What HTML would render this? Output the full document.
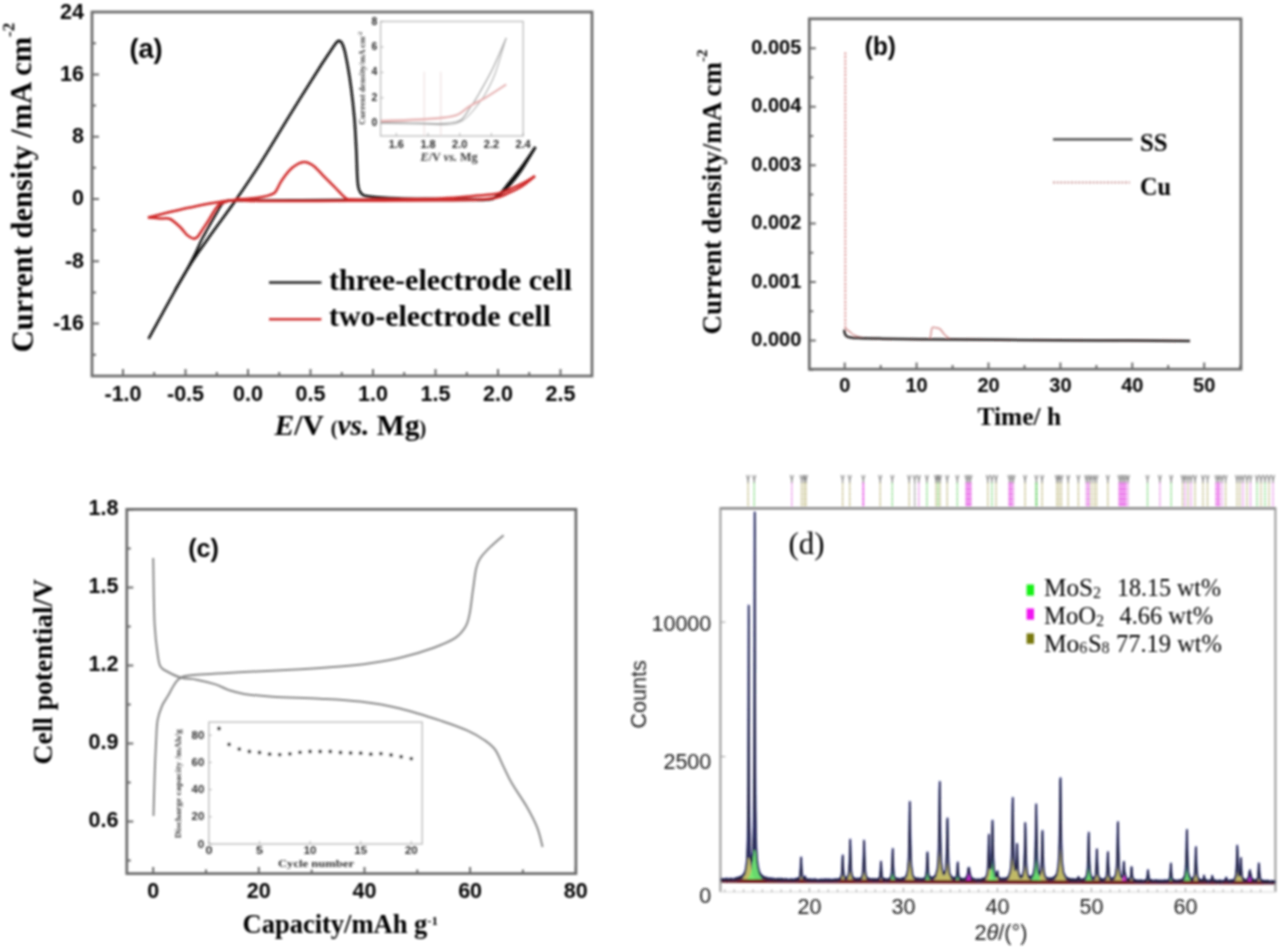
<!DOCTYPE html><html><head><meta charset="utf-8"><title>Figure</title><style>
html,body{margin:0;padding:0;background:#fff;width:1280px;height:947px;overflow:hidden}
svg{display:block}
</style></head><body>
<svg width="1280" height="947" viewBox="0 0 1280 947">
<defs><filter id="bl" x="-5%" y="-5%" width="110%" height="110%"><feGaussianBlur stdDeviation="0.85"/></filter></defs>
<rect width="1280" height="947" fill="#fff"/>
<g filter="url(#bl)">
<rect x="92" y="12" width="500" height="364" fill="none" stroke="#6a6a6a" stroke-width="2.7"/>
<path d="M92,12.1h7 M92,74.4h7 M92,136.7h7 M92,199.0h7 M92,261.3h7 M92,323.6h7 M92,43.2h4 M92,105.6h4 M92,167.8h4 M92,230.2h4 M92,292.4h4 M92,354.8h4 M123.0,376v-7 M185.5,376v-7 M248.0,376v-7 M310.5,376v-7 M373.0,376v-7 M435.5,376v-7 M498.0,376v-7 M560.5,376v-7 M154.2,376v-4 M216.8,376v-4 M279.2,376v-4 M341.8,376v-4 M404.2,376v-4 M466.8,376v-4 M529.2,376v-4" stroke="#6a6a6a" stroke-width="2" fill="none"/>
<g font-family='"Liberation Sans", sans-serif' font-weight="bold" font-size="21.5" fill="#050505">
<text x="84" y="18.5" text-anchor="end">24</text>
<text x="84" y="80.8" text-anchor="end">16</text>
<text x="84" y="143.1" text-anchor="end">8</text>
<text x="84" y="205.4" text-anchor="end">0</text>
<text x="84" y="267.7" text-anchor="end">-8</text>
<text x="84" y="330.0" text-anchor="end">-16</text>
<text x="123.0" y="400.6" text-anchor="middle">-1.0</text>
<text x="185.5" y="400.6" text-anchor="middle">-0.5</text>
<text x="248.0" y="400.6" text-anchor="middle">0.0</text>
<text x="310.5" y="400.6" text-anchor="middle">0.5</text>
<text x="373.0" y="400.6" text-anchor="middle">1.0</text>
<text x="435.5" y="400.6" text-anchor="middle">1.5</text>
<text x="498.0" y="400.6" text-anchor="middle">2.0</text>
<text x="560.5" y="400.6" text-anchor="middle">2.5</text>
</g>
<text x="129.4" y="57.6" font-family='"Liberation Sans", sans-serif' font-weight="bold" font-size="28" fill="#050505" textLength="33.3" lengthAdjust="spacingAndGlyphs">(a)</text>
<text transform="translate(31.7,187.5) rotate(-90.34)" text-anchor="middle" font-family='"Liberation Serif", serif' font-weight="bold" font-size="30.5" fill="#050505">Current density /mA cm<tspan font-size="17" dy="-16.5">-2</tspan></text>
<text x="274.5" y="434.5" font-family='"Liberation Serif", serif' font-weight="bold" font-size="29.6" fill="#050505"><tspan font-style="italic">E</tspan>/V <tspan font-size="20">(</tspan><tspan font-style="italic">vs.</tspan> Mg<tspan font-size="20">)</tspan></text>
<path d="M269,282.4H321.4" stroke="#222" stroke-width="2.5"/>
<path d="M269,319.3H321.4" stroke="#d03030" stroke-width="2.5"/>
<text x="329" y="289.6" font-family='"Liberation Serif", serif' font-weight="bold" font-size="29" fill="#050505" textLength="243" lengthAdjust="spacingAndGlyphs">three-electrode cell</text>
<text x="329" y="325.7" font-family='"Liberation Serif", serif' font-weight="bold" font-size="29" fill="#050505" textLength="222" lengthAdjust="spacingAndGlyphs">two-electrode cell</text>
<path d="M148.5,338.9 C154.7,327.8 175.6,288.9 185.6,272.1 C195.6,255.3 200.2,249.9 208.5,238.0 C216.8,226.1 227.1,212.8 235.5,200.6 C243.9,188.4 249.7,180.0 259.2,165.1 C268.7,150.2 281.9,127.9 292.3,111.1 C302.7,94.3 315.1,74.7 321.7,64.3 C328.3,53.9 329.8,52.1 332.2,48.5 C334.6,44.9 335.3,44.0 336.4,42.7 C337.4,41.4 337.6,40.9 338.5,40.9 C339.4,40.9 340.6,40.9 341.7,42.7 C342.8,44.5 343.8,47.6 344.9,51.7 C345.9,55.8 346.9,61.4 348.0,67.5 C349.1,73.7 350.1,80.1 351.2,88.6 C352.3,97.0 353.5,108.0 354.4,118.2 C355.2,128.4 355.8,140.0 356.3,150.0 C356.8,160.0 357.0,171.5 357.4,178.0 C357.8,184.5 358.0,186.3 358.8,189.0 C359.6,191.7 360.4,193.0 362.0,194.2 C363.6,195.4 362.3,195.6 368.3,196.3 C374.3,197.0 385.9,197.9 397.8,198.3 C409.8,198.8 426.6,198.8 440.0,199.0 C453.4,199.2 469.3,199.6 478.0,199.5 C486.7,199.4 488.5,199.5 492.3,198.4 C496.1,197.3 498.4,194.8 500.8,192.7 C503.2,190.6 503.2,190.1 506.5,186.0 C509.8,181.9 516.0,174.5 520.8,168.0 C525.6,161.5 533.0,150.6 535.5,147.1" fill="none" stroke="#111" stroke-width="2.6" stroke-linejoin="round"/>
<path d="M535.5,147.1 C533.0,151.1 525.6,164.0 520.8,171.0 C516.0,178.0 509.8,185.2 506.5,189.0 C503.2,192.8 503.2,192.3 500.8,194.0 C498.4,195.7 496.1,198.2 492.3,199.2 C488.5,200.2 486.7,199.9 478.0,200.0 C469.3,200.1 456.3,200.0 440.0,200.0 C423.7,200.0 403.3,199.8 380.0,199.8 C356.7,199.8 323.3,200.1 300.0,200.2 C276.7,200.3 252.0,200.4 240.0,200.5 C228.0,200.6 231.0,200.0 228.0,200.6 C225.0,201.2 223.8,202.0 222.0,204.0 C220.2,206.0 219.2,208.4 216.9,212.4 C214.6,216.4 210.5,223.5 208.0,228.0 C205.5,232.5 203.7,235.5 201.7,239.5 C199.7,243.5 198.7,246.6 196.0,252.0 C193.3,257.4 189.1,265.8 185.6,272.1 C182.1,278.4 176.8,287.0 175.0,290.0" fill="none" stroke="#111" stroke-width="2.4" stroke-linejoin="round"/>
<path d="M147.9,217.5 C149.9,217.7 156.3,218.2 160.0,218.5 C163.7,218.8 166.6,217.5 170.0,219.0 C173.4,220.5 177.8,224.8 180.6,227.5 C183.4,230.2 184.8,233.1 186.9,234.9 C189.0,236.8 191.4,238.2 193.2,238.6 C194.9,238.9 196.0,238.3 197.4,237.0 C198.8,235.7 199.9,233.3 201.7,230.7 C203.5,228.1 205.9,224.5 208.0,221.2 C210.1,217.8 212.6,213.3 214.3,210.6 C216.1,207.9 217.1,206.1 218.5,204.8 C219.9,203.5 220.1,203.5 222.8,202.7 C225.6,201.9 230.5,200.5 235.0,199.8 C239.5,199.1 245.5,199.1 250.0,198.6 C254.5,198.1 258.8,197.6 262.0,197.0 C265.2,196.4 266.8,196.1 269.0,195.3 C271.2,194.5 273.2,194.6 275.3,192.1 C277.4,189.6 278.9,184.6 281.7,180.5 C284.5,176.4 288.5,170.9 292.2,167.8 C295.9,164.7 300.4,162.2 303.9,161.9 C307.4,161.6 310.1,163.3 313.4,165.7 C316.7,168.1 320.4,172.8 323.9,176.3 C327.4,179.8 331.0,183.3 334.5,186.8 C338.0,190.3 342.1,195.3 345.0,197.4 C347.9,199.5 346.2,199.2 352.0,199.5 C357.8,199.8 365.3,199.7 380.0,199.5 C394.7,199.3 423.7,199.1 440.0,198.4 C456.3,197.8 468.5,196.4 478.0,195.6 C487.5,194.8 492.2,194.5 497.0,193.7 C501.8,192.9 502.5,192.4 506.5,190.8 C510.5,189.2 516.0,186.6 520.8,184.2 C525.5,181.8 532.6,177.4 535.0,176.1" fill="none" stroke="#d02a2a" stroke-width="2.5" stroke-linejoin="round"/>
<path d="M535.0,176.1 C532.6,177.9 525.5,184.0 520.8,187.0 C516.0,190.0 510.5,192.2 506.5,194.0 C502.5,195.8 501.8,196.6 497.0,197.5 C492.2,198.4 487.5,199.0 478.0,199.5 C468.5,200.0 461.3,200.1 440.0,200.3 C418.7,200.5 380.0,200.7 350.0,200.8 C320.0,200.9 280.0,201.0 260.0,201.0 C240.0,201.0 241.5,199.5 229.8,200.6 C218.1,201.7 203.7,204.7 190.0,207.5 C176.3,210.3 154.9,215.8 147.9,217.5" fill="none" stroke="#d02a2a" stroke-width="2.5" stroke-linejoin="round"/>
<rect x="380.6" y="21.5" width="142.5" height="114.4" fill="#fff" stroke="#b8b8b8" stroke-width="1.3"/>
<path d="M380.6,123.2h3 M380.6,97.8h3 M380.6,72.4h3 M380.6,47.0h3 M380.6,21.6h3 M396.3,135.9v-3 M428.0,135.9v-3 M459.7,135.9v-3 M491.4,135.9v-3 M523.1,135.9v-3" stroke="#aaa" stroke-width="1"/>
<g font-family='"Liberation Sans", sans-serif' font-weight="bold" font-size="10.5" fill="#2a2a2a">
<text x="374.4" y="126.1" text-anchor="middle" textLength="5.8" lengthAdjust="spacingAndGlyphs">0</text>
<text x="374.4" y="100.7" text-anchor="middle" textLength="5.8" lengthAdjust="spacingAndGlyphs">2</text>
<text x="374.4" y="75.3" text-anchor="middle" textLength="5.8" lengthAdjust="spacingAndGlyphs">4</text>
<text x="374.4" y="49.9" text-anchor="middle" textLength="5.8" lengthAdjust="spacingAndGlyphs">6</text>
<text x="374.4" y="24.5" text-anchor="middle" textLength="5.8" lengthAdjust="spacingAndGlyphs">8</text>
<text x="396.3" y="148.1" text-anchor="middle" font-size="11" textLength="15.2" lengthAdjust="spacingAndGlyphs">1.6</text>
<text x="428.0" y="148.1" text-anchor="middle" font-size="11" textLength="15.2" lengthAdjust="spacingAndGlyphs">1.8</text>
<text x="459.7" y="148.1" text-anchor="middle" font-size="11" textLength="15.2" lengthAdjust="spacingAndGlyphs">2.0</text>
<text x="491.4" y="148.1" text-anchor="middle" font-size="11" textLength="15.2" lengthAdjust="spacingAndGlyphs">2.2</text>
<text x="523.1" y="148.1" text-anchor="middle" font-size="11" textLength="15.2" lengthAdjust="spacingAndGlyphs">2.4</text>
</g>
<text x="420.6" y="161.3" font-family='"Liberation Serif", serif' font-weight="bold" font-size="11.5" fill="#3a3a3a" textLength="57" lengthAdjust="spacingAndGlyphs"><tspan font-style="italic">E</tspan>/V <tspan font-style="italic">vs.</tspan> Mg</text>
<text transform="translate(365,78.3) rotate(-90)" text-anchor="middle" font-family='"Liberation Serif", serif' font-weight="bold" font-size="8.2" fill="#3a3a3a" textLength="93" lengthAdjust="spacingAndGlyphs">Current density/mA cm<tspan font-size="5.5" dy="-3.5">-2</tspan></text>
<path d="M424.2,71.7V135.9 M440.8,71.7V135.9" stroke="#ecdada" stroke-width="1"/>
<path d="M381.0,122.5 C385.8,122.6 400.2,122.8 410.0,123.0 C419.8,123.2 432.5,123.7 440.0,123.5 C447.5,123.3 451.3,122.8 455.0,122.0 C458.7,121.2 459.5,121.3 462.0,119.0 C464.5,116.7 467.0,112.5 470.0,108.0 C473.0,103.5 476.2,98.7 480.0,92.0 C483.8,85.3 488.6,77.0 493.0,68.0 C497.4,59.0 504.0,42.9 506.2,37.9" fill="none" stroke="#999" stroke-width="1.2"/>
<path d="M381.0,123.5 C387.5,123.6 408.5,123.8 420.0,124.0 C431.5,124.2 443.0,125.0 450.0,124.5 C457.0,124.0 458.3,123.1 462.0,121.0 C465.7,118.9 468.3,116.2 472.0,112.0 C475.7,107.8 480.2,102.3 484.0,96.0 C487.8,89.7 491.3,83.7 495.0,74.0 C498.7,64.3 504.3,43.9 506.2,37.9" fill="none" stroke="#aaa" stroke-width="1.1"/>
<path d="M381.0,121.0 C387.5,120.8 409.3,120.1 420.0,119.5 C430.7,118.9 438.7,118.3 445.0,117.5 C451.3,116.7 453.8,116.4 458.0,114.5 C462.2,112.6 465.5,108.8 470.0,106.0 C474.5,103.2 479.0,101.6 485.0,98.0 C491.0,94.4 502.7,86.7 506.2,84.4" fill="none" stroke="#e8b4b4" stroke-width="2.3"/>
<rect x="809.3" y="18.8" width="431.7" height="350.4" fill="none" stroke="#6a6a6a" stroke-width="2.7"/>
<path d="M809.3,340.5h6.5 M809.3,282.1h6.5 M809.3,223.6h6.5 M809.3,165.2h6.5 M809.3,106.7h6.5 M809.3,48.3h6.5 M809.3,311.3h4 M809.3,252.8h4 M809.3,194.4h4 M809.3,136.0h4 M809.3,77.5h4 M809.3,369.7h4 M844.7,369v-6.5 M916.6,369v-6.5 M988.5,369v-6.5 M1060.4,369v-6.5 M1132.3,369v-6.5 M1204.2,369v-6.5 M880.7,369v-4 M952.6,369v-4 M1024.5,369v-4 M1096.4,369v-4 M1168.2,369v-4 M1240.2,369v-4" stroke="#6a6a6a" stroke-width="2" fill="none"/>
<g font-family='"Liberation Sans", sans-serif' font-weight="bold" font-size="20" fill="#050505">
<text x="801.3" y="345.9" text-anchor="end">0.000</text>
<text x="801.3" y="287.5" text-anchor="end">0.001</text>
<text x="801.3" y="229.0" text-anchor="end">0.002</text>
<text x="801.3" y="170.6" text-anchor="end">0.003</text>
<text x="801.3" y="112.1" text-anchor="end">0.004</text>
<text x="801.3" y="53.7" text-anchor="end">0.005</text>
<text x="844.7" y="392.3" text-anchor="middle">0</text>
<text x="916.6" y="392.3" text-anchor="middle">10</text>
<text x="988.5" y="392.3" text-anchor="middle">20</text>
<text x="1060.4" y="392.3" text-anchor="middle">30</text>
<text x="1132.3" y="392.3" text-anchor="middle">40</text>
<text x="1204.2" y="392.3" text-anchor="middle">50</text>
</g>
<text x="864.8" y="55.3" font-family='"Liberation Sans", sans-serif' font-weight="bold" font-size="25" fill="#050505" textLength="31" lengthAdjust="spacingAndGlyphs">(b)</text>
<text transform="translate(721.3,192) rotate(-90)" text-anchor="middle" font-family='"Liberation Serif", serif' font-weight="bold" font-size="27" fill="#050505">Current density/mA cm<tspan font-size="15" dy="-14.5">-2</tspan></text>
<text x="977.6" y="425" font-family='"Liberation Serif", serif' font-weight="bold" font-size="26" fill="#050505" textLength="83.4" lengthAdjust="spacingAndGlyphs">Time/ h</text>
<path d="M1053,139.4H1132.5" stroke="#444" stroke-width="2.3"/>
<path d="M1053,182.5H1130" stroke="#cc9a9a" stroke-width="1.8" stroke-dasharray="2,1.6"/>
<text x="1140" y="151.3" font-family='"Liberation Serif", serif' font-weight="bold" font-size="26" fill="#050505" textLength="27.5" lengthAdjust="spacingAndGlyphs">SS</text>
<text x="1140" y="195" font-family='"Liberation Serif", serif' font-weight="bold" font-size="26" fill="#050505" textLength="31" lengthAdjust="spacingAndGlyphs">Cu</text>
<path d="M845.3,52.5V328" stroke="#d88888" stroke-width="1.8" stroke-dasharray="2,1.6" fill="none"/>
<path d="M845.3,328.0 C845.6,328.2 846.2,328.8 847.0,329.5 C847.8,330.2 848.7,331.0 850.0,332.0 C851.3,333.0 853.0,334.6 855.0,335.5 C857.0,336.4 858.7,337.0 862.0,337.5 C865.3,338.0 868.7,338.2 875.0,338.5 C881.3,338.8 891.7,338.9 900.0,339.0 C908.3,339.1 920.0,339.5 925.0,339.3 C930.0,339.1 928.8,339.9 930.0,338.0 C931.2,336.1 931.0,329.7 932.0,328.0 C933.0,326.3 934.7,327.6 936.0,327.8 C937.3,328.0 938.7,328.0 940.0,329.0 C941.3,330.0 942.7,332.6 944.0,334.0 C945.3,335.4 946.2,336.7 948.0,337.5 C949.8,338.3 946.3,338.6 955.0,339.0 C963.7,339.4 975.8,339.6 1000.0,339.8 C1024.2,340.0 1068.3,340.2 1100.0,340.3 C1131.7,340.4 1175.0,340.6 1190.0,340.7" fill="none" stroke="#d89a9a" stroke-width="1.6"/>
<path d="M844.3,329.5 C844.4,330.2 844.5,332.8 845.0,334.0 C845.5,335.2 846.0,335.9 847.0,336.5 C848.0,337.1 849.2,337.4 851.0,337.6 C852.8,337.9 853.2,337.8 858.0,338.0 C862.8,338.2 869.7,338.4 880.0,338.6 C890.3,338.8 900.0,339.0 920.0,339.2 C940.0,339.4 970.0,339.6 1000.0,339.8 C1030.0,340.0 1068.3,340.2 1100.0,340.4 C1131.7,340.6 1175.0,340.9 1190.0,341.0" fill="none" stroke="#2a2424" stroke-width="2.5"/>
<rect x="126.8" y="509.3" width="449.1" height="364.3" fill="none" stroke="#6a6a6a" stroke-width="2.7"/>
<path d="M126.8,821.6h6.5 M126.8,743.6h6.5 M126.8,665.6h6.5 M126.8,587.6h6.5 M126.8,509.6h6.5 M126.8,860.6h4 M126.8,782.6h4 M126.8,704.6h4 M126.8,626.6h4 M126.8,548.6h4 M153.2,873.6v-6.5 M258.8,873.6v-6.5 M364.5,873.6v-6.5 M470.1,873.6v-6.5 M575.8,873.6v-6.5 M206.0,873.6v-4 M311.7,873.6v-4 M417.3,873.6v-4 M522.9,873.6v-4" stroke="#6a6a6a" stroke-width="2" fill="none"/>
<g font-family='"Liberation Sans", sans-serif' font-weight="bold" font-size="21.5" fill="#050505">
<text x="118.5" y="826.9" text-anchor="end">0.6</text>
<text x="118.5" y="748.9" text-anchor="end">0.9</text>
<text x="118.5" y="670.9" text-anchor="end">1.2</text>
<text x="118.5" y="592.9" text-anchor="end">1.5</text>
<text x="118.5" y="514.9" text-anchor="end">1.8</text>
<text x="153.2" y="897.7" text-anchor="middle">0</text>
<text x="258.8" y="897.7" text-anchor="middle">20</text>
<text x="364.5" y="897.7" text-anchor="middle">40</text>
<text x="470.1" y="897.7" text-anchor="middle">60</text>
<text x="575.8" y="897.7" text-anchor="middle">80</text>
</g>
<text x="188.2" y="557" font-family='"Liberation Sans", sans-serif' font-weight="bold" font-size="26" fill="#050505" textLength="30.8" lengthAdjust="spacingAndGlyphs">(c)</text>
<text transform="translate(51.6,671.6) rotate(-90)" text-anchor="middle" font-family='"Liberation Serif", serif' font-weight="bold" font-size="27.5" fill="#050505">Cell potential/V</text>
<text x="242.5" y="933.2" font-family='"Liberation Serif", serif' font-weight="bold" font-size="26.5" fill="#050505">Capacity/mAh g<tspan font-size="13" dy="-8">-1</tspan></text>
<path d="M153.5,816.0 C153.6,811.7 153.9,799.3 154.2,790.0 C154.5,780.7 154.8,769.2 155.2,760.0 C155.6,750.8 156.0,741.7 156.4,735.0 C156.8,728.3 156.7,724.8 157.6,720.0 C158.5,715.2 160.3,710.0 162.0,706.0 C163.7,702.0 166.0,699.3 168.0,695.8 C170.0,692.3 172.1,687.9 174.0,685.0 C175.9,682.1 176.6,680.3 179.4,678.7 C182.2,677.1 180.0,676.4 190.8,675.3 C201.6,674.2 225.6,673.1 244.0,672.1 C262.4,671.1 285.0,670.1 301.0,669.2 C317.0,668.3 328.5,667.6 340.0,666.6 C351.5,665.6 359.6,664.8 370.0,663.2 C380.4,661.6 391.6,659.8 402.2,657.2 C412.8,654.6 425.1,650.9 433.9,647.7 C442.7,644.5 449.7,641.7 455.0,638.2 C460.3,634.7 463.1,630.8 465.6,626.6 C468.1,622.4 468.6,619.0 469.8,612.9 C471.0,606.8 471.9,597.1 473.0,589.7 C474.1,582.3 474.9,573.9 476.1,568.6 C477.3,563.3 477.9,561.7 480.4,558.0 C482.9,554.3 487.0,550.2 490.9,546.4 C494.8,542.6 501.5,537.1 503.6,535.2" fill="none" stroke="#8a8a8a" stroke-width="2"/>
<path d="M153.2,558.1 C153.3,564.6 153.6,585.8 153.8,597.0 C154.1,608.2 154.1,616.0 154.7,625.5 C155.3,635.0 156.6,647.2 157.6,654.0 C158.6,660.8 158.7,663.4 160.4,666.4 C162.1,669.4 164.5,670.1 168.0,672.0 C171.5,673.9 176.6,676.5 181.3,677.8 C186.1,679.1 190.8,678.6 196.5,679.7 C202.2,680.8 210.1,682.7 215.5,684.4 C220.9,686.1 224.1,688.5 228.8,690.1 C233.6,691.7 236.7,692.8 244.0,693.9 C251.3,695.0 259.8,696.0 272.5,696.8 C285.2,697.6 305.4,697.9 320.0,698.7 C334.6,699.5 346.7,700.0 360.0,701.6 C373.3,703.2 386.3,705.2 400.0,708.5 C413.7,711.8 431.0,717.5 442.3,721.2 C453.6,724.9 460.6,727.5 467.6,730.7 C474.6,733.9 479.9,737.0 484.5,740.2 C489.1,743.4 491.9,745.3 495.1,749.7 C498.3,754.1 500.7,761.0 503.5,766.6 C506.3,772.2 508.1,776.8 512.0,783.5 C515.9,790.2 522.6,799.4 526.8,806.8 C531.0,814.2 534.7,821.2 537.3,827.9 C539.9,834.6 541.7,843.7 542.6,846.9" fill="none" stroke="#8a8a8a" stroke-width="2"/>
<rect x="208.9" y="722.2" width="213.3" height="121.7" fill="#fff" stroke="#c0c0c0" stroke-width="1.5"/>
<path d="M208.9,844.0h3 M208.9,816.8h3 M208.9,789.6h3 M208.9,762.4h3 M208.9,735.2h3 M208.9,843.9v-3 M259.5,843.9v-3 M310.1,843.9v-3 M360.7,843.9v-3 M411.3,843.9v-3" stroke="#aaa" stroke-width="1"/>
<g font-family='"Liberation Sans", sans-serif' font-weight="bold" font-size="10.5" fill="#333">
<text x="204.3" y="847.6" text-anchor="end" textLength="6.5" lengthAdjust="spacingAndGlyphs">0</text>
<text x="204.3" y="820.4" text-anchor="end" textLength="12.7" lengthAdjust="spacingAndGlyphs">20</text>
<text x="204.3" y="793.2" text-anchor="end" textLength="12.7" lengthAdjust="spacingAndGlyphs">40</text>
<text x="204.3" y="766.0" text-anchor="end" textLength="12.7" lengthAdjust="spacingAndGlyphs">60</text>
<text x="204.3" y="738.8" text-anchor="end" textLength="12.7" lengthAdjust="spacingAndGlyphs">80</text>
<text x="208.9" y="854.3" text-anchor="middle" textLength="7" lengthAdjust="spacingAndGlyphs">0</text>
<text x="259.5" y="854.3" text-anchor="middle" textLength="7" lengthAdjust="spacingAndGlyphs">5</text>
<text x="310.1" y="854.3" text-anchor="middle" textLength="12.7" lengthAdjust="spacingAndGlyphs">10</text>
<text x="360.7" y="854.3" text-anchor="middle" textLength="12.7" lengthAdjust="spacingAndGlyphs">15</text>
<text x="411.3" y="854.3" text-anchor="middle" textLength="12.7" lengthAdjust="spacingAndGlyphs">20</text>
</g>
<text x="278" y="867.3" font-family='"Liberation Serif", serif' font-weight="bold" font-size="11" fill="#333" textLength="76" lengthAdjust="spacingAndGlyphs">Cycle number</text>
<text transform="translate(181,783.8) rotate(-90)" text-anchor="middle" font-family='"Liberation Serif", serif' font-weight="bold" font-size="9" fill="#444" textLength="109" lengthAdjust="spacingAndGlyphs">Discharge capacity /mAh/g</text>
<circle cx="219.0" cy="728.5" r="1.9" fill="#222"/>
<circle cx="229.1" cy="744.4" r="1.9" fill="#222"/>
<circle cx="239.3" cy="749.1" r="1.9" fill="#222"/>
<circle cx="249.4" cy="751.5" r="1.9" fill="#222"/>
<circle cx="259.5" cy="752.5" r="1.9" fill="#222"/>
<circle cx="269.6" cy="754.2" r="1.9" fill="#222"/>
<circle cx="279.7" cy="754.6" r="1.9" fill="#222"/>
<circle cx="289.9" cy="753.8" r="1.9" fill="#222"/>
<circle cx="300.0" cy="752.3" r="1.9" fill="#222"/>
<circle cx="310.1" cy="751.5" r="1.9" fill="#222"/>
<circle cx="320.2" cy="751.5" r="1.9" fill="#222"/>
<circle cx="330.3" cy="751.5" r="1.9" fill="#222"/>
<circle cx="340.5" cy="752.5" r="1.9" fill="#222"/>
<circle cx="350.6" cy="752.9" r="1.9" fill="#222"/>
<circle cx="360.7" cy="753.2" r="1.9" fill="#222"/>
<circle cx="370.8" cy="754.2" r="1.9" fill="#222"/>
<circle cx="380.9" cy="753.6" r="1.9" fill="#222"/>
<circle cx="391.1" cy="754.9" r="1.9" fill="#222"/>
<circle cx="401.2" cy="756.7" r="1.9" fill="#222"/>
<circle cx="411.3" cy="758.6" r="1.9" fill="#222"/>
</g>
<g filter="url(#bl)">
<path d="M748.1,482V507.5" stroke="#b0a860" stroke-width="1.3" stroke-dasharray="1.5,1"/>
<path d="M746.6,475L748.1,480.5L749.6,475M748.1,480.5V483" stroke="#7a7a7a" stroke-width="1.0" fill="none"/>
<path d="M754.2,482V507.5" stroke="#60d060" stroke-width="1.3" stroke-dasharray="1.5,1"/>
<path d="M752.7,475L754.2,480.5L755.7,475M754.2,480.5V483" stroke="#7a7a7a" stroke-width="1.0" fill="none"/>
<path d="M791.8,482V507.5" stroke="#e070e0" stroke-width="1.3" stroke-dasharray="1.5,1"/>
<path d="M790.3,475L791.8,480.5L793.3,475M791.8,480.5V483" stroke="#7a7a7a" stroke-width="1.0" fill="none"/>
<path d="M801.5,482V507.5" stroke="#b0a860" stroke-width="1.3" stroke-dasharray="1.5,1"/>
<path d="M800.0,475L801.5,480.5L803.0,475M801.5,480.5V483" stroke="#7a7a7a" stroke-width="1.0" fill="none"/>
<path d="M804.0,482V507.5" stroke="#b0a860" stroke-width="1.3" stroke-dasharray="1.5,1"/>
<path d="M802.5,475L804.0,480.5L805.5,475M804.0,480.5V483" stroke="#7a7a7a" stroke-width="1.0" fill="none"/>
<path d="M806.0,482V507.5" stroke="#b0a860" stroke-width="1.3" stroke-dasharray="1.5,1"/>
<path d="M804.5,475L806.0,480.5L807.5,475M806.0,480.5V483" stroke="#7a7a7a" stroke-width="1.0" fill="none"/>
<path d="M842.6,482V507.5" stroke="#b0a860" stroke-width="1.3" stroke-dasharray="1.5,1"/>
<path d="M841.1,475L842.6,480.5L844.1,475M842.6,480.5V483" stroke="#7a7a7a" stroke-width="1.0" fill="none"/>
<path d="M849.7,482V507.5" stroke="#b0a860" stroke-width="1.3" stroke-dasharray="1.5,1"/>
<path d="M848.2,475L849.7,480.5L851.2,475M849.7,480.5V483" stroke="#7a7a7a" stroke-width="1.0" fill="none"/>
<path d="M863.3,482V507.5" stroke="#e030e0" stroke-width="2" stroke-dasharray="1.5,1"/>
<path d="M861.8,475L863.3,480.5L864.8,475M863.3,480.5V483" stroke="#7a7a7a" stroke-width="1.0" fill="none"/>
<path d="M880.2,482V507.5" stroke="#b0a860" stroke-width="1.3" stroke-dasharray="1.5,1"/>
<path d="M878.7,475L880.2,480.5L881.7,475M880.2,480.5V483" stroke="#7a7a7a" stroke-width="1.0" fill="none"/>
<path d="M892.3,482V507.5" stroke="#60d060" stroke-width="1.3" stroke-dasharray="1.5,1"/>
<path d="M890.8,475L892.3,480.5L893.8,475M892.3,480.5V483" stroke="#7a7a7a" stroke-width="1.0" fill="none"/>
<path d="M909.2,482V507.5" stroke="#b0a860" stroke-width="1.3" stroke-dasharray="1.5,1"/>
<path d="M907.7,475L909.2,480.5L910.7,475M909.2,480.5V483" stroke="#7a7a7a" stroke-width="1.0" fill="none"/>
<path d="M914.7,482V507.5" stroke="#808080" stroke-width="1.3" stroke-dasharray="1.5,1"/>
<path d="M913.2,475L914.7,480.5L916.2,475M914.7,480.5V483" stroke="#7a7a7a" stroke-width="1.0" fill="none"/>
<path d="M918.8,482V507.5" stroke="#e070e0" stroke-width="1.3" stroke-dasharray="1.5,1"/>
<path d="M917.3,475L918.8,480.5L920.3,475M918.8,480.5V483" stroke="#7a7a7a" stroke-width="1.0" fill="none"/>
<path d="M926.9,482V507.5" stroke="#60d060" stroke-width="1.3" stroke-dasharray="1.5,1"/>
<path d="M925.4,475L926.9,480.5L928.4,475M926.9,480.5V483" stroke="#7a7a7a" stroke-width="1.0" fill="none"/>
<path d="M936.0,482V507.5" stroke="#b0a860" stroke-width="1.3" stroke-dasharray="1.5,1"/>
<path d="M934.5,475L936.0,480.5L937.5,475M936.0,480.5V483" stroke="#7a7a7a" stroke-width="1.0" fill="none"/>
<path d="M938.0,482V507.5" stroke="#60d060" stroke-width="1.3" stroke-dasharray="1.5,1"/>
<path d="M936.5,475L938.0,480.5L939.5,475M938.0,480.5V483" stroke="#7a7a7a" stroke-width="1.0" fill="none"/>
<path d="M940.0,482V507.5" stroke="#b0a860" stroke-width="1.3" stroke-dasharray="1.5,1"/>
<path d="M938.5,475L940.0,480.5L941.5,475M940.0,480.5V483" stroke="#7a7a7a" stroke-width="1.0" fill="none"/>
<path d="M947.2,482V507.5" stroke="#b0a860" stroke-width="1.3" stroke-dasharray="1.5,1"/>
<path d="M945.7,475L947.2,480.5L948.7,475M947.2,480.5V483" stroke="#7a7a7a" stroke-width="1.0" fill="none"/>
<path d="M957.3,482V507.5" stroke="#60d060" stroke-width="1.3" stroke-dasharray="1.5,1"/>
<path d="M955.8,475L957.3,480.5L958.8,475M957.3,480.5V483" stroke="#7a7a7a" stroke-width="1.0" fill="none"/>
<path d="M966.5,482V507.5" stroke="#e030e0" stroke-width="2" stroke-dasharray="1.5,1"/>
<path d="M965.0,475L966.5,480.5L968.0,475M966.5,480.5V483" stroke="#7a7a7a" stroke-width="1.0" fill="none"/>
<path d="M968.5,482V507.5" stroke="#e030e0" stroke-width="2" stroke-dasharray="1.5,1"/>
<path d="M967.0,475L968.5,480.5L970.0,475M968.5,480.5V483" stroke="#7a7a7a" stroke-width="1.0" fill="none"/>
<path d="M970.5,482V507.5" stroke="#e030e0" stroke-width="2" stroke-dasharray="1.5,1"/>
<path d="M969.0,475L970.5,480.5L972.0,475M970.5,480.5V483" stroke="#7a7a7a" stroke-width="1.0" fill="none"/>
<path d="M987.8,482V507.5" stroke="#b0a860" stroke-width="1.3" stroke-dasharray="1.5,1"/>
<path d="M986.3,475L987.8,480.5L989.3,475M987.8,480.5V483" stroke="#7a7a7a" stroke-width="1.0" fill="none"/>
<path d="M991.9,482V507.5" stroke="#60d060" stroke-width="1.3" stroke-dasharray="1.5,1"/>
<path d="M990.4,475L991.9,480.5L993.4,475M991.9,480.5V483" stroke="#7a7a7a" stroke-width="1.0" fill="none"/>
<path d="M996.0,482V507.5" stroke="#b0a860" stroke-width="1.3" stroke-dasharray="1.5,1"/>
<path d="M994.5,475L996.0,480.5L997.5,475M996.0,480.5V483" stroke="#7a7a7a" stroke-width="1.0" fill="none"/>
<path d="M1009.5,482V507.5" stroke="#e030e0" stroke-width="2" stroke-dasharray="1.5,1"/>
<path d="M1008.0,475L1009.5,480.5L1011.0,475M1009.5,480.5V483" stroke="#7a7a7a" stroke-width="1.0" fill="none"/>
<path d="M1011.5,482V507.5" stroke="#e030e0" stroke-width="2" stroke-dasharray="1.5,1"/>
<path d="M1010.0,475L1011.5,480.5L1013.0,475M1011.5,480.5V483" stroke="#7a7a7a" stroke-width="1.0" fill="none"/>
<path d="M1013.5,482V507.5" stroke="#e070e0" stroke-width="1.3" stroke-dasharray="1.5,1"/>
<path d="M1012.0,475L1013.5,480.5L1015.0,475M1013.5,480.5V483" stroke="#7a7a7a" stroke-width="1.0" fill="none"/>
<path d="M1025.1,482V507.5" stroke="#b0a860" stroke-width="1.3" stroke-dasharray="1.5,1"/>
<path d="M1023.6,475L1025.1,480.5L1026.6,475M1025.1,480.5V483" stroke="#7a7a7a" stroke-width="1.0" fill="none"/>
<path d="M1036.4,482V507.5" stroke="#30c030" stroke-width="2" stroke-dasharray="1.5,1"/>
<path d="M1034.9,475L1036.4,480.5L1037.9,475M1036.4,480.5V483" stroke="#7a7a7a" stroke-width="1.0" fill="none"/>
<path d="M1042.1,482V507.5" stroke="#b0a860" stroke-width="1.3" stroke-dasharray="1.5,1"/>
<path d="M1040.6,475L1042.1,480.5L1043.6,475M1042.1,480.5V483" stroke="#7a7a7a" stroke-width="1.0" fill="none"/>
<path d="M1056.8,482V507.5" stroke="#b0a860" stroke-width="1.3" stroke-dasharray="1.5,1"/>
<path d="M1055.3,475L1056.8,480.5L1058.3,475M1056.8,480.5V483" stroke="#7a7a7a" stroke-width="1.0" fill="none"/>
<path d="M1059.0,482V507.5" stroke="#b0a860" stroke-width="1.3" stroke-dasharray="1.5,1"/>
<path d="M1057.5,475L1059.0,480.5L1060.5,475M1059.0,480.5V483" stroke="#7a7a7a" stroke-width="1.0" fill="none"/>
<path d="M1061.4,482V507.5" stroke="#b0a860" stroke-width="1.3" stroke-dasharray="1.5,1"/>
<path d="M1059.9,475L1061.4,480.5L1062.9,475M1061.4,480.5V483" stroke="#7a7a7a" stroke-width="1.0" fill="none"/>
<path d="M1068.2,482V507.5" stroke="#b0a860" stroke-width="1.3" stroke-dasharray="1.5,1"/>
<path d="M1066.7,475L1068.2,480.5L1069.7,475M1068.2,480.5V483" stroke="#7a7a7a" stroke-width="1.0" fill="none"/>
<path d="M1078.4,482V507.5" stroke="#b0a860" stroke-width="1.3" stroke-dasharray="1.5,1"/>
<path d="M1076.9,475L1078.4,480.5L1079.9,475M1078.4,480.5V483" stroke="#7a7a7a" stroke-width="1.0" fill="none"/>
<path d="M1086.3,482V507.5" stroke="#e070e0" stroke-width="1.3" stroke-dasharray="1.5,1"/>
<path d="M1084.8,475L1086.3,480.5L1087.8,475M1086.3,480.5V483" stroke="#7a7a7a" stroke-width="1.0" fill="none"/>
<path d="M1088.5,482V507.5" stroke="#e030e0" stroke-width="2" stroke-dasharray="1.5,1"/>
<path d="M1087.0,475L1088.5,480.5L1090.0,475M1088.5,480.5V483" stroke="#7a7a7a" stroke-width="1.0" fill="none"/>
<path d="M1091.0,482V507.5" stroke="#b0a860" stroke-width="1.3" stroke-dasharray="1.5,1"/>
<path d="M1089.5,475L1091.0,480.5L1092.5,475M1091.0,480.5V483" stroke="#7a7a7a" stroke-width="1.0" fill="none"/>
<path d="M1094.0,482V507.5" stroke="#b0a860" stroke-width="1.3" stroke-dasharray="1.5,1"/>
<path d="M1092.5,475L1094.0,480.5L1095.5,475M1094.0,480.5V483" stroke="#7a7a7a" stroke-width="1.0" fill="none"/>
<path d="M1096.5,482V507.5" stroke="#b0a860" stroke-width="1.3" stroke-dasharray="1.5,1"/>
<path d="M1095.0,475L1096.5,480.5L1098.0,475M1096.5,480.5V483" stroke="#7a7a7a" stroke-width="1.0" fill="none"/>
<path d="M1107.8,482V507.5" stroke="#b0a860" stroke-width="1.3" stroke-dasharray="1.5,1"/>
<path d="M1106.3,475L1107.8,480.5L1109.3,475M1107.8,480.5V483" stroke="#7a7a7a" stroke-width="1.0" fill="none"/>
<path d="M1119.5,482V507.5" stroke="#e030e0" stroke-width="2" stroke-dasharray="1.5,1"/>
<path d="M1118.0,475L1119.5,480.5L1121.0,475M1119.5,480.5V483" stroke="#7a7a7a" stroke-width="1.0" fill="none"/>
<path d="M1121.5,482V507.5" stroke="#e030e0" stroke-width="2" stroke-dasharray="1.5,1"/>
<path d="M1120.0,475L1121.5,480.5L1123.0,475M1121.5,480.5V483" stroke="#7a7a7a" stroke-width="1.0" fill="none"/>
<path d="M1123.5,482V507.5" stroke="#e030e0" stroke-width="2" stroke-dasharray="1.5,1"/>
<path d="M1122.0,475L1123.5,480.5L1125.0,475M1123.5,480.5V483" stroke="#7a7a7a" stroke-width="1.0" fill="none"/>
<path d="M1125.5,482V507.5" stroke="#e030e0" stroke-width="2" stroke-dasharray="1.5,1"/>
<path d="M1124.0,475L1125.5,480.5L1127.0,475M1125.5,480.5V483" stroke="#7a7a7a" stroke-width="1.0" fill="none"/>
<path d="M1128.0,482V507.5" stroke="#e070e0" stroke-width="1.3" stroke-dasharray="1.5,1"/>
<path d="M1126.5,475L1128.0,480.5L1129.5,475M1128.0,480.5V483" stroke="#7a7a7a" stroke-width="1.0" fill="none"/>
<path d="M1147.5,482V507.5" stroke="#60d060" stroke-width="1.3" stroke-dasharray="1.5,1"/>
<path d="M1146.0,475L1147.5,480.5L1149.0,475M1147.5,480.5V483" stroke="#7a7a7a" stroke-width="1.0" fill="none"/>
<path d="M1159.9,482V507.5" stroke="#e070e0" stroke-width="1.3" stroke-dasharray="1.5,1"/>
<path d="M1158.4,475L1159.9,480.5L1161.4,475M1159.9,480.5V483" stroke="#7a7a7a" stroke-width="1.0" fill="none"/>
<path d="M1171.2,482V507.5" stroke="#60d060" stroke-width="1.3" stroke-dasharray="1.5,1"/>
<path d="M1169.7,475L1171.2,480.5L1172.7,475M1171.2,480.5V483" stroke="#7a7a7a" stroke-width="1.0" fill="none"/>
<path d="M1182.6,482V507.5" stroke="#b0a860" stroke-width="1.3" stroke-dasharray="1.5,1"/>
<path d="M1181.1,475L1182.6,480.5L1184.1,475M1182.6,480.5V483" stroke="#7a7a7a" stroke-width="1.0" fill="none"/>
<path d="M1185.0,482V507.5" stroke="#e070e0" stroke-width="1.3" stroke-dasharray="1.5,1"/>
<path d="M1183.5,475L1185.0,480.5L1186.5,475M1185.0,480.5V483" stroke="#7a7a7a" stroke-width="1.0" fill="none"/>
<path d="M1188.0,482V507.5" stroke="#b0a860" stroke-width="1.3" stroke-dasharray="1.5,1"/>
<path d="M1186.5,475L1188.0,480.5L1189.5,475M1188.0,480.5V483" stroke="#7a7a7a" stroke-width="1.0" fill="none"/>
<path d="M1191.0,482V507.5" stroke="#e070e0" stroke-width="1.3" stroke-dasharray="1.5,1"/>
<path d="M1189.5,475L1191.0,480.5L1192.5,475M1191.0,480.5V483" stroke="#7a7a7a" stroke-width="1.0" fill="none"/>
<path d="M1195.0,482V507.5" stroke="#b0a860" stroke-width="1.3" stroke-dasharray="1.5,1"/>
<path d="M1193.5,475L1195.0,480.5L1196.5,475M1195.0,480.5V483" stroke="#7a7a7a" stroke-width="1.0" fill="none"/>
<path d="M1203.0,482V507.5" stroke="#b0a860" stroke-width="1.3" stroke-dasharray="1.5,1"/>
<path d="M1201.5,475L1203.0,480.5L1204.5,475M1203.0,480.5V483" stroke="#7a7a7a" stroke-width="1.0" fill="none"/>
<path d="M1207.5,482V507.5" stroke="#b0a860" stroke-width="1.3" stroke-dasharray="1.5,1"/>
<path d="M1206.0,475L1207.5,480.5L1209.0,475M1207.5,480.5V483" stroke="#7a7a7a" stroke-width="1.0" fill="none"/>
<path d="M1216.5,482V507.5" stroke="#e030e0" stroke-width="2" stroke-dasharray="1.5,1"/>
<path d="M1215.0,475L1216.5,480.5L1218.0,475M1216.5,480.5V483" stroke="#7a7a7a" stroke-width="1.0" fill="none"/>
<path d="M1219.0,482V507.5" stroke="#e030e0" stroke-width="2" stroke-dasharray="1.5,1"/>
<path d="M1217.5,475L1219.0,480.5L1220.5,475M1219.0,480.5V483" stroke="#7a7a7a" stroke-width="1.0" fill="none"/>
<path d="M1222.0,482V507.5" stroke="#e070e0" stroke-width="1.3" stroke-dasharray="1.5,1"/>
<path d="M1220.5,475L1222.0,480.5L1223.5,475M1222.0,480.5V483" stroke="#7a7a7a" stroke-width="1.0" fill="none"/>
<path d="M1225.6,482V507.5" stroke="#b0a860" stroke-width="1.3" stroke-dasharray="1.5,1"/>
<path d="M1224.1,475L1225.6,480.5L1227.1,475M1225.6,480.5V483" stroke="#7a7a7a" stroke-width="1.0" fill="none"/>
<path d="M1237.0,482V507.5" stroke="#b0a860" stroke-width="1.3" stroke-dasharray="1.5,1"/>
<path d="M1235.5,475L1237.0,480.5L1238.5,475M1237.0,480.5V483" stroke="#7a7a7a" stroke-width="1.0" fill="none"/>
<path d="M1240.0,482V507.5" stroke="#b0a860" stroke-width="1.3" stroke-dasharray="1.5,1"/>
<path d="M1238.5,475L1240.0,480.5L1241.5,475M1240.0,480.5V483" stroke="#7a7a7a" stroke-width="1.0" fill="none"/>
<path d="M1243.0,482V507.5" stroke="#e070e0" stroke-width="1.3" stroke-dasharray="1.5,1"/>
<path d="M1241.5,475L1243.0,480.5L1244.5,475M1243.0,480.5V483" stroke="#7a7a7a" stroke-width="1.0" fill="none"/>
<path d="M1247.0,482V507.5" stroke="#b0a860" stroke-width="1.3" stroke-dasharray="1.5,1"/>
<path d="M1245.5,475L1247.0,480.5L1248.5,475M1247.0,480.5V483" stroke="#7a7a7a" stroke-width="1.0" fill="none"/>
<path d="M1250.5,482V507.5" stroke="#e070e0" stroke-width="1.3" stroke-dasharray="1.5,1"/>
<path d="M1249.0,475L1250.5,480.5L1252.0,475M1250.5,480.5V483" stroke="#7a7a7a" stroke-width="1.0" fill="none"/>
<path d="M1257.0,482V507.5" stroke="#60d060" stroke-width="1.3" stroke-dasharray="1.5,1"/>
<path d="M1255.5,475L1257.0,480.5L1258.5,475M1257.0,480.5V483" stroke="#7a7a7a" stroke-width="1.0" fill="none"/>
<path d="M1261.0,482V507.5" stroke="#b0a860" stroke-width="1.3" stroke-dasharray="1.5,1"/>
<path d="M1259.5,475L1261.0,480.5L1262.5,475M1261.0,480.5V483" stroke="#7a7a7a" stroke-width="1.0" fill="none"/>
<path d="M1265.0,482V507.5" stroke="#60d060" stroke-width="1.3" stroke-dasharray="1.5,1"/>
<path d="M1263.5,475L1265.0,480.5L1266.5,475M1265.0,480.5V483" stroke="#7a7a7a" stroke-width="1.0" fill="none"/>
<path d="M1269.0,482V507.5" stroke="#b0a860" stroke-width="1.3" stroke-dasharray="1.5,1"/>
<path d="M1267.5,475L1269.0,480.5L1270.5,475M1269.0,480.5V483" stroke="#7a7a7a" stroke-width="1.0" fill="none"/>
<path d="M1273.0,482V507.5" stroke="#e070e0" stroke-width="1.3" stroke-dasharray="1.5,1"/>
<path d="M1271.5,475L1273.0,480.5L1274.5,475M1273.0,480.5V483" stroke="#7a7a7a" stroke-width="1.0" fill="none"/>
<path d="M720.4,892V508.3H1275.4V892" fill="none" stroke="#9a9a9a" stroke-width="2"/>
<path d="M720.4,508.3H1275.4" fill="none" stroke="#8a8a8a" stroke-width="2.2"/>
<path d="M720.4,892H1275.4" fill="none" stroke="#d8d8d8" stroke-width="1.2"/>
<path d="M724.8,892v-2.5 M734.2,892v-2.5 M743.6,892v-2.5 M753.0,892v-2.5 M762.4,892v-2.5 M771.8,892v-2.5 M781.2,892v-2.5 M790.6,892v-2.5 M800.0,892v-2.5 M809.4,892v-4 M818.8,892v-2.5 M828.2,892v-2.5 M837.6,892v-2.5 M847.0,892v-2.5 M856.4,892v-2.5 M865.8,892v-2.5 M875.2,892v-2.5 M884.6,892v-2.5 M894.0,892v-2.5 M903.4,892v-4 M912.8,892v-2.5 M922.2,892v-2.5 M931.6,892v-2.5 M941.0,892v-2.5 M950.4,892v-2.5 M959.8,892v-2.5 M969.2,892v-2.5 M978.6,892v-2.5 M988.0,892v-2.5 M997.4,892v-4 M1006.8,892v-2.5 M1016.2,892v-2.5 M1025.6,892v-2.5 M1035.0,892v-2.5 M1044.4,892v-2.5 M1053.8,892v-2.5 M1063.2,892v-2.5 M1072.6,892v-2.5 M1082.0,892v-2.5 M1091.4,892v-4 M1100.8,892v-2.5 M1110.2,892v-2.5 M1119.6,892v-2.5 M1129.0,892v-2.5 M1138.4,892v-2.5 M1147.8,892v-2.5 M1157.2,892v-2.5 M1166.6,892v-2.5 M1176.0,892v-2.5 M1185.4,892v-4 M1194.8,892v-2.5 M1204.2,892v-2.5 M1213.6,892v-2.5 M1223.0,892v-2.5 M1232.4,892v-2.5 M1241.8,892v-2.5 M1251.2,892v-2.5 M1260.6,892v-2.5" stroke="#999" stroke-width="1"/>
<path d="M720.4,622.1h5M720.4,756.6h5" stroke="#999" stroke-width="1"/>
<path d="M721.0,881.0 L721.0,879.1 L721.5,879.4 L722.0,879.9 L722.5,878.7 L723.0,879.1 L723.5,880.6 L724.0,880.3 L724.5,879.9 L725.0,879.8 L725.5,879.6 L726.0,879.9 L726.5,880.0 L727.0,879.1 L727.5,880.2 L728.0,879.9 L728.5,879.9 L729.0,879.2 L729.5,879.3 L730.0,880.1 L730.5,878.6 L731.0,880.2 L731.5,879.5 L732.0,879.2 L732.5,878.9 L733.0,879.3 L733.5,879.5 L734.0,879.8 L734.5,879.3 L735.0,879.6 L735.5,879.7 L736.0,879.2 L736.5,879.4 L737.0,878.2 L737.5,879.2 L738.0,877.6 L738.5,878.1 L739.0,877.7 L739.5,878.7 L740.0,878.0 L740.5,878.0 L741.0,878.1 L741.5,877.0 L742.0,876.3 L742.5,876.4 L743.0,875.1 L743.5,875.3 L744.0,873.4 L744.5,873.0 L745.0,872.9 L745.5,870.3 L746.0,868.1 L746.5,864.2 L747.0,858.9 L747.5,846.3 L748.0,818.1 L748.5,700.8 L748.8,616.1 L749.2,800.8 L749.8,838.9 L750.2,853.5 L750.8,859.2 L751.2,861.3 L751.8,861.0 L752.2,857.1 L752.8,852.9 L753.2,841.5 L753.8,819.4 L754.2,749.7 L754.7,512.4 L755.0,695.7 L755.5,807.6 L756.0,837.8 L756.5,851.0 L757.0,859.7 L757.5,863.3 L758.0,867.6 L758.5,869.1 L759.0,871.9 L759.5,873.3 L760.0,873.3 L760.5,875.2 L761.0,874.6 L761.5,875.8 L762.0,876.8 L762.5,876.0 L763.0,877.6 L763.5,877.9 L764.0,876.8 L764.5,878.3 L765.0,877.6 L765.5,877.9 L766.0,879.1 L766.5,877.4 L767.0,879.3 L767.5,878.5 L768.0,879.6 L768.5,879.3 L769.0,879.2 L769.5,878.5 L770.0,878.5 L770.5,879.3 L771.0,879.8 L771.5,880.0 L772.0,880.1 L772.5,880.1 L773.0,878.4 L773.5,878.7 L774.0,879.7 L774.5,879.3 L775.0,879.7 L775.5,879.0 L776.0,879.5 L776.5,879.3 L777.0,879.7 L777.5,878.9 L778.0,880.5 L778.5,880.3 L779.0,879.9 L779.5,878.8 L780.0,879.2 L780.5,879.6 L781.0,880.3 L781.5,878.9 L782.0,879.0 L782.5,880.7 L783.0,879.0 L783.5,879.4 L784.0,879.5 L784.5,880.0 L785.0,879.2 L785.5,879.1 L786.0,880.3 L786.5,879.0 L787.0,879.6 L787.5,880.4 L788.0,880.5 L788.5,879.7 L789.0,879.9 L789.5,879.7 L790.0,879.8 L790.5,880.0 L791.0,879.0 L791.5,879.7 L792.0,880.7 L792.5,880.7 L793.0,879.4 L793.5,879.1 L794.0,880.2 L794.5,880.4 L795.0,880.3 L795.5,879.0 L796.0,878.7 L796.5,880.2 L797.0,878.7 L797.5,880.2 L798.0,878.2 L798.5,878.1 L799.0,878.7 L799.5,878.2 L800.0,875.6 L800.5,869.8 L801.0,857.8 L801.5,865.4 L802.0,872.5 L802.5,876.7 L803.0,877.4 L803.5,878.0 L804.0,879.2 L804.5,877.8 L805.0,876.3 L805.5,877.5 L806.0,880.2 L806.5,880.1 L807.0,880.1 L807.5,880.2 L808.0,879.8 L808.5,880.7 L809.0,879.1 L809.5,880.8 L810.0,879.9 L810.5,879.4 L811.0,879.4 L811.5,879.7 L812.0,880.4 L812.5,879.7 L813.0,879.9 L813.5,880.3 L814.0,879.5 L814.5,880.1 L815.0,879.4 L815.5,879.7 L816.0,879.4 L816.5,880.1 L817.0,880.1 L817.5,880.8 L818.0,880.1 L818.5,880.8 L819.0,880.6 L819.5,880.1 L820.0,879.6 L820.5,880.5 L821.0,880.8 L821.5,879.5 L822.0,879.5 L822.5,880.9 L823.0,879.7 L823.5,879.8 L824.0,880.6 L824.5,879.3 L825.0,879.7 L825.5,880.3 L826.0,879.2 L826.5,880.0 L827.0,879.6 L827.5,881.0 L828.0,880.2 L828.5,879.7 L829.0,879.4 L829.5,880.9 L830.0,881.0 L830.5,880.7 L831.0,879.7 L831.5,880.4 L832.0,879.6 L832.5,881.0 L833.0,880.1 L833.5,880.0 L834.0,880.5 L834.5,880.2 L835.0,880.3 L835.5,879.3 L836.0,880.3 L836.5,880.8 L837.0,879.5 L837.5,880.0 L838.0,880.0 L838.5,879.2 L839.0,878.6 L839.5,879.7 L840.0,879.4 L840.5,877.9 L841.0,878.1 L841.5,875.3 L842.0,870.9 L842.5,858.1 L843.0,861.3 L843.5,871.4 L844.0,874.9 L844.5,876.5 L845.0,878.6 L845.5,877.7 L846.0,878.2 L846.5,878.9 L847.0,878.2 L847.5,877.2 L848.0,876.5 L848.5,874.1 L849.0,871.7 L849.5,863.5 L850.0,845.2 L850.5,848.7 L851.0,865.5 L851.5,872.5 L852.0,875.9 L852.5,877.0 L853.0,876.8 L853.5,878.7 L854.0,878.8 L854.5,878.4 L855.0,878.3 L855.5,879.6 L856.0,879.5 L856.5,880.2 L857.0,880.1 L857.5,878.6 L858.0,878.9 L858.5,879.5 L859.0,878.9 L859.5,879.6 L860.0,879.7 L860.5,879.5 L861.0,878.7 L861.5,878.2 L862.0,877.2 L862.5,874.9 L863.0,869.5 L863.5,859.7 L864.0,840.7 L864.5,853.8 L865.0,867.2 L865.5,872.7 L866.0,876.3 L866.5,876.6 L867.0,878.5 L867.5,878.4 L868.0,879.2 L868.5,878.3 L869.0,880.0 L869.5,879.5 L870.0,879.1 L870.5,879.6 L871.0,878.9 L871.5,879.2 L872.0,879.0 L872.5,879.8 L873.0,880.3 L873.5,879.8 L874.0,879.0 L874.5,879.4 L875.0,879.9 L875.5,880.2 L876.0,879.2 L876.5,880.3 L877.0,880.4 L877.5,880.6 L878.0,879.1 L878.5,879.9 L879.0,878.6 L879.5,878.4 L880.0,876.3 L880.5,869.9 L881.0,861.7 L881.5,869.9 L882.0,876.9 L882.5,879.0 L883.0,879.5 L883.5,880.1 L884.0,879.1 L884.5,880.5 L885.0,879.3 L885.5,879.0 L886.0,879.4 L886.5,880.6 L887.0,880.2 L887.5,880.3 L888.0,880.4 L888.5,879.3 L889.0,879.8 L889.5,878.5 L890.0,879.0 L890.5,878.2 L891.0,876.5 L891.5,874.3 L892.0,867.6 L892.5,853.4 L893.0,856.0 L893.5,869.7 L894.0,875.3 L894.5,877.6 L895.0,877.6 L895.5,877.7 L896.0,879.8 L896.5,879.3 L897.0,878.5 L897.5,878.9 L898.0,878.8 L898.5,879.7 L899.0,879.0 L899.5,879.0 L900.0,879.3 L900.5,879.7 L901.0,879.5 L901.5,878.7 L902.0,879.9 L902.5,878.2 L903.0,878.4 L903.5,877.9 L904.0,878.0 L904.5,878.4 L905.0,878.3 L905.5,877.0 L906.0,876.4 L906.5,876.2 L907.0,874.7 L907.5,871.9 L908.0,868.7 L908.5,861.4 L909.0,847.5 L909.5,818.3 L910.0,810.3 L910.5,843.5 L911.0,860.8 L911.5,867.1 L912.0,870.7 L912.5,874.5 L913.0,876.0 L913.5,876.6 L914.0,877.2 L914.5,878.6 L915.0,879.0 L915.5,879.0 L916.0,879.7 L916.5,878.5 L917.0,878.4 L917.5,879.6 L918.0,879.3 L918.5,878.4 L919.0,878.9 L919.5,879.1 L920.0,879.9 L920.5,878.7 L921.0,879.3 L921.5,878.7 L922.0,879.8 L922.5,880.3 L923.0,879.0 L923.5,878.7 L924.0,878.9 L924.5,878.2 L925.0,877.6 L925.5,877.9 L926.0,874.9 L926.5,872.0 L927.0,860.5 L927.5,852.4 L928.0,865.5 L928.5,873.8 L929.0,876.9 L929.5,878.2 L930.0,877.2 L930.5,878.0 L931.0,877.4 L931.5,877.5 L932.0,877.8 L932.5,878.0 L933.0,877.1 L933.5,878.0 L934.0,878.2 L934.5,876.5 L935.0,876.9 L935.5,875.6 L936.0,874.7 L936.5,872.5 L937.0,871.3 L937.5,868.7 L938.0,863.1 L938.5,854.1 L939.0,833.9 L939.5,791.6 L940.0,802.2 L940.5,839.3 L941.0,855.4 L941.5,864.3 L942.0,869.1 L942.5,870.4 L943.0,872.2 L943.5,873.9 L944.0,873.8 L944.5,873.5 L945.0,872.4 L945.5,870.8 L946.0,865.5 L946.5,857.1 L947.0,836.9 L947.5,818.4 L948.0,847.9 L948.5,862.0 L949.0,868.6 L949.5,873.4 L950.0,874.2 L950.5,875.5 L951.0,876.3 L951.5,876.6 L952.0,877.3 L952.5,878.3 L953.0,879.1 L953.5,879.2 L954.0,878.3 L954.5,877.9 L955.0,878.6 L955.5,878.5 L956.0,877.3 L956.5,875.9 L957.0,872.5 L957.5,864.6 L958.0,865.7 L958.5,874.8 L959.0,876.5 L959.5,879.0 L960.0,879.8 L960.5,878.9 L961.0,879.1 L961.5,879.0 L962.0,878.8 L962.5,879.2 L963.0,878.7 L963.5,880.3 L964.0,880.3 L964.5,879.0 L965.0,879.0 L965.5,878.4 L966.0,878.0 L966.5,878.2 L967.0,876.4 L967.5,874.5 L968.0,872.2 L968.5,868.0 L969.0,868.0 L969.5,871.7 L970.0,873.5 L970.5,875.7 L971.0,878.5 L971.5,879.0 L972.0,877.8 L972.5,879.7 L973.0,879.7 L973.5,880.1 L974.0,879.7 L974.5,879.0 L975.0,879.4 L975.5,879.6 L976.0,879.6 L976.5,880.9 L977.0,880.6 L977.5,879.5 L978.0,879.5 L978.5,879.9 L979.0,879.6 L979.5,879.4 L980.0,879.7 L980.5,879.8 L981.0,880.7 L981.5,879.5 L982.0,878.7 L982.5,880.2 L983.0,878.5 L983.5,878.9 L984.0,878.7 L984.5,878.8 L985.0,878.2 L985.5,878.2 L986.0,876.7 L986.5,875.8 L987.0,874.6 L987.5,871.3 L988.0,864.0 L988.5,849.2 L989.0,834.7 L989.5,855.8 L990.0,865.9 L990.5,868.4 L991.0,867.5 L991.5,861.4 L992.0,844.5 L992.5,820.6 L993.0,844.3 L993.5,861.0 L994.0,869.5 L994.5,871.7 L995.0,874.3 L995.5,876.5 L996.0,875.9 L996.5,876.2 L997.0,874.1 L997.5,871.1 L998.0,876.8 L998.5,876.9 L999.0,879.0 L999.5,877.9 L1000.0,879.0 L1000.5,879.9 L1001.0,878.9 L1001.5,879.5 L1002.0,878.7 L1002.5,878.5 L1003.0,878.3 L1003.5,879.3 L1004.0,878.4 L1004.5,879.0 L1005.0,879.1 L1005.5,879.8 L1006.0,878.7 L1006.5,878.1 L1007.0,877.5 L1007.5,878.1 L1008.0,877.9 L1008.5,877.4 L1009.0,875.3 L1009.5,874.6 L1010.0,872.4 L1010.5,869.8 L1011.0,867.0 L1011.5,859.2 L1012.0,841.3 L1012.5,805.4 L1013.0,814.2 L1013.5,846.9 L1014.0,859.7 L1014.5,865.6 L1015.0,868.7 L1015.5,869.6 L1016.0,867.4 L1016.5,860.5 L1017.0,843.9 L1017.5,854.9 L1018.0,866.6 L1018.5,872.1 L1019.0,874.8 L1019.5,875.7 L1020.0,877.0 L1020.5,876.7 L1021.0,876.4 L1021.5,877.0 L1022.0,876.9 L1022.5,875.2 L1023.0,874.1 L1023.5,872.2 L1024.0,867.8 L1024.5,856.9 L1025.0,835.7 L1025.5,829.1 L1026.0,854.4 L1026.5,866.1 L1027.0,870.6 L1027.5,874.4 L1028.0,875.0 L1028.5,877.1 L1029.0,877.9 L1029.5,877.7 L1030.0,876.4 L1030.5,877.9 L1031.0,877.3 L1031.5,876.6 L1032.0,876.8 L1032.5,875.2 L1033.0,874.7 L1033.5,873.0 L1034.0,870.8 L1034.5,867.8 L1035.0,859.7 L1035.5,845.0 L1036.0,812.2 L1036.5,820.5 L1037.0,850.3 L1037.5,862.0 L1038.0,867.7 L1038.5,872.2 L1039.0,873.8 L1039.5,873.5 L1040.0,874.4 L1040.5,872.5 L1041.0,868.9 L1041.5,863.8 L1042.0,846.5 L1042.5,830.8 L1043.0,855.3 L1043.5,866.6 L1044.0,871.6 L1044.5,873.9 L1045.0,875.7 L1045.5,876.8 L1046.0,878.2 L1046.5,878.5 L1047.0,879.1 L1047.5,878.8 L1048.0,878.6 L1048.5,878.3 L1049.0,878.4 L1049.5,879.1 L1050.0,879.8 L1050.5,878.8 L1051.0,879.1 L1051.5,879.8 L1052.0,878.2 L1052.5,879.2 L1053.0,879.0 L1053.5,878.4 L1054.0,878.2 L1054.5,876.9 L1055.0,878.0 L1055.5,875.6 L1056.0,876.4 L1056.5,874.8 L1057.0,873.7 L1057.5,871.9 L1058.0,868.1 L1058.5,863.3 L1059.0,856.2 L1059.5,841.8 L1060.0,806.9 L1060.5,778.2 L1061.0,824.0 L1061.5,847.9 L1062.0,860.5 L1062.5,865.6 L1063.0,869.1 L1063.5,872.6 L1064.0,874.4 L1064.5,874.5 L1065.0,876.0 L1065.5,877.2 L1066.0,878.2 L1066.5,878.4 L1067.0,878.5 L1067.5,878.4 L1068.0,879.6 L1068.5,878.4 L1069.0,879.5 L1069.5,879.4 L1070.0,880.6 L1070.5,879.5 L1071.0,879.1 L1071.5,879.9 L1072.0,880.8 L1072.5,879.1 L1073.0,879.1 L1073.5,880.9 L1074.0,879.2 L1074.5,879.8 L1075.0,879.8 L1075.5,879.5 L1076.0,879.3 L1076.5,879.2 L1077.0,879.4 L1077.5,880.1 L1078.0,878.8 L1078.5,877.0 L1079.0,879.3 L1079.5,880.7 L1080.0,879.1 L1080.5,880.9 L1081.0,880.5 L1081.5,879.9 L1082.0,880.2 L1082.5,879.6 L1083.0,879.3 L1083.5,879.2 L1084.0,879.8 L1084.5,880.1 L1085.0,878.2 L1085.5,877.4 L1086.0,877.6 L1086.5,875.6 L1087.0,873.0 L1087.5,869.4 L1088.0,860.4 L1088.5,837.6 L1089.0,842.0 L1089.5,862.8 L1090.0,870.9 L1090.5,873.7 L1091.0,875.6 L1091.5,877.7 L1092.0,877.3 L1092.5,878.4 L1093.0,878.6 L1093.5,878.0 L1094.0,878.7 L1094.5,878.7 L1095.0,877.7 L1095.5,875.4 L1096.0,869.7 L1096.5,859.8 L1097.0,849.3 L1097.5,864.5 L1098.0,873.6 L1098.5,875.4 L1099.0,878.4 L1099.5,878.2 L1100.0,880.0 L1100.5,878.5 L1101.0,879.3 L1101.5,880.7 L1102.0,879.0 L1102.5,879.4 L1103.0,880.7 L1103.5,880.6 L1104.0,879.3 L1104.5,879.5 L1105.0,878.9 L1105.5,878.1 L1106.0,878.4 L1106.5,876.3 L1107.0,870.9 L1107.5,860.1 L1108.0,852.2 L1108.5,866.3 L1109.0,873.3 L1109.5,877.3 L1110.0,877.4 L1110.5,877.9 L1111.0,878.5 L1111.5,878.3 L1112.0,878.9 L1112.5,879.4 L1113.0,878.4 L1113.5,878.8 L1114.0,879.0 L1114.5,877.0 L1115.0,876.0 L1115.5,875.4 L1116.0,872.6 L1116.5,868.6 L1117.0,859.9 L1117.5,839.8 L1118.0,822.2 L1118.5,850.0 L1119.0,864.3 L1119.5,870.4 L1120.0,873.6 L1120.5,875.8 L1121.0,876.7 L1121.5,877.1 L1122.0,876.6 L1122.5,875.8 L1123.0,873.7 L1123.5,867.4 L1124.0,861.8 L1124.5,870.9 L1125.0,874.5 L1125.5,875.4 L1126.0,877.9 L1126.5,879.0 L1127.0,880.1 L1127.5,880.3 L1128.0,878.9 L1128.5,879.0 L1129.0,880.4 L1129.5,879.9 L1130.0,878.5 L1130.5,876.9 L1131.0,875.2 L1131.5,867.0 L1132.0,871.8 L1132.5,877.4 L1133.0,878.3 L1133.5,880.7 L1134.0,880.4 L1134.5,881.1 L1135.0,880.6 L1135.5,880.0 L1136.0,881.4 L1136.5,880.4 L1137.0,880.2 L1137.5,880.8 L1138.0,881.0 L1138.5,880.6 L1139.0,881.5 L1139.5,880.6 L1140.0,881.9 L1140.5,881.2 L1141.0,881.9 L1141.5,880.5 L1142.0,880.7 L1142.5,880.7 L1143.0,881.3 L1143.5,881.3 L1144.0,881.2 L1144.5,881.0 L1145.0,881.5 L1145.5,881.3 L1146.0,881.2 L1146.5,879.9 L1147.0,879.3 L1147.5,875.1 L1148.0,870.1 L1148.5,874.6 L1149.0,878.3 L1149.5,879.9 L1150.0,880.1 L1150.5,881.4 L1151.0,879.9 L1151.5,880.9 L1152.0,881.6 L1152.5,880.7 L1153.0,881.3 L1153.5,881.8 L1154.0,880.8 L1154.5,881.3 L1155.0,881.2 L1155.5,880.2 L1156.0,880.5 L1156.5,881.9 L1157.0,880.7 L1157.5,881.5 L1158.0,881.7 L1158.5,882.2 L1159.0,880.8 L1159.5,881.9 L1160.0,881.4 L1160.5,881.1 L1161.0,880.3 L1161.5,881.9 L1162.0,881.6 L1162.5,882.1 L1163.0,880.8 L1163.5,880.5 L1164.0,880.3 L1164.5,880.9 L1165.0,881.6 L1165.5,881.7 L1166.0,880.5 L1166.5,880.8 L1167.0,881.6 L1167.5,881.6 L1168.0,880.3 L1168.5,880.8 L1169.0,879.5 L1169.5,879.0 L1170.0,877.2 L1170.5,870.3 L1171.0,863.5 L1171.5,873.3 L1172.0,878.4 L1172.5,880.0 L1173.0,879.3 L1173.5,881.0 L1174.0,881.1 L1174.5,880.1 L1175.0,880.2 L1175.5,881.0 L1176.0,880.6 L1176.5,881.7 L1177.0,880.6 L1177.5,880.7 L1178.0,880.9 L1178.5,881.7 L1179.0,881.2 L1179.5,880.1 L1180.0,881.2 L1180.5,879.9 L1181.0,880.4 L1181.5,880.4 L1182.0,880.3 L1182.5,880.6 L1183.0,879.4 L1183.5,879.0 L1184.0,878.6 L1184.5,877.2 L1185.0,874.7 L1185.5,871.0 L1186.0,863.2 L1186.5,846.0 L1187.0,829.9 L1187.5,854.0 L1188.0,866.2 L1188.5,873.0 L1189.0,874.5 L1189.5,876.0 L1190.0,878.0 L1190.5,878.4 L1191.0,879.2 L1191.5,879.8 L1192.0,880.0 L1192.5,878.3 L1193.0,878.0 L1193.5,878.8 L1194.0,877.2 L1194.5,875.1 L1195.0,870.6 L1195.5,858.1 L1196.0,847.1 L1196.5,865.1 L1197.0,871.6 L1197.5,875.7 L1198.0,877.4 L1198.5,879.5 L1199.0,880.5 L1199.5,880.8 L1200.0,879.7 L1200.5,880.3 L1201.0,879.6 L1201.5,880.7 L1202.0,881.3 L1202.5,880.4 L1203.0,879.9 L1203.5,879.1 L1204.0,875.5 L1204.5,877.6 L1205.0,879.1 L1205.5,880.9 L1206.0,880.6 L1206.5,880.4 L1207.0,880.1 L1207.5,881.7 L1208.0,881.9 L1208.5,881.3 L1209.0,881.5 L1209.5,881.0 L1210.0,880.2 L1210.5,880.8 L1211.0,881.5 L1211.5,880.2 L1212.0,876.3 L1212.5,876.9 L1213.0,878.6 L1213.5,881.3 L1214.0,880.7 L1214.5,880.3 L1215.0,881.0 L1215.5,880.4 L1216.0,880.4 L1216.5,880.8 L1217.0,882.0 L1217.5,881.3 L1218.0,880.9 L1218.5,880.6 L1219.0,881.6 L1219.5,882.3 L1220.0,880.5 L1220.5,880.4 L1221.0,881.8 L1221.5,881.6 L1222.0,882.0 L1222.5,881.1 L1223.0,880.6 L1223.5,880.7 L1224.0,880.8 L1224.5,881.1 L1225.0,880.1 L1225.5,880.3 L1226.0,877.7 L1226.5,877.8 L1227.0,880.3 L1227.5,880.8 L1228.0,881.3 L1228.5,881.1 L1229.0,881.0 L1229.5,881.9 L1230.0,881.7 L1230.5,881.4 L1231.0,881.8 L1231.5,880.2 L1232.0,880.5 L1232.5,880.8 L1233.0,880.3 L1233.5,881.1 L1234.0,880.4 L1234.5,879.7 L1235.0,878.8 L1235.5,876.0 L1236.0,874.2 L1236.5,867.7 L1237.0,852.4 L1237.5,849.4 L1238.0,864.9 L1238.5,872.3 L1239.0,875.5 L1239.5,875.9 L1240.0,872.9 L1240.5,864.8 L1241.0,858.0 L1241.5,870.1 L1242.0,876.0 L1242.5,878.9 L1243.0,878.4 L1243.5,880.6 L1244.0,879.2 L1244.5,880.6 L1245.0,880.1 L1245.5,880.0 L1246.0,881.2 L1246.5,880.4 L1247.0,879.5 L1247.5,879.7 L1248.0,878.7 L1248.5,876.8 L1249.0,876.2 L1249.5,871.7 L1250.0,870.2 L1250.5,873.6 L1251.0,876.5 L1251.5,878.8 L1252.0,880.0 L1252.5,879.1 L1253.0,879.5 L1253.5,879.6 L1254.0,879.8 L1254.5,880.2 L1255.0,880.6 L1255.5,880.5 L1256.0,880.2 L1256.5,881.0 L1257.0,879.1 L1257.5,878.4 L1258.0,876.9 L1258.5,869.2 L1259.0,864.1 L1259.5,872.7 L1260.0,877.1 L1260.5,878.6 L1261.0,880.5 L1261.5,880.7 L1262.0,880.3 L1262.5,881.9 L1263.0,880.7 L1263.5,880.7 L1264.0,881.6 L1264.5,881.6 L1265.0,882.4 L1265.5,881.2 L1266.0,882.1 L1266.5,880.7 L1267.0,881.4 L1267.5,882.2 L1268.0,880.7 L1268.5,882.4 L1269.0,881.2 L1269.5,881.5 L1270.0,882.4 L1270.5,882.1 L1271.0,882.0 L1271.5,881.6 L1272.0,881.3 L1272.5,882.5 L1273.0,880.9 L1273.5,881.7 L1274.0,881.4 L1274.5,881.4 L1275.0,881.3 L1275.0,882.8Z" fill="#23234a" fill-opacity="0.9"/>
<path d="M721.0,881.5 L721.0,881.3 L721.5,881.3 L722.0,881.3 L722.5,881.3 L723.0,881.3 L723.5,881.3 L724.0,881.3 L724.5,881.3 L725.0,881.3 L725.5,881.3 L726.0,881.3 L726.5,881.3 L727.0,881.3 L727.5,881.3 L728.0,881.2 L728.5,881.2 L729.0,881.2 L729.5,881.2 L730.0,881.2 L730.5,881.2 L731.0,881.2 L731.5,881.1 L732.0,881.1 L732.5,881.1 L733.0,881.1 L733.5,881.0 L734.0,881.0 L734.5,881.0 L735.0,880.9 L735.5,880.9 L736.0,880.9 L736.5,880.8 L737.0,880.7 L737.5,880.7 L738.0,880.6 L738.5,880.5 L739.0,880.4 L739.5,880.3 L740.0,880.1 L740.5,880.0 L741.0,879.8 L741.5,879.6 L742.0,879.3 L742.5,878.9 L743.0,878.5 L743.5,878.0 L744.0,877.4 L744.5,876.5 L745.0,875.5 L745.5,874.1 L746.0,872.2 L746.5,869.9 L747.0,867.0 L747.5,863.6 L748.0,860.4 L748.5,858.4 L748.8,858.2 L749.2,859.6 L749.8,862.6 L750.2,866.0 L750.8,869.1 L751.2,871.6 L751.8,873.6 L752.2,875.1 L752.8,876.3 L753.2,877.2 L753.8,877.9 L754.2,878.4 L754.7,878.8 L755.0,879.0 L755.5,879.4 L756.0,879.6 L756.5,879.9 L757.0,880.1 L757.5,880.2 L758.0,880.4 L758.5,880.5 L759.0,880.6 L759.5,880.7 L760.0,880.7 L760.5,880.8 L761.0,880.9 L761.5,880.9 L762.0,881.0 L762.5,881.0 L763.0,881.1 L763.5,881.1 L764.0,881.1 L764.5,881.2 L765.0,881.2 L765.5,881.2 L766.0,881.2 L766.5,881.3 L767.0,881.3 L767.5,881.3 L768.0,881.3 L768.5,881.3 L769.0,881.3 L769.5,881.4 L770.0,881.4 L770.5,881.4 L771.0,881.4 L771.5,881.4 L772.0,881.4 L772.5,881.4 L773.0,881.4 L773.5,881.4 L774.0,881.4 L774.5,881.5 L775.0,881.5 L775.5,881.5 L776.0,881.5 L776.5,881.5 L777.0,881.5 L777.5,881.5 L778.0,881.5 L778.5,881.5 L779.0,881.5 L779.5,881.5 L780.0,881.5 L780.5,881.5 L781.0,881.5 L781.5,881.5 L782.0,881.5 L782.5,881.5 L783.0,881.5 L783.5,881.5 L784.0,881.5 L784.5,881.5 L785.0,881.5 L785.5,881.5 L786.0,881.5 L786.5,881.5 L787.0,881.5 L787.5,881.5 L788.0,881.5 L788.5,881.5 L789.0,881.5 L789.5,881.5 L790.0,881.5 L790.5,881.5 L791.0,881.5 L791.5,881.5 L792.0,881.4 L792.5,881.4 L793.0,881.4 L793.5,881.4 L794.0,881.3 L794.5,881.3 L795.0,881.2 L795.5,881.1 L796.0,881.0 L796.5,880.9 L797.0,880.8 L797.5,880.5 L798.0,880.2 L798.5,879.7 L799.0,878.9 L799.5,877.5 L800.0,875.4 L800.5,872.2 L801.0,869.7 L801.5,870.9 L802.0,874.1 L802.5,876.6 L803.0,878.0 L803.5,878.8 L804.0,879.0 L804.5,878.9 L805.0,878.9 L805.5,879.4 L806.0,880.0 L806.5,880.5 L807.0,880.8 L807.5,881.0 L808.0,881.1 L808.5,881.2 L809.0,881.3 L809.5,881.4 L810.0,881.4 L810.5,881.4 L811.0,881.5 L811.5,881.5 L812.0,881.5 L812.5,881.5 L813.0,881.6 L813.5,881.6 L814.0,881.6 L814.5,881.6 L815.0,881.6 L815.5,881.6 L816.0,881.6 L816.5,881.6 L817.0,881.6 L817.5,881.6 L818.0,881.6 L818.5,881.6 L819.0,881.6 L819.5,881.6 L820.0,881.6 L820.5,881.6 L821.0,881.6 L821.5,881.6 L822.0,881.6 L822.5,881.6 L823.0,881.6 L823.5,881.6 L824.0,881.6 L824.5,881.6 L825.0,881.6 L825.5,881.6 L826.0,881.6 L826.5,881.6 L827.0,881.6 L827.5,881.6 L828.0,881.6 L828.5,881.6 L829.0,881.6 L829.5,881.6 L830.0,881.6 L830.5,881.6 L831.0,881.6 L831.5,881.6 L832.0,881.5 L832.5,881.5 L833.0,881.5 L833.5,881.5 L834.0,881.5 L834.5,881.4 L835.0,881.4 L835.5,881.3 L836.0,881.3 L836.5,881.2 L837.0,881.1 L837.5,881.0 L838.0,880.9 L838.5,880.7 L839.0,880.5 L839.5,880.1 L840.0,879.6 L840.5,878.8 L841.0,877.5 L841.5,875.4 L842.0,872.2 L842.5,869.1 L843.0,869.5 L843.5,872.7 L844.0,875.6 L844.5,877.3 L845.0,878.3 L845.5,878.8 L846.0,879.0 L846.5,878.9 L847.0,878.6 L847.5,877.9 L848.0,876.8 L848.5,874.8 L849.0,871.5 L849.5,866.4 L850.0,861.6 L850.5,862.3 L851.0,867.7 L851.5,872.5 L852.0,875.6 L852.5,877.4 L853.0,878.5 L853.5,879.3 L854.0,879.8 L854.5,880.1 L855.0,880.3 L855.5,880.5 L856.0,880.6 L856.5,880.7 L857.0,880.7 L857.5,880.7 L858.0,880.7 L858.5,880.6 L859.0,880.5 L859.5,880.3 L860.0,880.1 L860.5,879.7 L861.0,879.1 L861.5,878.3 L862.0,877.0 L862.5,874.8 L863.0,871.1 L863.5,865.8 L864.0,861.6 L864.5,863.7 L865.0,869.2 L865.5,873.6 L866.0,876.3 L866.5,877.9 L867.0,879.0 L867.5,879.6 L868.0,880.1 L868.5,880.4 L869.0,880.7 L869.5,880.8 L870.0,881.0 L870.5,881.1 L871.0,881.2 L871.5,881.2 L872.0,881.3 L872.5,881.3 L873.0,881.3 L873.5,881.3 L874.0,881.3 L874.5,881.3 L875.0,881.3 L875.5,881.3 L876.0,881.2 L876.5,881.1 L877.0,881.0 L877.5,880.8 L878.0,880.6 L878.5,880.1 L879.0,879.5 L879.5,878.4 L880.0,876.6 L880.5,874.1 L881.0,872.7 L881.5,874.2 L882.0,876.6 L882.5,878.4 L883.0,879.5 L883.5,880.2 L884.0,880.6 L884.5,880.9 L885.0,881.1 L885.5,881.2 L886.0,881.3 L886.5,881.4 L887.0,881.5 L887.5,881.5 L888.0,881.6 L888.5,881.6 L889.0,881.6 L889.5,881.6 L890.0,881.6 L890.5,881.7 L891.0,881.7 L891.5,881.7 L892.0,881.7 L892.5,881.7 L893.0,881.7 L893.5,881.7 L894.0,881.7 L894.5,881.7 L895.0,881.6 L895.5,881.6 L896.0,881.6 L896.5,881.6 L897.0,881.6 L897.5,881.6 L898.0,881.5 L898.5,881.5 L899.0,881.5 L899.5,881.4 L900.0,881.4 L900.5,881.3 L901.0,881.3 L901.5,881.2 L902.0,881.1 L902.5,881.0 L903.0,880.8 L903.5,880.7 L904.0,880.4 L904.5,880.2 L905.0,879.8 L905.5,879.3 L906.0,878.6 L906.5,877.7 L907.0,876.2 L907.5,874.0 L908.0,870.5 L908.5,864.6 L909.0,855.3 L909.5,844.9 L910.0,843.5 L910.5,853.0 L911.0,863.0 L911.5,869.5 L912.0,873.4 L912.5,875.9 L913.0,877.4 L913.5,878.4 L914.0,879.2 L914.5,879.7 L915.0,880.1 L915.5,880.4 L916.0,880.6 L916.5,880.8 L917.0,880.9 L917.5,881.0 L918.0,881.1 L918.5,881.2 L919.0,881.3 L919.5,881.3 L920.0,881.4 L920.5,881.4 L921.0,881.4 L921.5,881.5 L922.0,881.5 L922.5,881.5 L923.0,881.5 L923.5,881.5 L924.0,881.5 L924.5,881.5 L925.0,881.5 L925.5,881.5 L926.0,881.5 L926.5,881.5 L927.0,881.4 L927.5,881.4 L928.0,881.4 L928.5,881.3 L929.0,881.3 L929.5,881.2 L930.0,881.2 L930.5,881.1 L931.0,881.0 L931.5,880.9 L932.0,880.8 L932.5,880.6 L933.0,880.4 L933.5,880.2 L934.0,879.9 L934.5,879.5 L935.0,879.0 L935.5,878.3 L936.0,877.4 L936.5,876.0 L937.0,874.1 L937.5,871.0 L938.0,866.1 L938.5,857.8 L939.0,845.4 L939.5,833.4 L940.0,835.0 L940.5,847.9 L941.0,859.4 L941.5,866.6 L942.0,870.8 L942.5,873.3 L943.0,874.7 L943.5,875.4 L944.0,875.5 L944.5,875.0 L945.0,873.9 L945.5,871.6 L946.0,867.5 L946.5,860.7 L947.0,852.1 L947.5,849.0 L948.0,855.8 L948.5,864.4 L949.0,870.4 L949.5,874.0 L950.0,876.2 L950.5,877.7 L951.0,878.6 L951.5,879.3 L952.0,879.8 L952.5,880.2 L953.0,880.5 L953.5,880.7 L954.0,880.9 L954.5,881.0 L955.0,881.1 L955.5,881.2 L956.0,881.3 L956.5,881.4 L957.0,881.5 L957.5,881.5 L958.0,881.6 L958.5,881.6 L959.0,881.7 L959.5,881.7 L960.0,881.7 L960.5,881.7 L961.0,881.8 L961.5,881.8 L962.0,881.8 L962.5,881.8 L963.0,881.9 L963.5,881.9 L964.0,881.9 L964.5,881.9 L965.0,881.9 L965.5,881.9 L966.0,881.9 L966.5,881.9 L967.0,881.9 L967.5,881.9 L968.0,881.9 L968.5,882.0 L969.0,882.0 L969.5,882.0 L970.0,882.0 L970.5,882.0 L971.0,882.0 L971.5,882.0 L972.0,882.0 L972.5,882.0 L973.0,882.0 L973.5,881.9 L974.0,881.9 L974.5,881.9 L975.0,881.9 L975.5,881.9 L976.0,881.9 L976.5,881.9 L977.0,881.9 L977.5,881.9 L978.0,881.8 L978.5,881.8 L979.0,881.8 L979.5,881.8 L980.0,881.7 L980.5,881.7 L981.0,881.6 L981.5,881.6 L982.0,881.5 L982.5,881.4 L983.0,881.2 L983.5,881.1 L984.0,880.9 L984.5,880.6 L985.0,880.2 L985.5,879.7 L986.0,878.9 L986.5,877.7 L987.0,875.8 L987.5,872.6 L988.0,867.5 L988.5,861.2 L989.0,858.8 L989.5,863.6 L990.0,869.8 L990.5,874.0 L991.0,876.5 L991.5,878.1 L992.0,879.0 L992.5,879.6 L993.0,880.0 L993.5,880.3 L994.0,880.4 L994.5,880.4 L995.0,880.3 L995.5,880.0 L996.0,879.4 L996.5,878.4 L997.0,877.0 L997.5,876.6 L998.0,877.6 L998.5,879.0 L999.0,879.9 L999.5,880.4 L1000.0,880.8 L1000.5,881.0 L1001.0,881.1 L1001.5,881.1 L1002.0,881.2 L1002.5,881.2 L1003.0,881.2 L1003.5,881.1 L1004.0,881.1 L1004.5,881.0 L1005.0,880.9 L1005.5,880.8 L1006.0,880.6 L1006.5,880.4 L1007.0,880.2 L1007.5,879.8 L1008.0,879.4 L1008.5,878.8 L1009.0,878.0 L1009.5,876.8 L1010.0,875.1 L1010.5,872.5 L1011.0,868.3 L1011.5,861.2 L1012.0,850.6 L1012.5,840.3 L1013.0,841.4 L1013.5,852.0 L1014.0,861.3 L1014.5,866.6 L1015.0,869.1 L1015.5,869.2 L1016.0,867.2 L1016.5,863.1 L1017.0,859.7 L1017.5,862.1 L1018.0,867.7 L1018.5,872.1 L1019.0,874.8 L1019.5,876.4 L1020.0,877.3 L1020.5,877.8 L1021.0,878.0 L1021.5,877.9 L1022.0,877.5 L1022.5,876.6 L1023.0,875.2 L1023.5,872.7 L1024.0,868.5 L1024.5,861.7 L1025.0,854.1 L1025.5,853.2 L1026.0,860.3 L1026.5,867.7 L1027.0,872.5 L1027.5,875.5 L1028.0,877.3 L1028.5,878.4 L1029.0,879.2 L1029.5,879.8 L1030.0,880.2 L1030.5,880.4 L1031.0,880.7 L1031.5,880.8 L1032.0,881.0 L1032.5,881.0 L1033.0,881.1 L1033.5,881.2 L1034.0,881.2 L1034.5,881.2 L1035.0,881.2 L1035.5,881.1 L1036.0,881.0 L1036.5,880.9 L1037.0,880.8 L1037.5,880.6 L1038.0,880.3 L1038.5,879.9 L1039.0,879.4 L1039.5,878.5 L1040.0,877.2 L1040.5,875.2 L1041.0,871.7 L1041.5,866.2 L1042.0,859.3 L1042.5,856.7 L1043.0,862.0 L1043.5,868.7 L1044.0,873.3 L1044.5,876.1 L1045.0,877.8 L1045.5,878.9 L1046.0,879.6 L1046.5,880.1 L1047.0,880.5 L1047.5,880.7 L1048.0,880.9 L1048.5,881.0 L1049.0,881.1 L1049.5,881.1 L1050.0,881.2 L1050.5,881.2 L1051.0,881.2 L1051.5,881.1 L1052.0,881.1 L1052.5,881.0 L1053.0,880.9 L1053.5,880.7 L1054.0,880.5 L1054.5,880.2 L1055.0,879.9 L1055.5,879.4 L1056.0,878.8 L1056.5,878.0 L1057.0,876.8 L1057.5,875.0 L1058.0,872.3 L1058.5,868.0 L1059.0,860.8 L1059.5,849.3 L1060.0,834.8 L1060.5,829.4 L1061.0,840.4 L1061.5,854.5 L1062.0,864.2 L1062.5,870.1 L1063.0,873.7 L1063.5,875.9 L1064.0,877.5 L1064.5,878.5 L1065.0,879.3 L1065.5,879.8 L1066.0,880.3 L1066.5,880.6 L1067.0,880.8 L1067.5,881.1 L1068.0,881.2 L1068.5,881.4 L1069.0,881.5 L1069.5,881.6 L1070.0,881.7 L1070.5,881.7 L1071.0,881.8 L1071.5,881.8 L1072.0,881.9 L1072.5,881.9 L1073.0,881.9 L1073.5,881.9 L1074.0,881.9 L1074.5,881.9 L1075.0,881.9 L1075.5,881.8 L1076.0,881.8 L1076.5,881.6 L1077.0,881.3 L1077.5,880.8 L1078.0,880.2 L1078.5,880.0 L1079.0,880.5 L1079.5,881.1 L1080.0,881.5 L1080.5,881.7 L1081.0,881.9 L1081.5,882.0 L1082.0,882.1 L1082.5,882.1 L1083.0,882.1 L1083.5,882.2 L1084.0,882.2 L1084.5,882.2 L1085.0,882.2 L1085.5,882.2 L1086.0,882.2 L1086.5,882.2 L1087.0,882.2 L1087.5,882.1 L1088.0,882.1 L1088.5,882.1 L1089.0,882.1 L1089.5,882.0 L1090.0,882.0 L1090.5,881.9 L1091.0,881.8 L1091.5,881.7 L1092.0,881.5 L1092.5,881.3 L1093.0,881.1 L1093.5,880.7 L1094.0,880.1 L1094.5,879.3 L1095.0,877.9 L1095.5,875.7 L1096.0,872.1 L1096.5,867.5 L1097.0,865.8 L1097.5,869.2 L1098.0,873.6 L1098.5,876.6 L1099.0,878.4 L1099.5,879.5 L1100.0,880.1 L1100.5,880.6 L1101.0,880.8 L1101.5,881.0 L1102.0,881.1 L1102.5,881.1 L1103.0,881.1 L1103.5,880.9 L1104.0,880.7 L1104.5,880.4 L1105.0,880.0 L1105.5,879.2 L1106.0,877.9 L1106.5,875.9 L1107.0,872.5 L1107.5,868.3 L1108.0,866.7 L1108.5,869.9 L1109.0,873.9 L1109.5,876.7 L1110.0,878.3 L1110.5,879.2 L1111.0,879.8 L1111.5,880.1 L1112.0,880.3 L1112.5,880.3 L1113.0,880.2 L1113.5,879.9 L1114.0,879.5 L1114.5,878.9 L1115.0,878.0 L1115.5,876.5 L1116.0,874.0 L1116.5,870.0 L1117.0,863.4 L1117.5,855.2 L1118.0,852.1 L1118.5,858.3 L1119.0,866.2 L1119.5,871.6 L1120.0,874.7 L1120.5,876.5 L1121.0,877.5 L1121.5,877.8 L1122.0,877.6 L1122.5,876.7 L1123.0,874.8 L1123.5,872.3 L1124.0,871.4 L1124.5,873.6 L1125.0,876.4 L1125.5,878.3 L1126.0,879.4 L1126.5,880.1 L1127.0,880.5 L1127.5,880.8 L1128.0,880.9 L1128.5,880.8 L1129.0,880.6 L1129.5,880.2 L1130.0,879.5 L1130.5,878.2 L1131.0,876.2 L1131.5,874.7 L1132.0,875.5 L1132.5,877.6 L1133.0,879.3 L1133.5,880.4 L1134.0,881.0 L1134.5,881.4 L1135.0,881.7 L1135.5,881.9 L1136.0,882.1 L1136.5,882.2 L1137.0,882.2 L1137.5,882.3 L1138.0,882.4 L1138.5,882.4 L1139.0,882.5 L1139.5,882.5 L1140.0,882.5 L1140.5,882.5 L1141.0,882.6 L1141.5,882.6 L1142.0,882.6 L1142.5,882.6 L1143.0,882.6 L1143.5,882.6 L1144.0,882.6 L1144.5,882.7 L1145.0,882.7 L1145.5,882.7 L1146.0,882.7 L1146.5,882.7 L1147.0,882.7 L1147.5,882.7 L1148.0,882.7 L1148.5,882.7 L1149.0,882.7 L1149.5,882.7 L1150.0,882.7 L1150.5,882.7 L1151.0,882.8 L1151.5,882.8 L1152.0,882.8 L1152.5,882.8 L1153.0,882.8 L1153.5,882.8 L1154.0,882.8 L1154.5,882.8 L1155.0,882.8 L1155.5,882.8 L1156.0,882.8 L1156.5,882.8 L1157.0,882.8 L1157.5,882.8 L1158.0,882.8 L1158.5,882.8 L1159.0,882.8 L1159.5,882.8 L1160.0,882.8 L1160.5,882.8 L1161.0,882.8 L1161.5,882.8 L1162.0,882.8 L1162.5,882.8 L1163.0,882.8 L1163.5,882.8 L1164.0,882.8 L1164.5,882.8 L1165.0,882.8 L1165.5,882.8 L1166.0,882.8 L1166.5,882.8 L1167.0,882.8 L1167.5,882.8 L1168.0,882.8 L1168.5,882.8 L1169.0,882.8 L1169.5,882.9 L1170.0,882.9 L1170.5,882.9 L1171.0,882.9 L1171.5,882.9 L1172.0,882.9 L1172.5,882.9 L1173.0,882.9 L1173.5,882.9 L1174.0,882.9 L1174.5,882.9 L1175.0,882.9 L1175.5,882.9 L1176.0,882.9 L1176.5,882.8 L1177.0,882.8 L1177.5,882.8 L1178.0,882.8 L1178.5,882.8 L1179.0,882.8 L1179.5,882.8 L1180.0,882.8 L1180.5,882.8 L1181.0,882.8 L1181.5,882.8 L1182.0,882.8 L1182.5,882.8 L1183.0,882.8 L1183.5,882.8 L1184.0,882.8 L1184.5,882.8 L1185.0,882.7 L1185.5,882.7 L1186.0,882.7 L1186.5,882.7 L1187.0,882.6 L1187.5,882.6 L1188.0,882.6 L1188.5,882.5 L1189.0,882.5 L1189.5,882.4 L1190.0,882.3 L1190.5,882.2 L1191.0,882.0 L1191.5,881.8 L1192.0,881.5 L1192.5,881.1 L1193.0,880.5 L1193.5,879.6 L1194.0,878.2 L1194.5,875.8 L1195.0,872.0 L1195.5,867.2 L1196.0,865.4 L1196.5,869.1 L1197.0,873.7 L1197.5,876.9 L1198.0,878.8 L1198.5,880.0 L1199.0,880.7 L1199.5,881.2 L1200.0,881.5 L1200.5,881.7 L1201.0,881.8 L1201.5,881.8 L1202.0,881.7 L1202.5,881.5 L1203.0,881.0 L1203.5,880.3 L1204.0,879.7 L1204.5,880.0 L1205.0,880.9 L1205.5,881.5 L1206.0,881.9 L1206.5,882.1 L1207.0,882.3 L1207.5,882.4 L1208.0,882.4 L1208.5,882.4 L1209.0,882.4 L1209.5,882.3 L1210.0,882.1 L1210.5,881.8 L1211.0,881.4 L1211.5,880.6 L1212.0,879.8 L1212.5,879.7 L1213.0,880.5 L1213.5,881.3 L1214.0,881.8 L1214.5,882.2 L1215.0,882.4 L1215.5,882.5 L1216.0,882.6 L1216.5,882.7 L1217.0,882.7 L1217.5,882.7 L1218.0,882.7 L1218.5,882.8 L1219.0,882.8 L1219.5,882.8 L1220.0,882.8 L1220.5,882.8 L1221.0,882.7 L1221.5,882.7 L1222.0,882.7 L1222.5,882.6 L1223.0,882.6 L1223.5,882.5 L1224.0,882.3 L1224.5,882.0 L1225.0,881.6 L1225.5,881.0 L1226.0,880.3 L1226.5,880.4 L1227.0,881.1 L1227.5,881.6 L1228.0,882.0 L1228.5,882.2 L1229.0,882.3 L1229.5,882.3 L1230.0,882.3 L1230.5,882.3 L1231.0,882.2 L1231.5,882.1 L1232.0,882.0 L1232.5,881.8 L1233.0,881.5 L1233.5,881.2 L1234.0,880.7 L1234.5,880.0 L1235.0,878.9 L1235.5,877.2 L1236.0,874.3 L1236.5,869.9 L1237.0,864.8 L1237.5,863.9 L1238.0,868.0 L1238.5,872.0 L1239.0,874.1 L1239.5,874.3 L1240.0,872.9 L1240.5,870.3 L1241.0,869.6 L1241.5,872.4 L1242.0,875.8 L1242.5,878.2 L1243.0,879.6 L1243.5,880.5 L1244.0,881.1 L1244.5,881.5 L1245.0,881.8 L1245.5,882.0 L1246.0,882.2 L1246.5,882.3 L1247.0,882.4 L1247.5,882.5 L1248.0,882.6 L1248.5,882.6 L1249.0,882.6 L1249.5,882.7 L1250.0,882.7 L1250.5,882.7 L1251.0,882.7 L1251.5,882.7 L1252.0,882.7 L1252.5,882.7 L1253.0,882.6 L1253.5,882.6 L1254.0,882.5 L1254.5,882.4 L1255.0,882.3 L1255.5,882.1 L1256.0,881.8 L1256.5,881.3 L1257.0,880.5 L1257.5,879.3 L1258.0,877.2 L1258.5,874.6 L1259.0,873.7 L1259.5,875.6 L1260.0,878.2 L1260.5,879.9 L1261.0,881.0 L1261.5,881.6 L1262.0,882.0 L1262.5,882.3 L1263.0,882.5 L1263.5,882.6 L1264.0,882.7 L1264.5,882.8 L1265.0,882.9 L1265.5,882.9 L1266.0,883.0 L1266.5,883.0 L1267.0,883.0 L1267.5,883.0 L1268.0,883.1 L1268.5,883.1 L1269.0,883.1 L1269.5,883.1 L1270.0,883.1 L1270.5,883.1 L1271.0,883.1 L1271.5,883.2 L1272.0,883.2 L1272.5,883.2 L1273.0,883.2 L1273.5,883.2 L1274.0,883.2 L1274.5,883.2 L1275.0,883.2 L1275.0,883.3Z" fill="#d4cc66" fill-opacity="0.88" stroke="#d4cc66" stroke-width="0.9"/>
<path d="M721.0,881.5 L721.0,881.4 L721.5,881.4 L722.0,881.4 L722.5,881.4 L723.0,881.4 L723.5,881.4 L724.0,881.3 L724.5,881.3 L725.0,881.3 L725.5,881.3 L726.0,881.3 L726.5,881.3 L727.0,881.3 L727.5,881.3 L728.0,881.3 L728.5,881.3 L729.0,881.3 L729.5,881.3 L730.0,881.3 L730.5,881.3 L731.0,881.3 L731.5,881.3 L732.0,881.2 L732.5,881.2 L733.0,881.2 L733.5,881.2 L734.0,881.2 L734.5,881.2 L735.0,881.2 L735.5,881.1 L736.0,881.1 L736.5,881.1 L737.0,881.1 L737.5,881.0 L738.0,881.0 L738.5,881.0 L739.0,881.0 L739.5,880.9 L740.0,880.9 L740.5,880.8 L741.0,880.8 L741.5,880.7 L742.0,880.7 L742.5,880.6 L743.0,880.5 L743.5,880.4 L744.0,880.3 L744.5,880.2 L745.0,880.0 L745.5,879.9 L746.0,879.7 L746.5,879.5 L747.0,879.2 L747.5,878.9 L748.0,878.5 L748.5,878.1 L748.8,877.8 L749.2,877.2 L749.8,876.4 L750.2,875.5 L750.8,874.2 L751.2,872.6 L751.8,870.4 L752.2,867.7 L752.8,864.1 L753.2,859.8 L753.8,855.3 L754.2,851.6 L754.7,850.4 L755.0,850.9 L755.5,854.0 L756.0,858.5 L756.5,862.9 L757.0,866.7 L757.5,869.7 L758.0,872.0 L758.5,873.8 L759.0,875.1 L759.5,876.2 L760.0,877.0 L760.5,877.7 L761.0,878.2 L761.5,878.7 L762.0,879.0 L762.5,879.3 L763.0,879.6 L763.5,879.8 L764.0,880.0 L764.5,880.1 L765.0,880.3 L765.5,880.4 L766.0,880.5 L766.5,880.6 L767.0,880.7 L767.5,880.8 L768.0,880.8 L768.5,880.9 L769.0,880.9 L769.5,881.0 L770.0,881.0 L770.5,881.1 L771.0,881.1 L771.5,881.1 L772.0,881.2 L772.5,881.2 L773.0,881.2 L773.5,881.2 L774.0,881.3 L774.5,881.3 L775.0,881.3 L775.5,881.3 L776.0,881.3 L776.5,881.4 L777.0,881.4 L777.5,881.4 L778.0,881.4 L778.5,881.4 L779.0,881.4 L779.5,881.4 L780.0,881.5 L780.5,881.5 L781.0,881.5 L781.5,881.5 L782.0,881.5 L782.5,881.5 L783.0,881.5 L783.5,881.5 L784.0,881.5 L784.5,881.5 L785.0,881.5 L785.5,881.5 L786.0,881.6 L786.5,881.6 L787.0,881.6 L787.5,881.6 L788.0,881.6 L788.5,881.6 L789.0,881.6 L789.5,881.6 L790.0,881.6 L790.5,881.6 L791.0,881.6 L791.5,881.6 L792.0,881.6 L792.5,881.6 L793.0,881.6 L793.5,881.6 L794.0,881.6 L794.5,881.6 L795.0,881.6 L795.5,881.6 L796.0,881.6 L796.5,881.7 L797.0,881.7 L797.5,881.7 L798.0,881.7 L798.5,881.7 L799.0,881.7 L799.5,881.7 L800.0,881.7 L800.5,881.7 L801.0,881.7 L801.5,881.7 L802.0,881.7 L802.5,881.7 L803.0,881.7 L803.5,881.7 L804.0,881.7 L804.5,881.7 L805.0,881.7 L805.5,881.7 L806.0,881.7 L806.5,881.7 L807.0,881.7 L807.5,881.7 L808.0,881.7 L808.5,881.7 L809.0,881.7 L809.5,881.7 L810.0,881.7 L810.5,881.7 L811.0,881.7 L811.5,881.7 L812.0,881.7 L812.5,881.7 L813.0,881.7 L813.5,881.7 L814.0,881.8 L814.5,881.8 L815.0,881.8 L815.5,881.8 L816.0,881.8 L816.5,881.8 L817.0,881.8 L817.5,881.8 L818.0,881.8 L818.5,881.8 L819.0,881.8 L819.5,881.8 L820.0,881.8 L820.5,881.8 L821.0,881.8 L821.5,881.8 L822.0,881.8 L822.5,881.8 L823.0,881.8 L823.5,881.8 L824.0,881.8 L824.5,881.8 L825.0,881.8 L825.5,881.8 L826.0,881.8 L826.5,881.8 L827.0,881.8 L827.5,881.8 L828.0,881.8 L828.5,881.8 L829.0,881.8 L829.5,881.8 L830.0,881.8 L830.5,881.8 L831.0,881.8 L831.5,881.8 L832.0,881.8 L832.5,881.8 L833.0,881.8 L833.5,881.8 L834.0,881.8 L834.5,881.8 L835.0,881.8 L835.5,881.8 L836.0,881.8 L836.5,881.8 L837.0,881.8 L837.5,881.8 L838.0,881.8 L838.5,881.8 L839.0,881.8 L839.5,881.8 L840.0,881.9 L840.5,881.9 L841.0,881.9 L841.5,881.9 L842.0,881.9 L842.5,881.9 L843.0,881.9 L843.5,881.9 L844.0,881.9 L844.5,881.9 L845.0,881.9 L845.5,881.9 L846.0,881.9 L846.5,881.9 L847.0,881.9 L847.5,881.9 L848.0,881.9 L848.5,881.9 L849.0,881.9 L849.5,881.9 L850.0,881.9 L850.5,881.9 L851.0,881.9 L851.5,881.9 L852.0,881.9 L852.5,881.9 L853.0,881.9 L853.5,881.9 L854.0,881.9 L854.5,881.9 L855.0,881.9 L855.5,881.9 L856.0,881.9 L856.5,881.9 L857.0,881.9 L857.5,881.9 L858.0,881.9 L858.5,881.9 L859.0,881.9 L859.5,881.9 L860.0,881.9 L860.5,881.9 L861.0,881.9 L861.5,881.9 L862.0,881.9 L862.5,881.9 L863.0,881.9 L863.5,881.9 L864.0,881.9 L864.5,881.9 L865.0,881.9 L865.5,881.9 L866.0,881.9 L866.5,881.9 L867.0,881.9 L867.5,881.9 L868.0,881.9 L868.5,881.9 L869.0,881.9 L869.5,881.9 L870.0,881.9 L870.5,881.9 L871.0,881.9 L871.5,881.9 L872.0,881.9 L872.5,881.9 L873.0,881.9 L873.5,881.9 L874.0,881.9 L874.5,881.9 L875.0,881.9 L875.5,881.9 L876.0,881.9 L876.5,881.9 L877.0,881.9 L877.5,881.9 L878.0,881.9 L878.5,881.9 L879.0,881.9 L879.5,881.9 L880.0,881.9 L880.5,881.9 L881.0,881.8 L881.5,881.8 L882.0,881.8 L882.5,881.8 L883.0,881.8 L883.5,881.8 L884.0,881.7 L884.5,881.7 L885.0,881.7 L885.5,881.6 L886.0,881.6 L886.5,881.5 L887.0,881.4 L887.5,881.3 L888.0,881.1 L888.5,880.9 L889.0,880.6 L889.5,880.2 L890.0,879.6 L890.5,878.7 L891.0,877.1 L891.5,874.5 L892.0,870.6 L892.5,866.9 L893.0,867.4 L893.5,871.5 L894.0,875.2 L894.5,877.5 L895.0,878.9 L895.5,879.8 L896.0,880.3 L896.5,880.7 L897.0,881.0 L897.5,881.2 L898.0,881.3 L898.5,881.4 L899.0,881.5 L899.5,881.6 L900.0,881.7 L900.5,881.7 L901.0,881.7 L901.5,881.8 L902.0,881.8 L902.5,881.8 L903.0,881.8 L903.5,881.9 L904.0,881.9 L904.5,881.9 L905.0,881.9 L905.5,881.9 L906.0,881.9 L906.5,881.9 L907.0,881.9 L907.5,881.9 L908.0,881.9 L908.5,882.0 L909.0,882.0 L909.5,882.0 L910.0,882.0 L910.5,882.0 L911.0,882.0 L911.5,882.0 L912.0,882.0 L912.5,882.0 L913.0,882.0 L913.5,882.0 L914.0,882.0 L914.5,881.9 L915.0,881.9 L915.5,881.9 L916.0,881.9 L916.5,881.9 L917.0,881.9 L917.5,881.9 L918.0,881.9 L918.5,881.8 L919.0,881.8 L919.5,881.8 L920.0,881.7 L920.5,881.7 L921.0,881.6 L921.5,881.6 L922.0,881.5 L922.5,881.3 L923.0,881.2 L923.5,880.9 L924.0,880.6 L924.5,880.1 L925.0,879.4 L925.5,878.2 L926.0,876.2 L926.5,873.0 L927.0,869.0 L927.5,867.5 L928.0,870.6 L928.5,874.5 L929.0,877.1 L929.5,878.7 L930.0,879.7 L930.5,880.4 L931.0,880.8 L931.5,881.1 L932.0,881.3 L932.5,881.4 L933.0,881.5 L933.5,881.6 L934.0,881.7 L934.5,881.8 L935.0,881.8 L935.5,881.8 L936.0,881.9 L936.5,881.9 L937.0,881.9 L937.5,881.9 L938.0,882.0 L938.5,882.0 L939.0,882.0 L939.5,882.0 L940.0,882.0 L940.5,882.0 L941.0,882.0 L941.5,882.0 L942.0,882.0 L942.5,882.0 L943.0,882.0 L943.5,882.0 L944.0,882.1 L944.5,882.1 L945.0,882.1 L945.5,882.0 L946.0,882.0 L946.5,882.0 L947.0,882.0 L947.5,882.0 L948.0,882.0 L948.5,882.0 L949.0,882.0 L949.5,882.0 L950.0,882.0 L950.5,881.9 L951.0,881.9 L951.5,881.9 L952.0,881.8 L952.5,881.7 L953.0,881.6 L953.5,881.5 L954.0,881.4 L954.5,881.1 L955.0,880.7 L955.5,880.2 L956.0,879.2 L956.5,877.7 L957.0,875.3 L957.5,873.0 L958.0,873.4 L958.5,875.8 L959.0,878.1 L959.5,879.5 L960.0,880.3 L960.5,880.8 L961.0,881.2 L961.5,881.4 L962.0,881.6 L962.5,881.7 L963.0,881.8 L963.5,881.8 L964.0,881.9 L964.5,881.9 L965.0,882.0 L965.5,882.0 L966.0,882.0 L966.5,882.0 L967.0,882.1 L967.5,882.1 L968.0,882.1 L968.5,882.1 L969.0,882.1 L969.5,882.1 L970.0,882.1 L970.5,882.1 L971.0,882.1 L971.5,882.1 L972.0,882.1 L972.5,882.1 L973.0,882.1 L973.5,882.1 L974.0,882.1 L974.5,882.1 L975.0,882.1 L975.5,882.1 L976.0,882.1 L976.5,882.1 L977.0,882.1 L977.5,882.1 L978.0,882.1 L978.5,882.1 L979.0,882.1 L979.5,882.0 L980.0,882.0 L980.5,882.0 L981.0,882.0 L981.5,882.0 L982.0,881.9 L982.5,881.9 L983.0,881.9 L983.5,881.8 L984.0,881.8 L984.5,881.7 L985.0,881.6 L985.5,881.5 L986.0,881.4 L986.5,881.2 L987.0,881.0 L987.5,880.8 L988.0,880.4 L988.5,880.0 L989.0,879.3 L989.5,878.4 L990.0,877.0 L990.5,874.7 L991.0,871.0 L991.5,864.9 L992.0,856.6 L992.5,851.8 L993.0,856.6 L993.5,864.9 L994.0,871.0 L994.5,874.7 L995.0,877.0 L995.5,878.4 L996.0,879.4 L996.5,880.0 L997.0,880.5 L997.5,880.8 L998.0,881.1 L998.5,881.3 L999.0,881.4 L999.5,881.5 L1000.0,881.6 L1000.5,881.7 L1001.0,881.8 L1001.5,881.9 L1002.0,881.9 L1002.5,882.0 L1003.0,882.0 L1003.5,882.0 L1004.0,882.0 L1004.5,882.1 L1005.0,882.1 L1005.5,882.1 L1006.0,882.1 L1006.5,882.1 L1007.0,882.2 L1007.5,882.2 L1008.0,882.2 L1008.5,882.2 L1009.0,882.2 L1009.5,882.2 L1010.0,882.2 L1010.5,882.2 L1011.0,882.2 L1011.5,882.2 L1012.0,882.2 L1012.5,882.2 L1013.0,882.2 L1013.5,882.2 L1014.0,882.2 L1014.5,882.2 L1015.0,882.2 L1015.5,882.2 L1016.0,882.2 L1016.5,882.2 L1017.0,882.2 L1017.5,882.2 L1018.0,882.2 L1018.5,882.2 L1019.0,882.2 L1019.5,882.2 L1020.0,882.2 L1020.5,882.2 L1021.0,882.2 L1021.5,882.2 L1022.0,882.2 L1022.5,882.1 L1023.0,882.1 L1023.5,882.1 L1024.0,882.1 L1024.5,882.1 L1025.0,882.0 L1025.5,882.0 L1026.0,882.0 L1026.5,881.9 L1027.0,881.9 L1027.5,881.8 L1028.0,881.7 L1028.5,881.6 L1029.0,881.5 L1029.5,881.4 L1030.0,881.2 L1030.5,881.0 L1031.0,880.7 L1031.5,880.3 L1032.0,879.8 L1032.5,879.1 L1033.0,878.1 L1033.5,876.6 L1034.0,874.3 L1034.5,870.5 L1035.0,864.2 L1035.5,854.6 L1036.0,845.4 L1036.5,846.7 L1037.0,856.7 L1037.5,865.7 L1038.0,871.4 L1038.5,874.8 L1039.0,877.0 L1039.5,878.4 L1040.0,879.3 L1040.5,879.9 L1041.0,880.4 L1041.5,880.8 L1042.0,881.1 L1042.5,881.3 L1043.0,881.4 L1043.5,881.6 L1044.0,881.7 L1044.5,881.8 L1045.0,881.9 L1045.5,881.9 L1046.0,882.0 L1046.5,882.0 L1047.0,882.1 L1047.5,882.1 L1048.0,882.2 L1048.5,882.2 L1049.0,882.2 L1049.5,882.2 L1050.0,882.3 L1050.5,882.3 L1051.0,882.3 L1051.5,882.3 L1052.0,882.3 L1052.5,882.3 L1053.0,882.4 L1053.5,882.4 L1054.0,882.4 L1054.5,882.4 L1055.0,882.4 L1055.5,882.4 L1056.0,882.4 L1056.5,882.4 L1057.0,882.4 L1057.5,882.4 L1058.0,882.4 L1058.5,882.4 L1059.0,882.4 L1059.5,882.5 L1060.0,882.5 L1060.5,882.5 L1061.0,882.5 L1061.5,882.5 L1062.0,882.5 L1062.5,882.5 L1063.0,882.5 L1063.5,882.5 L1064.0,882.5 L1064.5,882.5 L1065.0,882.5 L1065.5,882.5 L1066.0,882.5 L1066.5,882.5 L1067.0,882.5 L1067.5,882.5 L1068.0,882.5 L1068.5,882.5 L1069.0,882.5 L1069.5,882.5 L1070.0,882.5 L1070.5,882.5 L1071.0,882.5 L1071.5,882.5 L1072.0,882.5 L1072.5,882.5 L1073.0,882.5 L1073.5,882.5 L1074.0,882.4 L1074.5,882.4 L1075.0,882.4 L1075.5,882.4 L1076.0,882.4 L1076.5,882.4 L1077.0,882.4 L1077.5,882.4 L1078.0,882.3 L1078.5,882.3 L1079.0,882.3 L1079.5,882.2 L1080.0,882.2 L1080.5,882.2 L1081.0,882.1 L1081.5,882.0 L1082.0,881.9 L1082.5,881.8 L1083.0,881.7 L1083.5,881.5 L1084.0,881.3 L1084.5,880.9 L1085.0,880.5 L1085.5,879.9 L1086.0,878.9 L1086.5,877.4 L1087.0,875.0 L1087.5,871.0 L1088.0,864.9 L1088.5,859.0 L1089.0,859.8 L1089.5,866.2 L1090.0,872.0 L1090.5,875.6 L1091.0,877.8 L1091.5,879.2 L1092.0,880.0 L1092.5,880.6 L1093.0,881.0 L1093.5,881.4 L1094.0,881.6 L1094.5,881.8 L1095.0,881.9 L1095.5,882.0 L1096.0,882.1 L1096.5,882.2 L1097.0,882.2 L1097.5,882.3 L1098.0,882.3 L1098.5,882.4 L1099.0,882.4 L1099.5,882.4 L1100.0,882.5 L1100.5,882.5 L1101.0,882.5 L1101.5,882.5 L1102.0,882.5 L1102.5,882.5 L1103.0,882.6 L1103.5,882.6 L1104.0,882.6 L1104.5,882.6 L1105.0,882.6 L1105.5,882.6 L1106.0,882.6 L1106.5,882.6 L1107.0,882.6 L1107.5,882.6 L1108.0,882.6 L1108.5,882.6 L1109.0,882.7 L1109.5,882.7 L1110.0,882.7 L1110.5,882.7 L1111.0,882.7 L1111.5,882.7 L1112.0,882.7 L1112.5,882.7 L1113.0,882.7 L1113.5,882.7 L1114.0,882.7 L1114.5,882.7 L1115.0,882.7 L1115.5,882.7 L1116.0,882.7 L1116.5,882.7 L1117.0,882.7 L1117.5,882.7 L1118.0,882.7 L1118.5,882.7 L1119.0,882.7 L1119.5,882.7 L1120.0,882.7 L1120.5,882.7 L1121.0,882.7 L1121.5,882.7 L1122.0,882.7 L1122.5,882.7 L1123.0,882.7 L1123.5,882.7 L1124.0,882.7 L1124.5,882.7 L1125.0,882.7 L1125.5,882.7 L1126.0,882.8 L1126.5,882.8 L1127.0,882.8 L1127.5,882.8 L1128.0,882.8 L1128.5,882.8 L1129.0,882.8 L1129.5,882.8 L1130.0,882.8 L1130.5,882.8 L1131.0,882.8 L1131.5,882.8 L1132.0,882.8 L1132.5,882.8 L1133.0,882.8 L1133.5,882.8 L1134.0,882.8 L1134.5,882.8 L1135.0,882.8 L1135.5,882.8 L1136.0,882.7 L1136.5,882.7 L1137.0,882.7 L1137.5,882.7 L1138.0,882.7 L1138.5,882.7 L1139.0,882.7 L1139.5,882.7 L1140.0,882.7 L1140.5,882.7 L1141.0,882.7 L1141.5,882.6 L1142.0,882.6 L1142.5,882.6 L1143.0,882.5 L1143.5,882.5 L1144.0,882.4 L1144.5,882.3 L1145.0,882.1 L1145.5,881.8 L1146.0,881.4 L1146.5,880.7 L1147.0,879.6 L1147.5,878.0 L1148.0,877.1 L1148.5,878.0 L1149.0,879.6 L1149.5,880.7 L1150.0,881.4 L1150.5,881.8 L1151.0,882.1 L1151.5,882.3 L1152.0,882.4 L1152.5,882.5 L1153.0,882.5 L1153.5,882.6 L1154.0,882.6 L1154.5,882.6 L1155.0,882.7 L1155.5,882.7 L1156.0,882.7 L1156.5,882.7 L1157.0,882.7 L1157.5,882.7 L1158.0,882.7 L1158.5,882.7 L1159.0,882.7 L1159.5,882.7 L1160.0,882.7 L1160.5,882.7 L1161.0,882.7 L1161.5,882.7 L1162.0,882.7 L1162.5,882.7 L1163.0,882.6 L1163.5,882.6 L1164.0,882.6 L1164.5,882.6 L1165.0,882.5 L1165.5,882.4 L1166.0,882.4 L1166.5,882.3 L1167.0,882.1 L1167.5,881.9 L1168.0,881.6 L1168.5,881.1 L1169.0,880.4 L1169.5,879.2 L1170.0,877.2 L1170.5,874.8 L1171.0,873.9 L1171.5,875.7 L1172.0,878.1 L1172.5,879.7 L1173.0,880.7 L1173.5,881.3 L1174.0,881.7 L1174.5,881.9 L1175.0,882.1 L1175.5,882.2 L1176.0,882.2 L1176.5,882.3 L1177.0,882.3 L1177.5,882.3 L1178.0,882.3 L1178.5,882.3 L1179.0,882.2 L1179.5,882.2 L1180.0,882.1 L1180.5,882.0 L1181.0,881.9 L1181.5,881.7 L1182.0,881.5 L1182.5,881.2 L1183.0,880.8 L1183.5,880.2 L1184.0,879.3 L1184.5,878.0 L1185.0,875.8 L1185.5,872.2 L1186.0,866.4 L1186.5,859.2 L1187.0,856.5 L1187.5,862.0 L1188.0,869.1 L1188.5,873.9 L1189.0,876.8 L1189.5,878.6 L1190.0,879.8 L1190.5,880.5 L1191.0,881.0 L1191.5,881.4 L1192.0,881.7 L1192.5,881.9 L1193.0,882.1 L1193.5,882.2 L1194.0,882.3 L1194.5,882.4 L1195.0,882.5 L1195.5,882.5 L1196.0,882.6 L1196.5,882.6 L1197.0,882.7 L1197.5,882.7 L1198.0,882.7 L1198.5,882.8 L1199.0,882.8 L1199.5,882.8 L1200.0,882.8 L1200.5,882.8 L1201.0,882.9 L1201.5,882.9 L1202.0,882.9 L1202.5,882.9 L1203.0,882.9 L1203.5,882.9 L1204.0,882.9 L1204.5,882.9 L1205.0,882.9 L1205.5,883.0 L1206.0,883.0 L1206.5,883.0 L1207.0,883.0 L1207.5,883.0 L1208.0,883.0 L1208.5,883.0 L1209.0,883.0 L1209.5,883.0 L1210.0,883.0 L1210.5,883.0 L1211.0,883.0 L1211.5,883.0 L1212.0,883.0 L1212.5,883.0 L1213.0,883.0 L1213.5,883.0 L1214.0,883.0 L1214.5,883.0 L1215.0,883.0 L1215.5,883.1 L1216.0,883.1 L1216.5,883.1 L1217.0,883.1 L1217.5,883.1 L1218.0,883.1 L1218.5,883.1 L1219.0,883.1 L1219.5,883.1 L1220.0,883.1 L1220.5,883.1 L1221.0,883.1 L1221.5,883.1 L1222.0,883.1 L1222.5,883.1 L1223.0,883.1 L1223.5,883.1 L1224.0,883.1 L1224.5,883.1 L1225.0,883.1 L1225.5,883.1 L1226.0,883.1 L1226.5,883.1 L1227.0,883.1 L1227.5,883.1 L1228.0,883.1 L1228.5,883.1 L1229.0,883.1 L1229.5,883.1 L1230.0,883.1 L1230.5,883.1 L1231.0,883.1 L1231.5,883.1 L1232.0,883.1 L1232.5,883.1 L1233.0,883.1 L1233.5,883.1 L1234.0,883.1 L1234.5,883.1 L1235.0,883.1 L1235.5,883.1 L1236.0,883.2 L1236.5,883.2 L1237.0,883.2 L1237.5,883.2 L1238.0,883.2 L1238.5,883.2 L1239.0,883.2 L1239.5,883.2 L1240.0,883.2 L1240.5,883.2 L1241.0,883.2 L1241.5,883.2 L1242.0,883.2 L1242.5,883.2 L1243.0,883.2 L1243.5,883.2 L1244.0,883.2 L1244.5,883.2 L1245.0,883.2 L1245.5,883.2 L1246.0,883.2 L1246.5,883.2 L1247.0,883.2 L1247.5,883.2 L1248.0,883.2 L1248.5,883.2 L1249.0,883.2 L1249.5,883.2 L1250.0,883.2 L1250.5,883.2 L1251.0,883.2 L1251.5,883.2 L1252.0,883.2 L1252.5,883.2 L1253.0,883.2 L1253.5,883.2 L1254.0,883.2 L1254.5,883.2 L1255.0,883.2 L1255.5,883.2 L1256.0,883.2 L1256.5,883.2 L1257.0,883.2 L1257.5,883.2 L1258.0,883.2 L1258.5,883.2 L1259.0,883.2 L1259.5,883.2 L1260.0,883.2 L1260.5,883.2 L1261.0,883.2 L1261.5,883.2 L1262.0,883.2 L1262.5,883.2 L1263.0,883.2 L1263.5,883.3 L1264.0,883.3 L1264.5,883.3 L1265.0,883.3 L1265.5,883.3 L1266.0,883.3 L1266.5,883.3 L1267.0,883.3 L1267.5,883.3 L1268.0,883.3 L1268.5,883.3 L1269.0,883.3 L1269.5,883.3 L1270.0,883.3 L1270.5,883.3 L1271.0,883.3 L1271.5,883.3 L1272.0,883.3 L1272.5,883.3 L1273.0,883.3 L1273.5,883.3 L1274.0,883.3 L1274.5,883.3 L1275.0,883.3 L1275.0,883.3Z" fill="#70f070" fill-opacity="0.88" stroke="#70f070" stroke-width="0.9"/>
<path d="M721.0,881.5 L721.0,881.5 L721.5,881.5 L722.0,881.5 L722.5,881.5 L723.0,881.5 L723.5,881.5 L724.0,881.5 L724.5,881.5 L725.0,881.5 L725.5,881.5 L726.0,881.5 L726.5,881.5 L727.0,881.5 L727.5,881.5 L728.0,881.5 L728.5,881.5 L729.0,881.5 L729.5,881.5 L730.0,881.5 L730.5,881.5 L731.0,881.5 L731.5,881.5 L732.0,881.5 L732.5,881.5 L733.0,881.5 L733.5,881.5 L734.0,881.5 L734.5,881.5 L735.0,881.5 L735.5,881.5 L736.0,881.5 L736.5,881.5 L737.0,881.6 L737.5,881.6 L738.0,881.6 L738.5,881.6 L739.0,881.6 L739.5,881.6 L740.0,881.6 L740.5,881.6 L741.0,881.6 L741.5,881.6 L742.0,881.6 L742.5,881.6 L743.0,881.6 L743.5,881.6 L744.0,881.6 L744.5,881.6 L745.0,881.6 L745.5,881.6 L746.0,881.6 L746.5,881.6 L747.0,881.6 L747.5,881.6 L748.0,881.6 L748.5,881.6 L748.8,881.6 L749.2,881.6 L749.8,881.6 L750.2,881.6 L750.8,881.6 L751.2,881.6 L751.8,881.6 L752.2,881.6 L752.8,881.6 L753.2,881.6 L753.8,881.6 L754.2,881.6 L754.7,881.6 L755.0,881.6 L755.5,881.6 L756.0,881.6 L756.5,881.6 L757.0,881.6 L757.5,881.6 L758.0,881.6 L758.5,881.6 L759.0,881.6 L759.5,881.6 L760.0,881.6 L760.5,881.6 L761.0,881.6 L761.5,881.6 L762.0,881.6 L762.5,881.6 L763.0,881.6 L763.5,881.6 L764.0,881.6 L764.5,881.6 L765.0,881.6 L765.5,881.6 L766.0,881.6 L766.5,881.6 L767.0,881.6 L767.5,881.6 L768.0,881.7 L768.5,881.7 L769.0,881.7 L769.5,881.7 L770.0,881.7 L770.5,881.7 L771.0,881.7 L771.5,881.7 L772.0,881.7 L772.5,881.7 L773.0,881.7 L773.5,881.7 L774.0,881.7 L774.5,881.7 L775.0,881.7 L775.5,881.7 L776.0,881.7 L776.5,881.7 L777.0,881.7 L777.5,881.7 L778.0,881.7 L778.5,881.7 L779.0,881.7 L779.5,881.7 L780.0,881.7 L780.5,881.7 L781.0,881.7 L781.5,881.7 L782.0,881.7 L782.5,881.7 L783.0,881.7 L783.5,881.7 L784.0,881.7 L784.5,881.7 L785.0,881.7 L785.5,881.7 L786.0,881.7 L786.5,881.7 L787.0,881.7 L787.5,881.7 L788.0,881.7 L788.5,881.7 L789.0,881.7 L789.5,881.7 L790.0,881.7 L790.5,881.7 L791.0,881.7 L791.5,881.7 L792.0,881.7 L792.5,881.7 L793.0,881.7 L793.5,881.7 L794.0,881.7 L794.5,881.7 L795.0,881.7 L795.5,881.7 L796.0,881.7 L796.5,881.7 L797.0,881.7 L797.5,881.7 L798.0,881.7 L798.5,881.7 L799.0,881.8 L799.5,881.8 L800.0,881.8 L800.5,881.8 L801.0,881.8 L801.5,881.8 L802.0,881.8 L802.5,881.8 L803.0,881.8 L803.5,881.8 L804.0,881.8 L804.5,881.8 L805.0,881.8 L805.5,881.8 L806.0,881.8 L806.5,881.8 L807.0,881.8 L807.5,881.8 L808.0,881.8 L808.5,881.8 L809.0,881.8 L809.5,881.8 L810.0,881.8 L810.5,881.8 L811.0,881.8 L811.5,881.8 L812.0,881.8 L812.5,881.8 L813.0,881.8 L813.5,881.8 L814.0,881.8 L814.5,881.8 L815.0,881.8 L815.5,881.8 L816.0,881.8 L816.5,881.8 L817.0,881.8 L817.5,881.8 L818.0,881.8 L818.5,881.8 L819.0,881.8 L819.5,881.8 L820.0,881.8 L820.5,881.8 L821.0,881.8 L821.5,881.8 L822.0,881.8 L822.5,881.8 L823.0,881.8 L823.5,881.8 L824.0,881.8 L824.5,881.8 L825.0,881.8 L825.5,881.8 L826.0,881.8 L826.5,881.8 L827.0,881.8 L827.5,881.8 L828.0,881.8 L828.5,881.8 L829.0,881.8 L829.5,881.8 L830.0,881.9 L830.5,881.9 L831.0,881.9 L831.5,881.9 L832.0,881.9 L832.5,881.9 L833.0,881.9 L833.5,881.9 L834.0,881.9 L834.5,881.9 L835.0,881.9 L835.5,881.9 L836.0,881.9 L836.5,881.9 L837.0,881.9 L837.5,881.9 L838.0,881.9 L838.5,881.9 L839.0,881.9 L839.5,881.9 L840.0,881.9 L840.5,881.9 L841.0,881.9 L841.5,881.9 L842.0,881.9 L842.5,881.9 L843.0,881.9 L843.5,881.9 L844.0,881.9 L844.5,881.9 L845.0,881.9 L845.5,881.9 L846.0,881.9 L846.5,881.9 L847.0,881.9 L847.5,881.9 L848.0,881.9 L848.5,881.9 L849.0,881.9 L849.5,881.9 L850.0,881.9 L850.5,881.9 L851.0,881.9 L851.5,881.9 L852.0,881.9 L852.5,881.9 L853.0,881.9 L853.5,881.9 L854.0,881.9 L854.5,881.9 L855.0,881.9 L855.5,881.9 L856.0,881.9 L856.5,881.9 L857.0,881.9 L857.5,881.9 L858.0,881.9 L858.5,881.9 L859.0,881.9 L859.5,881.9 L860.0,881.9 L860.5,881.9 L861.0,882.0 L861.5,882.0 L862.0,882.0 L862.5,882.0 L863.0,882.0 L863.5,882.0 L864.0,882.0 L864.5,882.0 L865.0,882.0 L865.5,882.0 L866.0,882.0 L866.5,882.0 L867.0,882.0 L867.5,882.0 L868.0,882.0 L868.5,882.0 L869.0,882.0 L869.5,882.0 L870.0,882.0 L870.5,882.0 L871.0,882.0 L871.5,882.0 L872.0,882.0 L872.5,882.0 L873.0,882.0 L873.5,882.0 L874.0,882.0 L874.5,882.0 L875.0,882.0 L875.5,882.0 L876.0,882.0 L876.5,882.0 L877.0,882.0 L877.5,882.0 L878.0,882.0 L878.5,882.0 L879.0,882.0 L879.5,882.0 L880.0,882.0 L880.5,882.0 L881.0,882.0 L881.5,882.0 L882.0,882.0 L882.5,882.0 L883.0,882.0 L883.5,882.0 L884.0,882.0 L884.5,882.0 L885.0,882.0 L885.5,882.0 L886.0,882.0 L886.5,882.0 L887.0,882.0 L887.5,882.0 L888.0,882.0 L888.5,882.0 L889.0,882.0 L889.5,882.0 L890.0,882.0 L890.5,882.0 L891.0,882.0 L891.5,882.0 L892.0,882.0 L892.5,882.0 L893.0,882.1 L893.5,882.1 L894.0,882.1 L894.5,882.1 L895.0,882.1 L895.5,882.1 L896.0,882.1 L896.5,882.1 L897.0,882.1 L897.5,882.1 L898.0,882.1 L898.5,882.1 L899.0,882.1 L899.5,882.1 L900.0,882.1 L900.5,882.1 L901.0,882.1 L901.5,882.1 L902.0,882.1 L902.5,882.1 L903.0,882.1 L903.5,882.1 L904.0,882.1 L904.5,882.1 L905.0,882.1 L905.5,882.1 L906.0,882.1 L906.5,882.1 L907.0,882.1 L907.5,882.1 L908.0,882.1 L908.5,882.1 L909.0,882.1 L909.5,882.1 L910.0,882.1 L910.5,882.1 L911.0,882.1 L911.5,882.1 L912.0,882.1 L912.5,882.1 L913.0,882.1 L913.5,882.1 L914.0,882.1 L914.5,882.1 L915.0,882.1 L915.5,882.1 L916.0,882.1 L916.5,882.1 L917.0,882.1 L917.5,882.1 L918.0,882.1 L918.5,882.1 L919.0,882.1 L919.5,882.1 L920.0,882.1 L920.5,882.1 L921.0,882.1 L921.5,882.1 L922.0,882.1 L922.5,882.1 L923.0,882.1 L923.5,882.1 L924.0,882.1 L924.5,882.1 L925.0,882.1 L925.5,882.1 L926.0,882.1 L926.5,882.1 L927.0,882.1 L927.5,882.1 L928.0,882.1 L928.5,882.1 L929.0,882.1 L929.5,882.1 L930.0,882.1 L930.5,882.1 L931.0,882.1 L931.5,882.2 L932.0,882.2 L932.5,882.2 L933.0,882.2 L933.5,882.2 L934.0,882.2 L934.5,882.2 L935.0,882.2 L935.5,882.2 L936.0,882.2 L936.5,882.2 L937.0,882.2 L937.5,882.2 L938.0,882.2 L938.5,882.2 L939.0,882.2 L939.5,882.2 L940.0,882.2 L940.5,882.2 L941.0,882.2 L941.5,882.2 L942.0,882.2 L942.5,882.2 L943.0,882.2 L943.5,882.2 L944.0,882.2 L944.5,882.1 L945.0,882.1 L945.5,882.1 L946.0,882.1 L946.5,882.1 L947.0,882.1 L947.5,882.1 L948.0,882.1 L948.5,882.1 L949.0,882.1 L949.5,882.1 L950.0,882.1 L950.5,882.1 L951.0,882.1 L951.5,882.1 L952.0,882.1 L952.5,882.1 L953.0,882.1 L953.5,882.1 L954.0,882.1 L954.5,882.0 L955.0,882.0 L955.5,882.0 L956.0,882.0 L956.5,882.0 L957.0,881.9 L957.5,881.9 L958.0,881.9 L958.5,881.9 L959.0,881.8 L959.5,881.8 L960.0,881.7 L960.5,881.6 L961.0,881.6 L961.5,881.5 L962.0,881.4 L962.5,881.2 L963.0,881.1 L963.5,880.8 L964.0,880.6 L964.5,880.2 L965.0,879.7 L965.5,879.1 L966.0,878.2 L966.5,877.0 L967.0,875.3 L967.5,873.1 L968.0,870.6 L968.5,868.7 L969.0,868.5 L969.5,870.1 L970.0,872.6 L970.5,874.9 L971.0,876.7 L971.5,878.0 L972.0,878.9 L972.5,879.6 L973.0,880.1 L973.5,880.5 L974.0,880.8 L974.5,881.1 L975.0,881.2 L975.5,881.4 L976.0,881.5 L976.5,881.6 L977.0,881.7 L977.5,881.8 L978.0,881.8 L978.5,881.9 L979.0,881.9 L979.5,882.0 L980.0,882.0 L980.5,882.0 L981.0,882.0 L981.5,882.1 L982.0,882.1 L982.5,882.1 L983.0,882.1 L983.5,882.1 L984.0,882.2 L984.5,882.2 L985.0,882.2 L985.5,882.2 L986.0,882.2 L986.5,882.2 L987.0,882.2 L987.5,882.2 L988.0,882.2 L988.5,882.3 L989.0,882.3 L989.5,882.3 L990.0,882.3 L990.5,882.3 L991.0,882.3 L991.5,882.3 L992.0,882.3 L992.5,882.3 L993.0,882.3 L993.5,882.3 L994.0,882.3 L994.5,882.3 L995.0,882.3 L995.5,882.3 L996.0,882.3 L996.5,882.3 L997.0,882.3 L997.5,882.3 L998.0,882.3 L998.5,882.3 L999.0,882.4 L999.5,882.4 L1000.0,882.4 L1000.5,882.4 L1001.0,882.4 L1001.5,882.4 L1002.0,882.4 L1002.5,882.4 L1003.0,882.4 L1003.5,882.4 L1004.0,882.4 L1004.5,882.4 L1005.0,882.4 L1005.5,882.4 L1006.0,882.4 L1006.5,882.4 L1007.0,882.4 L1007.5,882.4 L1008.0,882.4 L1008.5,882.4 L1009.0,882.4 L1009.5,882.4 L1010.0,882.4 L1010.5,882.4 L1011.0,882.4 L1011.5,882.4 L1012.0,882.4 L1012.5,882.4 L1013.0,882.4 L1013.5,882.4 L1014.0,882.4 L1014.5,882.4 L1015.0,882.4 L1015.5,882.4 L1016.0,882.4 L1016.5,882.4 L1017.0,882.4 L1017.5,882.4 L1018.0,882.4 L1018.5,882.4 L1019.0,882.4 L1019.5,882.4 L1020.0,882.5 L1020.5,882.5 L1021.0,882.5 L1021.5,882.5 L1022.0,882.5 L1022.5,882.5 L1023.0,882.5 L1023.5,882.5 L1024.0,882.5 L1024.5,882.5 L1025.0,882.5 L1025.5,882.5 L1026.0,882.5 L1026.5,882.5 L1027.0,882.5 L1027.5,882.5 L1028.0,882.5 L1028.5,882.5 L1029.0,882.5 L1029.5,882.5 L1030.0,882.5 L1030.5,882.5 L1031.0,882.5 L1031.5,882.5 L1032.0,882.5 L1032.5,882.5 L1033.0,882.5 L1033.5,882.5 L1034.0,882.5 L1034.5,882.5 L1035.0,882.5 L1035.5,882.5 L1036.0,882.5 L1036.5,882.5 L1037.0,882.5 L1037.5,882.5 L1038.0,882.5 L1038.5,882.5 L1039.0,882.5 L1039.5,882.5 L1040.0,882.5 L1040.5,882.5 L1041.0,882.5 L1041.5,882.5 L1042.0,882.5 L1042.5,882.5 L1043.0,882.5 L1043.5,882.5 L1044.0,882.5 L1044.5,882.5 L1045.0,882.5 L1045.5,882.5 L1046.0,882.5 L1046.5,882.5 L1047.0,882.5 L1047.5,882.5 L1048.0,882.6 L1048.5,882.6 L1049.0,882.6 L1049.5,882.6 L1050.0,882.6 L1050.5,882.6 L1051.0,882.6 L1051.5,882.6 L1052.0,882.6 L1052.5,882.6 L1053.0,882.6 L1053.5,882.6 L1054.0,882.6 L1054.5,882.6 L1055.0,882.6 L1055.5,882.6 L1056.0,882.6 L1056.5,882.6 L1057.0,882.6 L1057.5,882.6 L1058.0,882.6 L1058.5,882.6 L1059.0,882.6 L1059.5,882.6 L1060.0,882.6 L1060.5,882.6 L1061.0,882.6 L1061.5,882.6 L1062.0,882.6 L1062.5,882.6 L1063.0,882.6 L1063.5,882.6 L1064.0,882.6 L1064.5,882.6 L1065.0,882.6 L1065.5,882.6 L1066.0,882.6 L1066.5,882.6 L1067.0,882.6 L1067.5,882.6 L1068.0,882.6 L1068.5,882.6 L1069.0,882.6 L1069.5,882.6 L1070.0,882.6 L1070.5,882.6 L1071.0,882.6 L1071.5,882.6 L1072.0,882.6 L1072.5,882.6 L1073.0,882.6 L1073.5,882.6 L1074.0,882.6 L1074.5,882.6 L1075.0,882.6 L1075.5,882.6 L1076.0,882.6 L1076.5,882.6 L1077.0,882.6 L1077.5,882.6 L1078.0,882.6 L1078.5,882.6 L1079.0,882.6 L1079.5,882.6 L1080.0,882.6 L1080.5,882.7 L1081.0,882.7 L1081.5,882.7 L1082.0,882.7 L1082.5,882.7 L1083.0,882.7 L1083.5,882.7 L1084.0,882.7 L1084.5,882.7 L1085.0,882.7 L1085.5,882.7 L1086.0,882.7 L1086.5,882.7 L1087.0,882.7 L1087.5,882.7 L1088.0,882.7 L1088.5,882.7 L1089.0,882.7 L1089.5,882.7 L1090.0,882.7 L1090.5,882.7 L1091.0,882.7 L1091.5,882.7 L1092.0,882.7 L1092.5,882.7 L1093.0,882.7 L1093.5,882.7 L1094.0,882.7 L1094.5,882.7 L1095.0,882.7 L1095.5,882.7 L1096.0,882.7 L1096.5,882.7 L1097.0,882.7 L1097.5,882.7 L1098.0,882.7 L1098.5,882.7 L1099.0,882.7 L1099.5,882.7 L1100.0,882.7 L1100.5,882.7 L1101.0,882.7 L1101.5,882.7 L1102.0,882.7 L1102.5,882.7 L1103.0,882.7 L1103.5,882.7 L1104.0,882.7 L1104.5,882.7 L1105.0,882.7 L1105.5,882.7 L1106.0,882.7 L1106.5,882.7 L1107.0,882.7 L1107.5,882.7 L1108.0,882.7 L1108.5,882.7 L1109.0,882.7 L1109.5,882.7 L1110.0,882.6 L1110.5,882.6 L1111.0,882.6 L1111.5,882.6 L1112.0,882.6 L1112.5,882.6 L1113.0,882.6 L1113.5,882.6 L1114.0,882.6 L1114.5,882.6 L1115.0,882.5 L1115.5,882.5 L1116.0,882.5 L1116.5,882.4 L1117.0,882.4 L1117.5,882.4 L1118.0,882.3 L1118.5,882.2 L1119.0,882.1 L1119.5,882.0 L1120.0,881.9 L1120.5,881.7 L1121.0,881.5 L1121.5,881.2 L1122.0,880.7 L1122.5,880.1 L1123.0,879.3 L1123.5,878.2 L1124.0,876.8 L1124.5,875.6 L1125.0,875.0 L1125.5,875.6 L1126.0,876.8 L1126.5,878.2 L1127.0,879.3 L1127.5,880.1 L1128.0,880.8 L1128.5,881.2 L1129.0,881.5 L1129.5,881.7 L1130.0,881.9 L1130.5,882.1 L1131.0,882.2 L1131.5,882.3 L1132.0,882.3 L1132.5,882.4 L1133.0,882.5 L1133.5,882.5 L1134.0,882.5 L1134.5,882.6 L1135.0,882.6 L1135.5,882.6 L1136.0,882.6 L1136.5,882.7 L1137.0,882.7 L1137.5,882.7 L1138.0,882.7 L1138.5,882.7 L1139.0,882.7 L1139.5,882.7 L1140.0,882.7 L1140.5,882.8 L1141.0,882.8 L1141.5,882.8 L1142.0,882.8 L1142.5,882.8 L1143.0,882.8 L1143.5,882.8 L1144.0,882.8 L1144.5,882.8 L1145.0,882.8 L1145.5,882.8 L1146.0,882.8 L1146.5,882.8 L1147.0,882.8 L1147.5,882.8 L1148.0,882.8 L1148.5,882.8 L1149.0,882.8 L1149.5,882.8 L1150.0,882.8 L1150.5,882.9 L1151.0,882.9 L1151.5,882.9 L1152.0,882.9 L1152.5,882.9 L1153.0,882.9 L1153.5,882.9 L1154.0,882.9 L1154.5,882.9 L1155.0,882.9 L1155.5,882.9 L1156.0,882.9 L1156.5,882.9 L1157.0,882.9 L1157.5,882.9 L1158.0,882.9 L1158.5,882.9 L1159.0,882.9 L1159.5,882.9 L1160.0,882.9 L1160.5,882.9 L1161.0,882.9 L1161.5,882.9 L1162.0,882.9 L1162.5,882.9 L1163.0,882.9 L1163.5,882.9 L1164.0,882.9 L1164.5,882.9 L1165.0,882.9 L1165.5,882.9 L1166.0,882.9 L1166.5,882.9 L1167.0,882.9 L1167.5,882.9 L1168.0,882.9 L1168.5,882.9 L1169.0,882.9 L1169.5,882.9 L1170.0,882.9 L1170.5,882.9 L1171.0,882.9 L1171.5,882.9 L1172.0,882.9 L1172.5,882.9 L1173.0,883.0 L1173.5,883.0 L1174.0,883.0 L1174.5,883.0 L1175.0,883.0 L1175.5,883.0 L1176.0,883.0 L1176.5,883.0 L1177.0,883.0 L1177.5,883.0 L1178.0,883.0 L1178.5,883.0 L1179.0,883.0 L1179.5,883.0 L1180.0,883.0 L1180.5,883.0 L1181.0,883.0 L1181.5,883.0 L1182.0,883.0 L1182.5,883.0 L1183.0,883.0 L1183.5,883.0 L1184.0,883.0 L1184.5,883.0 L1185.0,883.0 L1185.5,883.0 L1186.0,883.0 L1186.5,883.0 L1187.0,883.0 L1187.5,883.0 L1188.0,883.0 L1188.5,883.0 L1189.0,883.0 L1189.5,883.0 L1190.0,883.0 L1190.5,883.0 L1191.0,883.0 L1191.5,883.0 L1192.0,883.0 L1192.5,883.0 L1193.0,883.0 L1193.5,883.0 L1194.0,883.0 L1194.5,883.0 L1195.0,883.0 L1195.5,883.0 L1196.0,883.0 L1196.5,883.0 L1197.0,883.0 L1197.5,883.0 L1198.0,883.0 L1198.5,883.0 L1199.0,883.0 L1199.5,883.0 L1200.0,883.0 L1200.5,883.0 L1201.0,883.0 L1201.5,883.0 L1202.0,883.0 L1202.5,883.0 L1203.0,883.0 L1203.5,883.0 L1204.0,883.0 L1204.5,883.0 L1205.0,883.1 L1205.5,883.1 L1206.0,883.1 L1206.5,883.1 L1207.0,883.1 L1207.5,883.1 L1208.0,883.1 L1208.5,883.1 L1209.0,883.1 L1209.5,883.1 L1210.0,883.1 L1210.5,883.1 L1211.0,883.1 L1211.5,883.1 L1212.0,883.1 L1212.5,883.1 L1213.0,883.1 L1213.5,883.1 L1214.0,883.1 L1214.5,883.1 L1215.0,883.1 L1215.5,883.1 L1216.0,883.1 L1216.5,883.1 L1217.0,883.1 L1217.5,883.1 L1218.0,883.1 L1218.5,883.1 L1219.0,883.1 L1219.5,883.1 L1220.0,883.1 L1220.5,883.1 L1221.0,883.1 L1221.5,883.1 L1222.0,883.1 L1222.5,883.1 L1223.0,883.1 L1223.5,883.1 L1224.0,883.1 L1224.5,883.1 L1225.0,883.1 L1225.5,883.1 L1226.0,883.1 L1226.5,883.1 L1227.0,883.1 L1227.5,883.1 L1228.0,883.1 L1228.5,883.1 L1229.0,883.1 L1229.5,883.1 L1230.0,883.1 L1230.5,883.1 L1231.0,883.1 L1231.5,883.1 L1232.0,883.0 L1232.5,883.0 L1233.0,883.0 L1233.5,883.0 L1234.0,883.0 L1234.5,883.0 L1235.0,883.0 L1235.5,883.0 L1236.0,883.0 L1236.5,883.0 L1237.0,883.0 L1237.5,883.0 L1238.0,882.9 L1238.5,882.9 L1239.0,882.9 L1239.5,882.9 L1240.0,882.8 L1240.5,882.8 L1241.0,882.8 L1241.5,882.7 L1242.0,882.7 L1242.5,882.6 L1243.0,882.5 L1243.5,882.4 L1244.0,882.3 L1244.5,882.1 L1245.0,881.9 L1245.5,881.7 L1246.0,881.3 L1246.5,880.8 L1247.0,880.2 L1247.5,879.3 L1248.0,878.1 L1248.5,876.5 L1249.0,874.6 L1249.5,872.9 L1250.0,872.4 L1250.5,873.5 L1251.0,875.3 L1251.5,877.2 L1252.0,878.6 L1252.5,879.7 L1253.0,880.5 L1253.5,881.1 L1254.0,881.5 L1254.5,881.8 L1255.0,882.0 L1255.5,882.2 L1256.0,882.4 L1256.5,882.5 L1257.0,882.6 L1257.5,882.7 L1258.0,882.7 L1258.5,882.8 L1259.0,882.8 L1259.5,882.9 L1260.0,882.9 L1260.5,882.9 L1261.0,883.0 L1261.5,883.0 L1262.0,883.0 L1262.5,883.0 L1263.0,883.1 L1263.5,883.1 L1264.0,883.1 L1264.5,883.1 L1265.0,883.1 L1265.5,883.1 L1266.0,883.1 L1266.5,883.1 L1267.0,883.2 L1267.5,883.2 L1268.0,883.2 L1268.5,883.2 L1269.0,883.2 L1269.5,883.2 L1270.0,883.2 L1270.5,883.2 L1271.0,883.2 L1271.5,883.2 L1272.0,883.2 L1272.5,883.2 L1273.0,883.2 L1273.5,883.2 L1274.0,883.2 L1274.5,883.2 L1275.0,883.2 L1275.0,883.3Z" fill="#e828e8" fill-opacity="0.88" stroke="#e828e8" stroke-width="0.9"/>
<path d="M721,881.0L1275,882.8" stroke="#6a1414" stroke-width="3.6"/>
<path d="M721.0,879.1 L721.2,879.7 L721.5,879.4 L721.8,879.8 L722.0,879.9 L722.2,878.8 L722.5,878.7 L722.8,880.3 L723.0,879.1 L723.2,879.1 L723.5,880.6 L723.8,879.5 L724.0,880.3 L724.2,879.5 L724.5,879.9 L724.8,878.9 L725.0,879.8 L725.2,880.3 L725.5,879.6 L725.8,880.0 L726.0,879.9 L726.2,878.7 L726.5,880.0 L726.8,879.7 L727.0,879.1 L727.2,878.5 L727.5,880.2 L727.8,879.4 L728.0,879.9 L728.2,880.2 L728.5,879.9 L728.8,880.3 L729.0,879.2 L729.2,880.0 L729.5,879.3 L729.8,880.2 L730.0,880.1 L730.2,878.5 L730.5,878.6 L730.8,878.7 L731.0,880.2 L731.2,879.1 L731.5,879.5 L731.8,878.8 L732.0,879.2 L732.2,879.0 L732.5,878.9 L732.8,879.3 L733.0,879.3 L733.2,879.9 L733.5,879.5 L733.8,879.9 L734.0,879.8 L734.2,880.0 L734.5,879.3 L734.8,878.3 L735.0,879.6 L735.2,879.8 L735.5,879.7 L735.8,879.0 L736.0,879.2 L736.2,878.2 L736.5,879.4 L736.8,878.8 L737.0,878.2 L737.2,877.7 L737.5,879.2 L737.8,879.4 L738.0,877.6 L738.2,878.9 L738.5,878.1 L738.8,877.5 L739.0,877.7 L739.2,878.6 L739.5,878.7 L739.8,876.9 L740.0,878.0 L740.2,876.7 L740.5,878.0 L740.8,877.1 L741.0,878.1 L741.2,878.1 L741.5,877.0 L741.8,877.8 L742.0,876.3 L742.2,875.6 L742.5,876.4 L742.8,875.1 L743.0,875.1 L743.2,875.3 L743.5,875.3 L743.8,874.1 L744.0,873.4 L744.2,874.6 L744.5,873.0 L744.8,873.7 L745.0,872.9 L745.2,871.0 L745.5,870.3 L745.8,869.2 L746.0,868.1 L746.2,866.4 L746.5,864.2 L746.8,861.7 L747.0,858.9 L747.2,853.2 L747.5,846.3 L747.8,836.5 L748.0,818.1 L748.2,783.8 L748.5,700.8 L748.7,605.6 L748.8,616.1 L749.0,742.6 L749.2,800.8 L749.5,826.5 L749.8,838.9 L750.0,848.3 L750.2,853.5 L750.5,855.8 L750.8,859.2 L751.0,860.2 L751.2,861.3 L751.5,860.7 L751.8,861.0 L752.0,860.1 L752.2,857.1 L752.5,854.9 L752.8,852.9 L753.0,849.1 L753.2,841.5 L753.5,832.9 L753.8,819.4 L754.0,795.5 L754.2,749.7 L754.5,637.4 L754.7,512.4 L754.8,526.7 L755.0,695.7 L755.2,772.5 L755.5,807.6 L755.8,825.0 L756.0,837.8 L756.2,846.1 L756.5,851.0 L756.8,855.2 L757.0,859.7 L757.2,861.2 L757.5,863.3 L757.8,865.5 L758.0,867.6 L758.2,867.6 L758.5,869.1 L758.8,870.1 L759.0,871.9 L759.2,871.8 L759.5,873.3 L759.8,872.5 L760.0,873.3 L760.2,874.4 L760.5,875.2 L760.8,874.7 L761.0,874.6 L761.2,874.7 L761.5,875.8 L761.8,875.4 L762.0,876.8 L762.2,877.1 L762.5,876.0 L762.8,876.3 L763.0,877.6 L763.2,877.4 L763.5,877.9 L763.8,877.1 L764.0,876.8 L764.2,877.2 L764.5,878.3 L764.8,877.4 L765.0,877.6 L765.2,877.8 L765.5,877.9 L765.8,878.0 L766.0,879.1 L766.2,877.6 L766.5,877.4 L766.8,879.3 L767.0,879.3 L767.2,879.5 L767.5,878.5 L767.8,879.6 L768.0,879.6 L768.2,878.2 L768.5,879.3 L768.8,879.5 L769.0,879.2 L769.2,879.0 L769.5,878.5 L769.8,878.7 L770.0,878.5 L770.2,878.2 L770.5,879.3 L770.8,878.7 L771.0,879.8 L771.2,878.3 L771.5,880.0 L771.8,879.6 L772.0,880.1 L772.2,880.1 L772.5,880.1 L772.8,879.5 L773.0,878.4 L773.2,879.8 L773.5,878.7 L773.8,879.0 L774.0,879.7 L774.2,879.5 L774.5,879.3 L774.8,880.3 L775.0,879.7 L775.2,879.2 L775.5,879.0 L775.8,880.2 L776.0,879.5 L776.2,880.1 L776.5,879.3 L776.8,879.0 L777.0,879.7 L777.2,880.2 L777.5,878.9 L777.8,880.2 L778.0,880.5 L778.2,880.2 L778.5,880.3 L778.8,878.7 L779.0,879.9 L779.2,880.4 L779.5,878.8 L779.8,879.2 L780.0,879.2 L780.2,879.8 L780.5,879.6 L780.8,879.7 L781.0,880.3 L781.2,878.7 L781.5,878.9 L781.8,879.0 L782.0,879.0 L782.2,878.9 L782.5,880.7 L782.8,880.5 L783.0,879.0 L783.2,879.8 L783.5,879.4 L783.8,879.4 L784.0,879.5 L784.2,880.1 L784.5,880.0 L784.8,879.5 L785.0,879.2 L785.2,879.5 L785.5,879.1 L785.8,880.0 L786.0,880.3 L786.2,879.6 L786.5,879.0 L786.8,879.2 L787.0,879.6 L787.2,880.1 L787.5,880.4 L787.8,879.6 L788.0,880.5 L788.2,880.1 L788.5,879.7 L788.8,879.6 L789.0,879.9 L789.2,880.3 L789.5,879.7 L789.8,880.3 L790.0,879.8 L790.2,879.4 L790.5,880.0 L790.8,880.3 L791.0,879.0 L791.2,879.7 L791.5,879.7 L791.8,880.6 L792.0,880.7 L792.2,879.6 L792.5,880.7 L792.8,880.4 L793.0,879.4 L793.2,879.8 L793.5,879.1 L793.8,880.5 L794.0,880.2 L794.2,880.6 L794.5,880.4 L794.8,880.1 L795.0,880.3 L795.2,879.9 L795.5,879.0 L795.8,879.9 L796.0,878.7 L796.2,879.0 L796.5,880.2 L796.8,878.7 L797.0,878.7 L797.2,878.7 L797.5,880.2 L797.8,878.7 L798.0,878.2 L798.2,879.7 L798.5,878.1 L798.8,879.3 L799.0,878.7 L799.2,878.6 L799.5,878.2 L799.8,876.5 L800.0,875.6 L800.2,871.9 L800.5,869.8 L800.8,863.6 L801.0,857.8 L801.2,857.5 L801.5,865.4 L801.8,871.0 L802.0,872.5 L802.2,875.0 L802.5,876.7 L802.8,878.0 L803.0,877.4 L803.2,877.6 L803.5,878.0 L803.8,878.9 L804.0,879.2 L804.2,878.3 L804.5,877.8 L804.8,877.0 L805.0,876.3 L805.2,877.2 L805.5,877.5 L805.8,878.9 L806.0,880.2 L806.2,879.3 L806.5,880.1 L806.8,879.0 L807.0,880.1 L807.2,880.3 L807.5,880.2 L807.8,879.9 L808.0,879.8 L808.2,880.2 L808.5,880.7 L808.8,879.2 L809.0,879.1 L809.2,880.5 L809.5,880.8 L809.8,880.0 L810.0,879.9 L810.2,880.4 L810.5,879.4 L810.8,879.6 L811.0,879.4 L811.2,880.2 L811.5,879.7 L811.8,879.5 L812.0,880.4 L812.2,881.0 L812.5,879.7 L812.8,880.5 L813.0,879.9 L813.2,880.8 L813.5,880.3 L813.8,879.6 L814.0,879.5 L814.2,879.1 L814.5,880.1 L814.8,879.9 L815.0,879.4 L815.2,879.8 L815.5,879.7 L815.8,880.7 L816.0,879.4 L816.2,881.1 L816.5,880.1 L816.8,880.3 L817.0,880.1 L817.2,880.8 L817.5,880.8 L817.8,880.2 L818.0,880.1 L818.2,880.6 L818.5,880.8 L818.8,879.9 L819.0,880.6 L819.2,881.1 L819.5,880.1 L819.8,879.6 L820.0,879.6 L820.2,880.6 L820.5,880.5 L820.8,881.1 L821.0,880.8 L821.2,879.6 L821.5,879.5 L821.8,879.7 L822.0,879.5 L822.2,880.6 L822.5,880.9 L822.8,880.9 L823.0,879.7 L823.2,880.9 L823.5,879.8 L823.8,880.0 L824.0,880.6 L824.2,879.3 L824.5,879.3 L824.8,880.8 L825.0,879.7 L825.2,879.9 L825.5,880.3 L825.8,880.5 L826.0,879.2 L826.2,879.8 L826.5,880.0 L826.8,880.1 L827.0,879.6 L827.2,880.3 L827.5,881.0 L827.8,879.9 L828.0,880.2 L828.2,879.4 L828.5,879.7 L828.8,880.5 L829.0,879.4 L829.2,880.9 L829.5,880.9 L829.8,879.3 L830.0,881.0 L830.2,879.9 L830.5,880.7 L830.8,880.6 L831.0,879.7 L831.2,880.5 L831.5,880.4 L831.8,880.7 L832.0,879.6 L832.2,880.6 L832.5,881.0 L832.8,880.4 L833.0,880.1 L833.2,879.3 L833.5,880.0 L833.8,879.8 L834.0,880.5 L834.2,880.4 L834.5,880.2 L834.8,879.4 L835.0,880.3 L835.2,880.2 L835.5,879.3 L835.8,880.7 L836.0,880.3 L836.2,879.2 L836.5,880.8 L836.8,879.2 L837.0,879.5 L837.2,880.3 L837.5,880.0 L837.8,879.9 L838.0,880.0 L838.2,879.6 L838.5,879.2 L838.8,878.9 L839.0,878.6 L839.2,879.8 L839.5,879.7 L839.8,879.2 L840.0,879.4 L840.2,878.4 L840.5,877.9 L840.8,877.7 L841.0,878.1 L841.2,875.6 L841.5,875.3 L841.8,872.9 L842.0,870.9 L842.2,865.1 L842.5,858.1 L842.8,855.3 L843.0,861.3 L843.2,868.1 L843.5,871.4 L843.8,874.8 L844.0,874.9 L844.2,876.2 L844.5,876.5 L844.8,876.9 L845.0,878.6 L845.2,878.7 L845.5,877.7 L845.8,877.8 L846.0,878.2 L846.2,878.9 L846.5,878.9 L846.8,878.7 L847.0,878.2 L847.2,877.1 L847.5,877.2 L847.8,876.4 L848.0,876.5 L848.2,875.8 L848.5,874.1 L848.8,872.7 L849.0,871.7 L849.2,867.0 L849.5,863.5 L849.8,855.8 L850.0,845.2 L850.2,839.6 L850.5,848.7 L850.8,858.8 L851.0,865.5 L851.2,870.3 L851.5,872.5 L851.8,873.5 L852.0,875.9 L852.2,876.1 L852.5,877.0 L852.8,877.8 L853.0,876.8 L853.2,878.6 L853.5,878.7 L853.8,878.6 L854.0,878.8 L854.2,878.8 L854.5,878.4 L854.8,879.2 L855.0,878.3 L855.2,879.3 L855.5,879.6 L855.8,879.2 L856.0,879.5 L856.2,880.3 L856.5,880.2 L856.8,878.7 L857.0,880.1 L857.2,879.7 L857.5,878.6 L857.8,879.2 L858.0,878.9 L858.2,878.6 L858.5,879.5 L858.8,880.2 L859.0,878.9 L859.2,880.0 L859.5,879.6 L859.8,878.3 L860.0,879.7 L860.2,879.0 L860.5,879.5 L860.8,878.9 L861.0,878.7 L861.2,877.6 L861.5,878.2 L861.8,877.9 L862.0,877.2 L862.2,875.5 L862.5,874.9 L862.8,872.7 L863.0,869.5 L863.2,865.6 L863.5,859.7 L863.8,850.7 L864.0,840.7 L864.2,842.9 L864.5,853.8 L864.8,862.0 L865.0,867.2 L865.2,871.2 L865.5,872.7 L865.8,874.6 L866.0,876.3 L866.2,876.4 L866.5,876.6 L866.8,878.5 L867.0,878.5 L867.2,878.1 L867.5,878.4 L867.8,878.9 L868.0,879.2 L868.2,878.6 L868.5,878.3 L868.8,878.8 L869.0,880.0 L869.2,878.8 L869.5,879.5 L869.8,879.0 L870.0,879.1 L870.2,879.1 L870.5,879.6 L870.8,879.1 L871.0,878.9 L871.2,879.1 L871.5,879.2 L871.8,879.9 L872.0,879.0 L872.2,879.0 L872.5,879.8 L872.8,879.7 L873.0,880.3 L873.2,879.1 L873.5,879.8 L873.8,879.8 L874.0,879.0 L874.2,880.9 L874.5,879.4 L874.8,879.1 L875.0,879.9 L875.2,879.3 L875.5,880.2 L875.8,879.6 L876.0,879.2 L876.2,879.0 L876.5,880.3 L876.8,879.4 L877.0,880.4 L877.2,879.7 L877.5,880.6 L877.8,879.2 L878.0,879.1 L878.2,879.0 L878.5,879.9 L878.8,879.4 L879.0,878.6 L879.2,877.7 L879.5,878.4 L879.8,878.2 L880.0,876.3 L880.2,873.2 L880.5,869.9 L880.8,865.0 L881.0,861.7 L881.2,864.9 L881.5,869.9 L881.8,874.4 L882.0,876.9 L882.2,876.7 L882.5,879.0 L882.8,878.5 L883.0,879.5 L883.2,879.9 L883.5,880.1 L883.8,878.5 L884.0,879.1 L884.2,879.8 L884.5,880.5 L884.8,878.8 L885.0,879.3 L885.2,880.4 L885.5,879.0 L885.8,879.5 L886.0,879.4 L886.2,880.1 L886.5,880.6 L886.8,879.1 L887.0,880.2 L887.2,880.1 L887.5,880.3 L887.8,879.7 L888.0,880.4 L888.2,879.2 L888.5,879.3 L888.8,878.8 L889.0,879.8 L889.2,879.1 L889.5,878.5 L889.8,878.1 L890.0,879.0 L890.2,878.4 L890.5,878.2 L890.8,877.0 L891.0,876.5 L891.2,874.7 L891.5,874.3 L891.8,870.5 L892.0,867.6 L892.2,862.0 L892.5,853.4 L892.8,848.8 L893.0,856.0 L893.2,865.0 L893.5,869.7 L893.8,873.3 L894.0,875.3 L894.2,875.8 L894.5,877.6 L894.8,877.9 L895.0,877.6 L895.2,878.0 L895.5,877.7 L895.8,878.6 L896.0,879.8 L896.2,878.3 L896.5,879.3 L896.8,878.5 L897.0,878.5 L897.2,879.7 L897.5,878.9 L897.8,878.6 L898.0,878.8 L898.2,879.8 L898.5,879.7 L898.8,878.6 L899.0,879.0 L899.2,880.5 L899.5,879.0 L899.8,879.6 L900.0,879.3 L900.2,880.0 L900.5,879.7 L900.8,880.0 L901.0,879.5 L901.2,878.7 L901.5,878.7 L901.8,878.4 L902.0,879.9 L902.2,878.4 L902.5,878.2 L902.8,880.0 L903.0,878.4 L903.2,879.7 L903.5,877.9 L903.8,878.6 L904.0,878.0 L904.2,879.0 L904.5,878.4 L904.8,878.3 L905.0,878.3 L905.2,878.3 L905.5,877.0 L905.8,877.1 L906.0,876.4 L906.2,875.3 L906.5,876.2 L906.8,875.1 L907.0,874.7 L907.2,872.5 L907.5,871.9 L907.8,870.2 L908.0,868.7 L908.2,864.6 L908.5,861.4 L908.8,856.3 L909.0,847.5 L909.2,836.1 L909.5,818.3 L909.8,801.9 L910.0,810.3 L910.2,829.6 L910.5,843.5 L910.8,853.2 L911.0,860.8 L911.2,863.8 L911.5,867.1 L911.8,868.7 L912.0,870.7 L912.2,871.9 L912.5,874.5 L912.8,875.0 L913.0,876.0 L913.2,876.8 L913.5,876.6 L913.8,877.6 L914.0,877.2 L914.2,877.3 L914.5,878.6 L914.8,878.7 L915.0,879.0 L915.2,878.2 L915.5,879.0 L915.8,878.4 L916.0,879.7 L916.2,879.6 L916.5,878.5 L916.8,879.8 L917.0,878.4 L917.2,878.3 L917.5,879.6 L917.8,878.8 L918.0,879.3 L918.2,879.6 L918.5,878.4 L918.8,879.8 L919.0,878.9 L919.2,879.3 L919.5,879.1 L919.8,879.9 L920.0,879.9 L920.2,879.0 L920.5,878.7 L920.8,879.0 L921.0,879.3 L921.2,878.6 L921.5,878.7 L921.8,879.9 L922.0,879.8 L922.2,880.3 L922.5,880.3 L922.8,880.0 L923.0,879.0 L923.2,878.5 L923.5,878.7 L923.8,878.9 L924.0,878.9 L924.2,878.8 L924.5,878.2 L924.8,879.0 L925.0,877.6 L925.2,877.5 L925.5,877.9 L925.8,877.0 L926.0,874.9 L926.2,873.3 L926.5,872.0 L926.8,866.5 L927.0,860.5 L927.2,853.5 L927.5,852.4 L927.8,859.0 L928.0,865.5 L928.2,870.1 L928.5,873.8 L928.8,874.8 L929.0,876.9 L929.2,877.3 L929.5,878.2 L929.8,876.6 L930.0,877.2 L930.2,877.0 L930.5,878.0 L930.8,877.9 L931.0,877.4 L931.2,878.4 L931.5,877.5 L931.8,877.9 L932.0,877.8 L932.2,878.8 L932.5,878.0 L932.8,877.6 L933.0,877.1 L933.2,877.7 L933.5,878.0 L933.8,877.9 L934.0,878.2 L934.2,877.8 L934.5,876.5 L934.8,876.0 L935.0,876.9 L935.2,876.6 L935.5,875.6 L935.8,875.8 L936.0,874.7 L936.2,873.5 L936.5,872.5 L936.8,871.2 L937.0,871.3 L937.2,870.4 L937.5,868.7 L937.8,865.6 L938.0,863.1 L938.2,859.7 L938.5,854.1 L938.8,845.9 L939.0,833.9 L939.2,816.1 L939.5,791.6 L939.8,781.8 L940.0,802.2 L940.2,825.1 L940.5,839.3 L940.8,848.9 L941.0,855.4 L941.2,860.3 L941.5,864.3 L941.8,866.1 L942.0,869.1 L942.2,868.9 L942.5,870.4 L942.8,871.7 L943.0,872.2 L943.2,873.6 L943.5,873.9 L943.8,874.4 L944.0,873.8 L944.2,872.6 L944.5,873.5 L944.8,873.1 L945.0,872.4 L945.2,871.1 L945.5,870.8 L945.8,869.5 L946.0,865.5 L946.2,863.1 L946.5,857.1 L946.8,849.1 L947.0,836.9 L947.2,821.3 L947.5,818.4 L947.8,832.4 L948.0,847.9 L948.2,855.6 L948.5,862.0 L948.8,866.8 L949.0,868.6 L949.2,870.5 L949.5,873.4 L949.8,874.6 L950.0,874.2 L950.2,875.1 L950.5,875.5 L950.8,875.7 L951.0,876.3 L951.2,878.1 L951.5,876.6 L951.8,877.1 L952.0,877.3 L952.2,877.2 L952.5,878.3 L952.8,878.8 L953.0,879.1 L953.2,878.8 L953.5,879.2 L953.8,877.7 L954.0,878.3 L954.2,879.6 L954.5,877.9 L954.8,878.2 L955.0,878.6 L955.2,878.1 L955.5,878.5 L955.8,877.3 L956.0,877.3 L956.2,878.3 L956.5,875.9 L956.8,876.1 L957.0,872.5 L957.2,870.5 L957.5,864.6 L957.8,862.4 L958.0,865.7 L958.2,870.4 L958.5,874.8 L958.8,875.4 L959.0,876.5 L959.2,878.5 L959.5,879.0 L959.8,877.7 L960.0,879.8 L960.2,879.1 L960.5,878.9 L960.8,878.5 L961.0,879.1 L961.2,880.4 L961.5,879.0 L961.8,878.7 L962.0,878.8 L962.2,878.8 L962.5,879.2 L962.8,880.4 L963.0,878.7 L963.2,878.9 L963.5,880.3 L963.8,880.4 L964.0,880.3 L964.2,878.8 L964.5,879.0 L964.8,880.1 L965.0,879.0 L965.2,879.3 L965.5,878.4 L965.8,877.6 L966.0,878.0 L966.2,878.5 L966.5,878.2 L966.8,877.3 L967.0,876.4 L967.2,875.8 L967.5,874.5 L967.8,873.3 L968.0,872.2 L968.2,869.0 L968.5,868.0 L968.8,867.7 L969.0,868.0 L969.2,868.2 L969.5,871.7 L969.8,873.3 L970.0,873.5 L970.2,874.9 L970.5,875.7 L970.8,876.1 L971.0,878.5 L971.2,877.8 L971.5,879.0 L971.8,877.8 L972.0,877.8 L972.2,879.7 L972.5,879.7 L972.8,880.2 L973.0,879.7 L973.2,879.5 L973.5,880.1 L973.8,878.8 L974.0,879.7 L974.2,879.6 L974.5,879.0 L974.8,880.0 L975.0,879.4 L975.2,879.8 L975.5,879.6 L975.8,879.5 L976.0,879.6 L976.2,880.1 L976.5,880.9 L976.8,880.8 L977.0,880.6 L977.2,880.6 L977.5,879.5 L977.8,880.9 L978.0,879.5 L978.2,879.2 L978.5,879.9 L978.8,880.4 L979.0,879.6 L979.2,880.2 L979.5,879.4 L979.8,880.8 L980.0,879.7 L980.2,879.8 L980.5,879.8 L980.8,880.5 L981.0,880.7 L981.2,879.8 L981.5,879.5 L981.8,879.9 L982.0,878.7 L982.2,879.4 L982.5,880.2 L982.8,880.0 L983.0,878.5 L983.2,880.0 L983.5,878.9 L983.8,880.0 L984.0,878.7 L984.2,878.3 L984.5,878.8 L984.8,879.3 L985.0,878.2 L985.2,878.8 L985.5,878.2 L985.8,877.2 L986.0,876.7 L986.2,876.6 L986.5,875.8 L986.8,875.0 L987.0,874.6 L987.2,873.7 L987.5,871.3 L987.8,867.8 L988.0,864.0 L988.2,858.2 L988.5,849.2 L988.8,836.6 L989.0,834.7 L989.2,846.0 L989.5,855.8 L989.8,861.4 L990.0,865.9 L990.2,868.5 L990.5,868.4 L990.8,868.5 L991.0,867.5 L991.2,865.2 L991.5,861.4 L991.8,854.2 L992.0,844.5 L992.2,828.7 L992.5,820.6 L992.8,829.3 L993.0,844.3 L993.2,855.6 L993.5,861.0 L993.8,865.2 L994.0,869.5 L994.2,871.2 L994.5,871.7 L994.8,872.8 L995.0,874.3 L995.2,874.3 L995.5,876.5 L995.8,875.6 L996.0,875.9 L996.2,876.2 L996.5,876.2 L996.8,875.3 L997.0,874.1 L997.2,871.9 L997.5,871.1 L997.8,872.9 L998.0,876.8 L998.2,877.4 L998.5,876.9 L998.8,878.0 L999.0,879.0 L999.2,879.6 L999.5,877.9 L999.8,877.9 L1000.0,879.0 L1000.2,878.9 L1000.5,879.9 L1000.8,879.9 L1001.0,878.9 L1001.2,879.1 L1001.5,879.5 L1001.8,880.1 L1002.0,878.7 L1002.2,879.1 L1002.5,878.5 L1002.8,879.6 L1003.0,878.3 L1003.2,880.1 L1003.5,879.3 L1003.8,879.4 L1004.0,878.4 L1004.2,878.6 L1004.5,879.0 L1004.8,879.8 L1005.0,879.1 L1005.2,878.5 L1005.5,879.8 L1005.8,879.1 L1006.0,878.7 L1006.2,878.0 L1006.5,878.1 L1006.8,879.1 L1007.0,877.5 L1007.2,878.1 L1007.5,878.1 L1007.8,877.3 L1008.0,877.9 L1008.2,877.9 L1008.5,877.4 L1008.8,876.8 L1009.0,875.3 L1009.2,874.5 L1009.5,874.6 L1009.8,873.6 L1010.0,872.4 L1010.2,872.6 L1010.5,869.8 L1010.8,869.2 L1011.0,867.0 L1011.2,862.1 L1011.5,859.2 L1011.8,851.6 L1012.0,841.3 L1012.2,826.0 L1012.5,805.4 L1012.8,797.9 L1013.0,814.2 L1013.2,834.1 L1013.5,846.9 L1013.8,853.6 L1014.0,859.7 L1014.2,863.4 L1014.5,865.6 L1014.8,867.5 L1015.0,868.7 L1015.2,870.2 L1015.5,869.6 L1015.8,868.6 L1016.0,867.4 L1016.2,865.1 L1016.5,860.5 L1016.8,851.9 L1017.0,843.9 L1017.2,844.4 L1017.5,854.9 L1017.8,862.6 L1018.0,866.6 L1018.2,870.8 L1018.5,872.1 L1018.8,873.7 L1019.0,874.8 L1019.2,875.6 L1019.5,875.7 L1019.8,875.3 L1020.0,877.0 L1020.2,877.4 L1020.5,876.7 L1020.8,877.0 L1021.0,876.4 L1021.2,877.6 L1021.5,877.0 L1021.8,875.9 L1022.0,876.9 L1022.2,876.9 L1022.5,875.2 L1022.8,875.9 L1023.0,874.1 L1023.2,872.5 L1023.5,872.2 L1023.8,869.6 L1024.0,867.8 L1024.2,863.6 L1024.5,856.9 L1024.8,848.6 L1025.0,835.7 L1025.2,823.0 L1025.5,829.1 L1025.8,844.3 L1026.0,854.4 L1026.2,861.4 L1026.5,866.1 L1026.8,869.7 L1027.0,870.6 L1027.2,871.9 L1027.5,874.4 L1027.8,874.9 L1028.0,875.0 L1028.2,876.7 L1028.5,877.1 L1028.8,876.8 L1029.0,877.9 L1029.2,877.8 L1029.5,877.7 L1029.8,876.9 L1030.0,876.4 L1030.2,877.8 L1030.5,877.9 L1030.8,877.1 L1031.0,877.3 L1031.2,877.3 L1031.5,876.6 L1031.8,877.3 L1032.0,876.8 L1032.2,876.1 L1032.5,875.2 L1032.8,875.7 L1033.0,874.7 L1033.2,874.9 L1033.5,873.0 L1033.8,872.4 L1034.0,870.8 L1034.2,869.6 L1034.5,867.8 L1034.8,863.9 L1035.0,859.7 L1035.2,854.6 L1035.5,845.0 L1035.8,831.5 L1036.0,812.2 L1036.2,804.4 L1036.5,820.5 L1036.8,838.6 L1037.0,850.3 L1037.2,857.2 L1037.5,862.0 L1037.8,864.8 L1038.0,867.7 L1038.2,869.6 L1038.5,872.2 L1038.8,871.5 L1039.0,873.8 L1039.2,873.3 L1039.5,873.5 L1039.8,873.2 L1040.0,874.4 L1040.2,872.5 L1040.5,872.5 L1040.8,871.3 L1041.0,868.9 L1041.2,866.3 L1041.5,863.8 L1041.8,856.9 L1042.0,846.5 L1042.2,834.2 L1042.5,830.8 L1042.8,844.0 L1043.0,855.3 L1043.2,861.5 L1043.5,866.6 L1043.8,870.7 L1044.0,871.6 L1044.2,874.0 L1044.5,873.9 L1044.8,875.8 L1045.0,875.7 L1045.2,876.7 L1045.5,876.8 L1045.8,878.2 L1046.0,878.2 L1046.2,878.0 L1046.5,878.5 L1046.8,878.2 L1047.0,879.1 L1047.2,878.1 L1047.5,878.8 L1047.8,878.9 L1048.0,878.6 L1048.2,878.0 L1048.5,878.3 L1048.8,879.3 L1049.0,878.4 L1049.2,879.6 L1049.5,879.1 L1049.8,880.0 L1050.0,879.8 L1050.2,879.5 L1050.5,878.8 L1050.8,878.1 L1051.0,879.1 L1051.2,879.5 L1051.5,879.8 L1051.8,878.3 L1052.0,878.2 L1052.2,879.7 L1052.5,879.2 L1052.8,878.6 L1053.0,879.0 L1053.2,877.7 L1053.5,878.4 L1053.8,878.5 L1054.0,878.2 L1054.2,877.2 L1054.5,876.9 L1054.8,877.7 L1055.0,878.0 L1055.2,876.2 L1055.5,875.6 L1055.8,875.4 L1056.0,876.4 L1056.2,875.2 L1056.5,874.8 L1056.8,875.2 L1057.0,873.7 L1057.2,872.1 L1057.5,871.9 L1057.8,869.2 L1058.0,868.1 L1058.2,866.9 L1058.5,863.3 L1058.8,859.7 L1059.0,856.2 L1059.2,849.6 L1059.5,841.8 L1059.8,826.4 L1060.0,806.9 L1060.2,780.9 L1060.5,778.2 L1060.8,801.1 L1061.0,824.0 L1061.2,838.3 L1061.5,847.9 L1061.8,855.0 L1062.0,860.5 L1062.2,863.1 L1062.5,865.6 L1062.8,868.1 L1063.0,869.1 L1063.2,870.9 L1063.5,872.6 L1063.8,873.5 L1064.0,874.4 L1064.2,874.4 L1064.5,874.5 L1064.8,875.0 L1065.0,876.0 L1065.2,876.1 L1065.5,877.2 L1065.8,876.9 L1066.0,878.2 L1066.2,878.1 L1066.5,878.4 L1066.8,878.7 L1067.0,878.5 L1067.2,878.4 L1067.5,878.4 L1067.8,878.0 L1068.0,879.6 L1068.2,879.1 L1068.5,878.4 L1068.8,880.1 L1069.0,879.5 L1069.2,879.7 L1069.5,879.4 L1069.8,878.8 L1070.0,880.6 L1070.2,879.0 L1070.5,879.5 L1070.8,880.8 L1071.0,879.1 L1071.2,879.9 L1071.5,879.9 L1071.8,879.4 L1072.0,880.8 L1072.2,879.8 L1072.5,879.1 L1072.8,880.0 L1073.0,879.1 L1073.2,880.5 L1073.5,880.9 L1073.8,880.9 L1074.0,879.2 L1074.2,880.5 L1074.5,879.8 L1074.8,880.1 L1075.0,879.8 L1075.2,879.8 L1075.5,879.5 L1075.8,880.4 L1076.0,879.3 L1076.2,881.1 L1076.5,879.2 L1076.8,881.0 L1077.0,879.4 L1077.2,879.0 L1077.5,880.1 L1077.8,879.2 L1078.0,878.8 L1078.2,877.0 L1078.5,877.0 L1078.8,877.2 L1079.0,879.3 L1079.2,879.5 L1079.5,880.7 L1079.8,878.9 L1080.0,879.1 L1080.2,880.4 L1080.5,880.9 L1080.8,879.9 L1081.0,880.5 L1081.2,880.2 L1081.5,879.9 L1081.8,880.0 L1082.0,880.2 L1082.2,879.0 L1082.5,879.6 L1082.8,880.4 L1083.0,879.3 L1083.2,879.7 L1083.5,879.2 L1083.8,879.3 L1084.0,879.8 L1084.2,879.8 L1084.5,880.1 L1084.8,879.0 L1085.0,878.2 L1085.2,878.3 L1085.5,877.4 L1085.8,877.4 L1086.0,877.6 L1086.2,877.1 L1086.5,875.6 L1086.8,874.5 L1087.0,873.0 L1087.2,871.3 L1087.5,869.4 L1087.8,865.1 L1088.0,860.4 L1088.2,850.5 L1088.5,837.6 L1088.8,832.7 L1089.0,842.0 L1089.2,855.0 L1089.5,862.8 L1089.8,867.0 L1090.0,870.9 L1090.2,872.2 L1090.5,873.7 L1090.8,874.9 L1091.0,875.6 L1091.2,877.1 L1091.5,877.7 L1091.8,878.2 L1092.0,877.3 L1092.2,878.8 L1092.5,878.4 L1092.8,878.3 L1093.0,878.6 L1093.2,878.5 L1093.5,878.0 L1093.8,878.3 L1094.0,878.7 L1094.2,878.6 L1094.5,878.7 L1094.8,876.9 L1095.0,877.7 L1095.2,876.7 L1095.5,875.4 L1095.8,874.1 L1096.0,869.7 L1096.2,866.6 L1096.5,859.8 L1096.8,849.6 L1097.0,849.3 L1097.2,858.2 L1097.5,864.5 L1097.8,870.5 L1098.0,873.6 L1098.2,874.7 L1098.5,875.4 L1098.8,876.5 L1099.0,878.4 L1099.2,878.1 L1099.5,878.2 L1099.8,878.8 L1100.0,880.0 L1100.2,878.8 L1100.5,878.5 L1100.8,880.4 L1101.0,879.3 L1101.2,879.5 L1101.5,880.7 L1101.8,879.4 L1102.0,879.0 L1102.2,880.6 L1102.5,879.4 L1102.8,879.3 L1103.0,880.7 L1103.2,879.3 L1103.5,880.6 L1103.8,879.4 L1104.0,879.3 L1104.2,879.0 L1104.5,879.5 L1104.8,879.4 L1105.0,878.9 L1105.2,878.9 L1105.5,878.1 L1105.8,878.8 L1106.0,878.4 L1106.2,877.3 L1106.5,876.3 L1106.8,873.1 L1107.0,870.9 L1107.2,866.7 L1107.5,860.1 L1107.8,853.5 L1108.0,852.2 L1108.2,859.9 L1108.5,866.3 L1108.8,869.9 L1109.0,873.3 L1109.2,874.4 L1109.5,877.3 L1109.8,876.8 L1110.0,877.4 L1110.2,879.1 L1110.5,877.9 L1110.8,879.6 L1111.0,878.5 L1111.2,879.4 L1111.5,878.3 L1111.8,879.9 L1112.0,878.9 L1112.2,878.8 L1112.5,879.4 L1112.8,879.2 L1113.0,878.4 L1113.2,878.1 L1113.5,878.8 L1113.8,877.5 L1114.0,879.0 L1114.2,877.7 L1114.5,877.0 L1114.8,876.9 L1115.0,876.0 L1115.2,875.7 L1115.5,875.4 L1115.8,874.1 L1116.0,872.6 L1116.2,870.7 L1116.5,868.6 L1116.8,865.7 L1117.0,859.9 L1117.2,852.6 L1117.5,839.8 L1117.8,824.2 L1118.0,822.2 L1118.2,837.5 L1118.5,850.0 L1118.8,858.5 L1119.0,864.3 L1119.2,868.7 L1119.5,870.4 L1119.8,872.2 L1120.0,873.6 L1120.2,873.9 L1120.5,875.8 L1120.8,876.2 L1121.0,876.7 L1121.2,876.9 L1121.5,877.1 L1121.8,877.7 L1122.0,876.6 L1122.2,877.9 L1122.5,875.8 L1122.8,876.4 L1123.0,873.7 L1123.2,872.5 L1123.5,867.4 L1123.8,861.8 L1124.0,861.8 L1124.2,867.0 L1124.5,870.9 L1124.8,873.0 L1125.0,874.5 L1125.2,873.7 L1125.5,875.4 L1125.8,875.8 L1126.0,877.9 L1126.2,877.9 L1126.5,879.0 L1126.8,879.5 L1127.0,880.1 L1127.2,879.7 L1127.5,880.3 L1127.8,879.7 L1128.0,878.9 L1128.2,880.5 L1128.5,879.0 L1128.8,879.0 L1129.0,880.4 L1129.2,879.3 L1129.5,879.9 L1129.8,878.4 L1130.0,878.5 L1130.2,879.0 L1130.5,876.9 L1130.8,876.6 L1131.0,875.2 L1131.2,870.1 L1131.5,867.0 L1131.8,867.7 L1132.0,871.8 L1132.2,875.5 L1132.5,877.4 L1132.8,877.2 L1133.0,878.3 L1133.2,879.5 L1133.5,880.7 L1133.8,879.4 L1134.0,880.4 L1134.2,879.6 L1134.5,881.1 L1134.8,880.4 L1135.0,880.6 L1135.2,881.0 L1135.5,880.0 L1135.8,881.2 L1136.0,881.4 L1136.2,881.5 L1136.5,880.4 L1136.8,880.3 L1137.0,880.2 L1137.2,881.7 L1137.5,880.8 L1137.8,880.7 L1138.0,881.0 L1138.2,881.3 L1138.5,880.6 L1138.8,880.6 L1139.0,881.5 L1139.2,881.5 L1139.5,880.6 L1139.8,880.1 L1140.0,881.9 L1140.2,881.5 L1140.5,881.2 L1140.8,880.8 L1141.0,881.9 L1141.2,880.9 L1141.5,880.5 L1141.8,880.2 L1142.0,880.7 L1142.2,881.2 L1142.5,880.7 L1142.8,881.9 L1143.0,881.3 L1143.2,880.9 L1143.5,881.3 L1143.8,881.2 L1144.0,881.2 L1144.2,880.9 L1144.5,881.0 L1144.8,880.9 L1145.0,881.5 L1145.2,880.2 L1145.5,881.3 L1145.8,880.2 L1146.0,881.2 L1146.2,879.4 L1146.5,879.9 L1146.8,879.4 L1147.0,879.3 L1147.2,877.0 L1147.5,875.1 L1147.8,871.5 L1148.0,870.1 L1148.2,872.4 L1148.5,874.6 L1148.8,877.0 L1149.0,878.3 L1149.2,880.5 L1149.5,879.9 L1149.8,880.4 L1150.0,880.1 L1150.2,881.0 L1150.5,881.4 L1150.8,881.2 L1151.0,879.9 L1151.2,880.8 L1151.5,880.9 L1151.8,880.1 L1152.0,881.6 L1152.2,880.7 L1152.5,880.7 L1152.8,881.3 L1153.0,881.3 L1153.2,881.1 L1153.5,881.8 L1153.8,881.2 L1154.0,880.8 L1154.2,880.3 L1154.5,881.3 L1154.8,880.9 L1155.0,881.2 L1155.2,880.9 L1155.5,880.2 L1155.8,880.3 L1156.0,880.5 L1156.2,880.4 L1156.5,881.9 L1156.8,881.3 L1157.0,880.7 L1157.2,881.6 L1157.5,881.5 L1157.8,880.3 L1158.0,881.7 L1158.2,880.7 L1158.5,882.2 L1158.8,880.5 L1159.0,880.8 L1159.2,880.7 L1159.5,881.9 L1159.8,881.8 L1160.0,881.4 L1160.2,880.5 L1160.5,881.1 L1160.8,881.6 L1161.0,880.3 L1161.2,882.0 L1161.5,881.9 L1161.8,882.0 L1162.0,881.6 L1162.2,881.4 L1162.5,882.1 L1162.8,880.7 L1163.0,880.8 L1163.2,880.4 L1163.5,880.5 L1163.8,881.7 L1164.0,880.3 L1164.2,881.6 L1164.5,880.9 L1164.8,881.9 L1165.0,881.6 L1165.2,881.4 L1165.5,881.7 L1165.8,880.1 L1166.0,880.5 L1166.2,880.7 L1166.5,880.8 L1166.8,881.3 L1167.0,881.6 L1167.2,881.3 L1167.5,881.6 L1167.8,881.1 L1168.0,880.3 L1168.2,880.5 L1168.5,880.8 L1168.8,880.7 L1169.0,879.5 L1169.2,879.1 L1169.5,879.0 L1169.8,877.3 L1170.0,877.2 L1170.2,873.0 L1170.5,870.3 L1170.8,864.9 L1171.0,863.5 L1171.2,869.1 L1171.5,873.3 L1171.8,876.9 L1172.0,878.4 L1172.2,878.8 L1172.5,880.0 L1172.8,880.4 L1173.0,879.3 L1173.2,880.8 L1173.5,881.0 L1173.8,881.5 L1174.0,881.1 L1174.2,880.4 L1174.5,880.1 L1174.8,881.1 L1175.0,880.2 L1175.2,881.3 L1175.5,881.0 L1175.8,881.5 L1176.0,880.6 L1176.2,880.5 L1176.5,881.7 L1176.8,881.2 L1177.0,880.6 L1177.2,881.0 L1177.5,880.7 L1177.8,881.1 L1178.0,880.9 L1178.2,880.4 L1178.5,881.7 L1178.8,881.5 L1179.0,881.2 L1179.2,880.3 L1179.5,880.1 L1179.8,881.1 L1180.0,881.2 L1180.2,880.8 L1180.5,879.9 L1180.8,880.9 L1181.0,880.4 L1181.2,880.0 L1181.5,880.4 L1181.8,880.0 L1182.0,880.3 L1182.2,880.3 L1182.5,880.6 L1182.8,878.7 L1183.0,879.4 L1183.2,879.9 L1183.5,879.0 L1183.8,878.5 L1184.0,878.6 L1184.2,876.4 L1184.5,877.2 L1184.8,875.9 L1185.0,874.7 L1185.2,872.6 L1185.5,871.0 L1185.8,866.9 L1186.0,863.2 L1186.2,855.6 L1186.5,846.0 L1186.8,832.5 L1187.0,829.9 L1187.2,843.0 L1187.5,854.0 L1187.8,862.0 L1188.0,866.2 L1188.2,870.9 L1188.5,873.0 L1188.8,874.7 L1189.0,874.5 L1189.2,876.9 L1189.5,876.0 L1189.8,877.7 L1190.0,878.0 L1190.2,877.5 L1190.5,878.4 L1190.8,879.6 L1191.0,879.2 L1191.2,878.7 L1191.5,879.8 L1191.8,878.9 L1192.0,880.0 L1192.2,879.0 L1192.5,878.3 L1192.8,880.0 L1193.0,878.0 L1193.2,878.1 L1193.5,878.8 L1193.8,877.0 L1194.0,877.2 L1194.2,876.9 L1194.5,875.1 L1194.8,872.7 L1195.0,870.6 L1195.2,866.0 L1195.5,858.1 L1195.8,849.0 L1196.0,847.1 L1196.2,855.9 L1196.5,865.1 L1196.8,870.3 L1197.0,871.6 L1197.2,874.2 L1197.5,875.7 L1197.8,877.8 L1198.0,877.4 L1198.2,877.9 L1198.5,879.5 L1198.8,878.7 L1199.0,880.5 L1199.2,879.7 L1199.5,880.8 L1199.8,880.8 L1200.0,879.7 L1200.2,880.9 L1200.5,880.3 L1200.8,879.9 L1201.0,879.6 L1201.2,881.0 L1201.5,880.7 L1201.8,880.2 L1202.0,881.3 L1202.2,880.0 L1202.5,880.4 L1202.8,879.6 L1203.0,879.9 L1203.2,880.6 L1203.5,879.1 L1203.8,877.0 L1204.0,875.5 L1204.2,876.6 L1204.5,877.6 L1204.8,880.1 L1205.0,879.1 L1205.2,881.1 L1205.5,880.9 L1205.8,881.4 L1206.0,880.6 L1206.2,880.1 L1206.5,880.4 L1206.8,881.3 L1207.0,880.1 L1207.2,880.3 L1207.5,881.7 L1207.8,881.9 L1208.0,881.9 L1208.2,881.8 L1208.5,881.3 L1208.8,881.9 L1209.0,881.5 L1209.2,881.3 L1209.5,881.0 L1209.8,880.1 L1210.0,880.2 L1210.2,880.5 L1210.5,880.8 L1210.8,880.0 L1211.0,881.5 L1211.2,880.4 L1211.5,880.2 L1211.8,879.4 L1212.0,876.3 L1212.2,875.8 L1212.5,876.9 L1212.8,877.6 L1213.0,878.6 L1213.2,880.7 L1213.5,881.3 L1213.8,881.3 L1214.0,880.7 L1214.2,881.2 L1214.5,880.3 L1214.8,880.6 L1215.0,881.0 L1215.2,881.7 L1215.5,880.4 L1215.8,882.1 L1216.0,880.4 L1216.2,882.2 L1216.5,880.8 L1216.8,882.0 L1217.0,882.0 L1217.2,882.3 L1217.5,881.3 L1217.8,881.8 L1218.0,880.9 L1218.2,882.0 L1218.5,880.6 L1218.8,882.1 L1219.0,881.6 L1219.2,880.5 L1219.5,882.3 L1219.8,881.0 L1220.0,880.5 L1220.2,880.9 L1220.5,880.4 L1220.8,880.9 L1221.0,881.8 L1221.2,882.3 L1221.5,881.6 L1221.8,882.1 L1222.0,882.0 L1222.2,881.8 L1222.5,881.1 L1222.8,880.8 L1223.0,880.6 L1223.2,881.4 L1223.5,880.7 L1223.8,881.7 L1224.0,880.8 L1224.2,881.3 L1224.5,881.1 L1224.8,881.2 L1225.0,880.1 L1225.2,880.0 L1225.5,880.3 L1225.8,878.3 L1226.0,877.7 L1226.2,877.6 L1226.5,877.8 L1226.8,880.3 L1227.0,880.3 L1227.2,881.4 L1227.5,880.8 L1227.8,881.4 L1228.0,881.3 L1228.2,880.4 L1228.5,881.1 L1228.8,881.2 L1229.0,881.0 L1229.2,881.4 L1229.5,881.9 L1229.8,881.7 L1230.0,881.7 L1230.2,880.3 L1230.5,881.4 L1230.8,881.2 L1231.0,881.8 L1231.2,879.9 L1231.5,880.2 L1231.8,881.8 L1232.0,880.5 L1232.2,881.1 L1232.5,880.8 L1232.8,880.3 L1233.0,880.3 L1233.2,880.4 L1233.5,881.1 L1233.8,880.1 L1234.0,880.4 L1234.2,879.2 L1234.5,879.7 L1234.8,879.1 L1235.0,878.8 L1235.2,878.5 L1235.5,876.0 L1235.8,876.6 L1236.0,874.2 L1236.2,871.1 L1236.5,867.7 L1236.8,861.1 L1237.0,852.4 L1237.2,845.7 L1237.5,849.4 L1237.8,859.3 L1238.0,864.9 L1238.2,869.1 L1238.5,872.3 L1238.8,874.2 L1239.0,875.5 L1239.2,875.1 L1239.5,875.9 L1239.8,874.9 L1240.0,872.9 L1240.2,871.1 L1240.5,864.8 L1240.8,859.7 L1241.0,858.0 L1241.2,863.7 L1241.5,870.1 L1241.8,873.7 L1242.0,876.0 L1242.2,876.9 L1242.5,878.9 L1242.8,879.2 L1243.0,878.4 L1243.2,878.4 L1243.5,880.6 L1243.8,879.7 L1244.0,879.2 L1244.2,879.5 L1244.5,880.6 L1244.8,879.6 L1245.0,880.1 L1245.2,880.7 L1245.5,880.0 L1245.8,880.6 L1246.0,881.2 L1246.2,880.8 L1246.5,880.4 L1246.8,880.3 L1247.0,879.5 L1247.2,880.0 L1247.5,879.7 L1247.8,879.3 L1248.0,878.7 L1248.2,878.6 L1248.5,876.8 L1248.8,876.9 L1249.0,876.2 L1249.2,872.8 L1249.5,871.7 L1249.8,872.1 L1250.0,870.2 L1250.2,872.6 L1250.5,873.6 L1250.8,874.1 L1251.0,876.5 L1251.2,876.3 L1251.5,878.8 L1251.8,878.3 L1252.0,880.0 L1252.2,880.3 L1252.5,879.1 L1252.8,879.8 L1253.0,879.5 L1253.2,880.8 L1253.5,879.6 L1253.8,879.7 L1254.0,879.8 L1254.2,881.4 L1254.5,880.2 L1254.8,880.3 L1255.0,880.6 L1255.2,880.8 L1255.5,880.5 L1255.8,881.5 L1256.0,880.2 L1256.2,880.4 L1256.5,881.0 L1256.8,879.6 L1257.0,879.1 L1257.2,880.0 L1257.5,878.4 L1257.8,878.6 L1258.0,876.9 L1258.2,873.4 L1258.5,869.2 L1258.8,863.4 L1259.0,864.1 L1259.2,868.3 L1259.5,872.7 L1259.8,875.2 L1260.0,877.1 L1260.2,879.4 L1260.5,878.6 L1260.8,880.0 L1261.0,880.5 L1261.2,880.5 L1261.5,880.7 L1261.8,880.6 L1262.0,880.3 L1262.2,881.7 L1262.5,881.9 L1262.8,881.3 L1263.0,880.7 L1263.2,882.1 L1263.5,880.7 L1263.8,880.7 L1264.0,881.6 L1264.2,882.1 L1264.5,881.6 L1264.8,880.7 L1265.0,882.4 L1265.2,880.8 L1265.5,881.2 L1265.8,882.5 L1266.0,882.1 L1266.2,882.0 L1266.5,880.7 L1266.8,882.3 L1267.0,881.4 L1267.2,880.6 L1267.5,882.2 L1267.8,882.4 L1268.0,880.7 L1268.2,881.5 L1268.5,882.4 L1268.8,881.3 L1269.0,881.2 L1269.2,882.2 L1269.5,881.5 L1269.8,882.6 L1270.0,882.4 L1270.2,882.4 L1270.5,882.1 L1270.8,881.0 L1271.0,882.0 L1271.2,881.8 L1271.5,881.6 L1271.8,881.8 L1272.0,881.3 L1272.2,881.1 L1272.5,882.5 L1272.8,881.4 L1273.0,880.9 L1273.2,882.6 L1273.5,881.7 L1273.8,882.0 L1274.0,881.4 L1274.2,881.0 L1274.5,881.4 L1274.8,882.4 L1275.0,881.3" fill="none" stroke="#4048b0" stroke-width="2.2" stroke-linejoin="round" opacity="0.75"/>
<path d="M721.0,879.1 L721.2,879.7 L721.5,879.4 L721.8,879.8 L722.0,879.9 L722.2,878.8 L722.5,878.7 L722.8,880.3 L723.0,879.1 L723.2,879.1 L723.5,880.6 L723.8,879.5 L724.0,880.3 L724.2,879.5 L724.5,879.9 L724.8,878.9 L725.0,879.8 L725.2,880.3 L725.5,879.6 L725.8,880.0 L726.0,879.9 L726.2,878.7 L726.5,880.0 L726.8,879.7 L727.0,879.1 L727.2,878.5 L727.5,880.2 L727.8,879.4 L728.0,879.9 L728.2,880.2 L728.5,879.9 L728.8,880.3 L729.0,879.2 L729.2,880.0 L729.5,879.3 L729.8,880.2 L730.0,880.1 L730.2,878.5 L730.5,878.6 L730.8,878.7 L731.0,880.2 L731.2,879.1 L731.5,879.5 L731.8,878.8 L732.0,879.2 L732.2,879.0 L732.5,878.9 L732.8,879.3 L733.0,879.3 L733.2,879.9 L733.5,879.5 L733.8,879.9 L734.0,879.8 L734.2,880.0 L734.5,879.3 L734.8,878.3 L735.0,879.6 L735.2,879.8 L735.5,879.7 L735.8,879.0 L736.0,879.2 L736.2,878.2 L736.5,879.4 L736.8,878.8 L737.0,878.2 L737.2,877.7 L737.5,879.2 L737.8,879.4 L738.0,877.6 L738.2,878.9 L738.5,878.1 L738.8,877.5 L739.0,877.7 L739.2,878.6 L739.5,878.7 L739.8,876.9 L740.0,878.0 L740.2,876.7 L740.5,878.0 L740.8,877.1 L741.0,878.1 L741.2,878.1 L741.5,877.0 L741.8,877.8 L742.0,876.3 L742.2,875.6 L742.5,876.4 L742.8,875.1 L743.0,875.1 L743.2,875.3 L743.5,875.3 L743.8,874.1 L744.0,873.4 L744.2,874.6 L744.5,873.0 L744.8,873.7 L745.0,872.9 L745.2,871.0 L745.5,870.3 L745.8,869.2 L746.0,868.1 L746.2,866.4 L746.5,864.2 L746.8,861.7 L747.0,858.9 L747.2,853.2 L747.5,846.3 L747.8,836.5 L748.0,818.1 L748.2,783.8 L748.5,700.8 L748.7,605.6 L748.8,616.1 L749.0,742.6 L749.2,800.8 L749.5,826.5 L749.8,838.9 L750.0,848.3 L750.2,853.5 L750.5,855.8 L750.8,859.2 L751.0,860.2 L751.2,861.3 L751.5,860.7 L751.8,861.0 L752.0,860.1 L752.2,857.1 L752.5,854.9 L752.8,852.9 L753.0,849.1 L753.2,841.5 L753.5,832.9 L753.8,819.4 L754.0,795.5 L754.2,749.7 L754.5,637.4 L754.7,512.4 L754.8,526.7 L755.0,695.7 L755.2,772.5 L755.5,807.6 L755.8,825.0 L756.0,837.8 L756.2,846.1 L756.5,851.0 L756.8,855.2 L757.0,859.7 L757.2,861.2 L757.5,863.3 L757.8,865.5 L758.0,867.6 L758.2,867.6 L758.5,869.1 L758.8,870.1 L759.0,871.9 L759.2,871.8 L759.5,873.3 L759.8,872.5 L760.0,873.3 L760.2,874.4 L760.5,875.2 L760.8,874.7 L761.0,874.6 L761.2,874.7 L761.5,875.8 L761.8,875.4 L762.0,876.8 L762.2,877.1 L762.5,876.0 L762.8,876.3 L763.0,877.6 L763.2,877.4 L763.5,877.9 L763.8,877.1 L764.0,876.8 L764.2,877.2 L764.5,878.3 L764.8,877.4 L765.0,877.6 L765.2,877.8 L765.5,877.9 L765.8,878.0 L766.0,879.1 L766.2,877.6 L766.5,877.4 L766.8,879.3 L767.0,879.3 L767.2,879.5 L767.5,878.5 L767.8,879.6 L768.0,879.6 L768.2,878.2 L768.5,879.3 L768.8,879.5 L769.0,879.2 L769.2,879.0 L769.5,878.5 L769.8,878.7 L770.0,878.5 L770.2,878.2 L770.5,879.3 L770.8,878.7 L771.0,879.8 L771.2,878.3 L771.5,880.0 L771.8,879.6 L772.0,880.1 L772.2,880.1 L772.5,880.1 L772.8,879.5 L773.0,878.4 L773.2,879.8 L773.5,878.7 L773.8,879.0 L774.0,879.7 L774.2,879.5 L774.5,879.3 L774.8,880.3 L775.0,879.7 L775.2,879.2 L775.5,879.0 L775.8,880.2 L776.0,879.5 L776.2,880.1 L776.5,879.3 L776.8,879.0 L777.0,879.7 L777.2,880.2 L777.5,878.9 L777.8,880.2 L778.0,880.5 L778.2,880.2 L778.5,880.3 L778.8,878.7 L779.0,879.9 L779.2,880.4 L779.5,878.8 L779.8,879.2 L780.0,879.2 L780.2,879.8 L780.5,879.6 L780.8,879.7 L781.0,880.3 L781.2,878.7 L781.5,878.9 L781.8,879.0 L782.0,879.0 L782.2,878.9 L782.5,880.7 L782.8,880.5 L783.0,879.0 L783.2,879.8 L783.5,879.4 L783.8,879.4 L784.0,879.5 L784.2,880.1 L784.5,880.0 L784.8,879.5 L785.0,879.2 L785.2,879.5 L785.5,879.1 L785.8,880.0 L786.0,880.3 L786.2,879.6 L786.5,879.0 L786.8,879.2 L787.0,879.6 L787.2,880.1 L787.5,880.4 L787.8,879.6 L788.0,880.5 L788.2,880.1 L788.5,879.7 L788.8,879.6 L789.0,879.9 L789.2,880.3 L789.5,879.7 L789.8,880.3 L790.0,879.8 L790.2,879.4 L790.5,880.0 L790.8,880.3 L791.0,879.0 L791.2,879.7 L791.5,879.7 L791.8,880.6 L792.0,880.7 L792.2,879.6 L792.5,880.7 L792.8,880.4 L793.0,879.4 L793.2,879.8 L793.5,879.1 L793.8,880.5 L794.0,880.2 L794.2,880.6 L794.5,880.4 L794.8,880.1 L795.0,880.3 L795.2,879.9 L795.5,879.0 L795.8,879.9 L796.0,878.7 L796.2,879.0 L796.5,880.2 L796.8,878.7 L797.0,878.7 L797.2,878.7 L797.5,880.2 L797.8,878.7 L798.0,878.2 L798.2,879.7 L798.5,878.1 L798.8,879.3 L799.0,878.7 L799.2,878.6 L799.5,878.2 L799.8,876.5 L800.0,875.6 L800.2,871.9 L800.5,869.8 L800.8,863.6 L801.0,857.8 L801.2,857.5 L801.5,865.4 L801.8,871.0 L802.0,872.5 L802.2,875.0 L802.5,876.7 L802.8,878.0 L803.0,877.4 L803.2,877.6 L803.5,878.0 L803.8,878.9 L804.0,879.2 L804.2,878.3 L804.5,877.8 L804.8,877.0 L805.0,876.3 L805.2,877.2 L805.5,877.5 L805.8,878.9 L806.0,880.2 L806.2,879.3 L806.5,880.1 L806.8,879.0 L807.0,880.1 L807.2,880.3 L807.5,880.2 L807.8,879.9 L808.0,879.8 L808.2,880.2 L808.5,880.7 L808.8,879.2 L809.0,879.1 L809.2,880.5 L809.5,880.8 L809.8,880.0 L810.0,879.9 L810.2,880.4 L810.5,879.4 L810.8,879.6 L811.0,879.4 L811.2,880.2 L811.5,879.7 L811.8,879.5 L812.0,880.4 L812.2,881.0 L812.5,879.7 L812.8,880.5 L813.0,879.9 L813.2,880.8 L813.5,880.3 L813.8,879.6 L814.0,879.5 L814.2,879.1 L814.5,880.1 L814.8,879.9 L815.0,879.4 L815.2,879.8 L815.5,879.7 L815.8,880.7 L816.0,879.4 L816.2,881.1 L816.5,880.1 L816.8,880.3 L817.0,880.1 L817.2,880.8 L817.5,880.8 L817.8,880.2 L818.0,880.1 L818.2,880.6 L818.5,880.8 L818.8,879.9 L819.0,880.6 L819.2,881.1 L819.5,880.1 L819.8,879.6 L820.0,879.6 L820.2,880.6 L820.5,880.5 L820.8,881.1 L821.0,880.8 L821.2,879.6 L821.5,879.5 L821.8,879.7 L822.0,879.5 L822.2,880.6 L822.5,880.9 L822.8,880.9 L823.0,879.7 L823.2,880.9 L823.5,879.8 L823.8,880.0 L824.0,880.6 L824.2,879.3 L824.5,879.3 L824.8,880.8 L825.0,879.7 L825.2,879.9 L825.5,880.3 L825.8,880.5 L826.0,879.2 L826.2,879.8 L826.5,880.0 L826.8,880.1 L827.0,879.6 L827.2,880.3 L827.5,881.0 L827.8,879.9 L828.0,880.2 L828.2,879.4 L828.5,879.7 L828.8,880.5 L829.0,879.4 L829.2,880.9 L829.5,880.9 L829.8,879.3 L830.0,881.0 L830.2,879.9 L830.5,880.7 L830.8,880.6 L831.0,879.7 L831.2,880.5 L831.5,880.4 L831.8,880.7 L832.0,879.6 L832.2,880.6 L832.5,881.0 L832.8,880.4 L833.0,880.1 L833.2,879.3 L833.5,880.0 L833.8,879.8 L834.0,880.5 L834.2,880.4 L834.5,880.2 L834.8,879.4 L835.0,880.3 L835.2,880.2 L835.5,879.3 L835.8,880.7 L836.0,880.3 L836.2,879.2 L836.5,880.8 L836.8,879.2 L837.0,879.5 L837.2,880.3 L837.5,880.0 L837.8,879.9 L838.0,880.0 L838.2,879.6 L838.5,879.2 L838.8,878.9 L839.0,878.6 L839.2,879.8 L839.5,879.7 L839.8,879.2 L840.0,879.4 L840.2,878.4 L840.5,877.9 L840.8,877.7 L841.0,878.1 L841.2,875.6 L841.5,875.3 L841.8,872.9 L842.0,870.9 L842.2,865.1 L842.5,858.1 L842.8,855.3 L843.0,861.3 L843.2,868.1 L843.5,871.4 L843.8,874.8 L844.0,874.9 L844.2,876.2 L844.5,876.5 L844.8,876.9 L845.0,878.6 L845.2,878.7 L845.5,877.7 L845.8,877.8 L846.0,878.2 L846.2,878.9 L846.5,878.9 L846.8,878.7 L847.0,878.2 L847.2,877.1 L847.5,877.2 L847.8,876.4 L848.0,876.5 L848.2,875.8 L848.5,874.1 L848.8,872.7 L849.0,871.7 L849.2,867.0 L849.5,863.5 L849.8,855.8 L850.0,845.2 L850.2,839.6 L850.5,848.7 L850.8,858.8 L851.0,865.5 L851.2,870.3 L851.5,872.5 L851.8,873.5 L852.0,875.9 L852.2,876.1 L852.5,877.0 L852.8,877.8 L853.0,876.8 L853.2,878.6 L853.5,878.7 L853.8,878.6 L854.0,878.8 L854.2,878.8 L854.5,878.4 L854.8,879.2 L855.0,878.3 L855.2,879.3 L855.5,879.6 L855.8,879.2 L856.0,879.5 L856.2,880.3 L856.5,880.2 L856.8,878.7 L857.0,880.1 L857.2,879.7 L857.5,878.6 L857.8,879.2 L858.0,878.9 L858.2,878.6 L858.5,879.5 L858.8,880.2 L859.0,878.9 L859.2,880.0 L859.5,879.6 L859.8,878.3 L860.0,879.7 L860.2,879.0 L860.5,879.5 L860.8,878.9 L861.0,878.7 L861.2,877.6 L861.5,878.2 L861.8,877.9 L862.0,877.2 L862.2,875.5 L862.5,874.9 L862.8,872.7 L863.0,869.5 L863.2,865.6 L863.5,859.7 L863.8,850.7 L864.0,840.7 L864.2,842.9 L864.5,853.8 L864.8,862.0 L865.0,867.2 L865.2,871.2 L865.5,872.7 L865.8,874.6 L866.0,876.3 L866.2,876.4 L866.5,876.6 L866.8,878.5 L867.0,878.5 L867.2,878.1 L867.5,878.4 L867.8,878.9 L868.0,879.2 L868.2,878.6 L868.5,878.3 L868.8,878.8 L869.0,880.0 L869.2,878.8 L869.5,879.5 L869.8,879.0 L870.0,879.1 L870.2,879.1 L870.5,879.6 L870.8,879.1 L871.0,878.9 L871.2,879.1 L871.5,879.2 L871.8,879.9 L872.0,879.0 L872.2,879.0 L872.5,879.8 L872.8,879.7 L873.0,880.3 L873.2,879.1 L873.5,879.8 L873.8,879.8 L874.0,879.0 L874.2,880.9 L874.5,879.4 L874.8,879.1 L875.0,879.9 L875.2,879.3 L875.5,880.2 L875.8,879.6 L876.0,879.2 L876.2,879.0 L876.5,880.3 L876.8,879.4 L877.0,880.4 L877.2,879.7 L877.5,880.6 L877.8,879.2 L878.0,879.1 L878.2,879.0 L878.5,879.9 L878.8,879.4 L879.0,878.6 L879.2,877.7 L879.5,878.4 L879.8,878.2 L880.0,876.3 L880.2,873.2 L880.5,869.9 L880.8,865.0 L881.0,861.7 L881.2,864.9 L881.5,869.9 L881.8,874.4 L882.0,876.9 L882.2,876.7 L882.5,879.0 L882.8,878.5 L883.0,879.5 L883.2,879.9 L883.5,880.1 L883.8,878.5 L884.0,879.1 L884.2,879.8 L884.5,880.5 L884.8,878.8 L885.0,879.3 L885.2,880.4 L885.5,879.0 L885.8,879.5 L886.0,879.4 L886.2,880.1 L886.5,880.6 L886.8,879.1 L887.0,880.2 L887.2,880.1 L887.5,880.3 L887.8,879.7 L888.0,880.4 L888.2,879.2 L888.5,879.3 L888.8,878.8 L889.0,879.8 L889.2,879.1 L889.5,878.5 L889.8,878.1 L890.0,879.0 L890.2,878.4 L890.5,878.2 L890.8,877.0 L891.0,876.5 L891.2,874.7 L891.5,874.3 L891.8,870.5 L892.0,867.6 L892.2,862.0 L892.5,853.4 L892.8,848.8 L893.0,856.0 L893.2,865.0 L893.5,869.7 L893.8,873.3 L894.0,875.3 L894.2,875.8 L894.5,877.6 L894.8,877.9 L895.0,877.6 L895.2,878.0 L895.5,877.7 L895.8,878.6 L896.0,879.8 L896.2,878.3 L896.5,879.3 L896.8,878.5 L897.0,878.5 L897.2,879.7 L897.5,878.9 L897.8,878.6 L898.0,878.8 L898.2,879.8 L898.5,879.7 L898.8,878.6 L899.0,879.0 L899.2,880.5 L899.5,879.0 L899.8,879.6 L900.0,879.3 L900.2,880.0 L900.5,879.7 L900.8,880.0 L901.0,879.5 L901.2,878.7 L901.5,878.7 L901.8,878.4 L902.0,879.9 L902.2,878.4 L902.5,878.2 L902.8,880.0 L903.0,878.4 L903.2,879.7 L903.5,877.9 L903.8,878.6 L904.0,878.0 L904.2,879.0 L904.5,878.4 L904.8,878.3 L905.0,878.3 L905.2,878.3 L905.5,877.0 L905.8,877.1 L906.0,876.4 L906.2,875.3 L906.5,876.2 L906.8,875.1 L907.0,874.7 L907.2,872.5 L907.5,871.9 L907.8,870.2 L908.0,868.7 L908.2,864.6 L908.5,861.4 L908.8,856.3 L909.0,847.5 L909.2,836.1 L909.5,818.3 L909.8,801.9 L910.0,810.3 L910.2,829.6 L910.5,843.5 L910.8,853.2 L911.0,860.8 L911.2,863.8 L911.5,867.1 L911.8,868.7 L912.0,870.7 L912.2,871.9 L912.5,874.5 L912.8,875.0 L913.0,876.0 L913.2,876.8 L913.5,876.6 L913.8,877.6 L914.0,877.2 L914.2,877.3 L914.5,878.6 L914.8,878.7 L915.0,879.0 L915.2,878.2 L915.5,879.0 L915.8,878.4 L916.0,879.7 L916.2,879.6 L916.5,878.5 L916.8,879.8 L917.0,878.4 L917.2,878.3 L917.5,879.6 L917.8,878.8 L918.0,879.3 L918.2,879.6 L918.5,878.4 L918.8,879.8 L919.0,878.9 L919.2,879.3 L919.5,879.1 L919.8,879.9 L920.0,879.9 L920.2,879.0 L920.5,878.7 L920.8,879.0 L921.0,879.3 L921.2,878.6 L921.5,878.7 L921.8,879.9 L922.0,879.8 L922.2,880.3 L922.5,880.3 L922.8,880.0 L923.0,879.0 L923.2,878.5 L923.5,878.7 L923.8,878.9 L924.0,878.9 L924.2,878.8 L924.5,878.2 L924.8,879.0 L925.0,877.6 L925.2,877.5 L925.5,877.9 L925.8,877.0 L926.0,874.9 L926.2,873.3 L926.5,872.0 L926.8,866.5 L927.0,860.5 L927.2,853.5 L927.5,852.4 L927.8,859.0 L928.0,865.5 L928.2,870.1 L928.5,873.8 L928.8,874.8 L929.0,876.9 L929.2,877.3 L929.5,878.2 L929.8,876.6 L930.0,877.2 L930.2,877.0 L930.5,878.0 L930.8,877.9 L931.0,877.4 L931.2,878.4 L931.5,877.5 L931.8,877.9 L932.0,877.8 L932.2,878.8 L932.5,878.0 L932.8,877.6 L933.0,877.1 L933.2,877.7 L933.5,878.0 L933.8,877.9 L934.0,878.2 L934.2,877.8 L934.5,876.5 L934.8,876.0 L935.0,876.9 L935.2,876.6 L935.5,875.6 L935.8,875.8 L936.0,874.7 L936.2,873.5 L936.5,872.5 L936.8,871.2 L937.0,871.3 L937.2,870.4 L937.5,868.7 L937.8,865.6 L938.0,863.1 L938.2,859.7 L938.5,854.1 L938.8,845.9 L939.0,833.9 L939.2,816.1 L939.5,791.6 L939.8,781.8 L940.0,802.2 L940.2,825.1 L940.5,839.3 L940.8,848.9 L941.0,855.4 L941.2,860.3 L941.5,864.3 L941.8,866.1 L942.0,869.1 L942.2,868.9 L942.5,870.4 L942.8,871.7 L943.0,872.2 L943.2,873.6 L943.5,873.9 L943.8,874.4 L944.0,873.8 L944.2,872.6 L944.5,873.5 L944.8,873.1 L945.0,872.4 L945.2,871.1 L945.5,870.8 L945.8,869.5 L946.0,865.5 L946.2,863.1 L946.5,857.1 L946.8,849.1 L947.0,836.9 L947.2,821.3 L947.5,818.4 L947.8,832.4 L948.0,847.9 L948.2,855.6 L948.5,862.0 L948.8,866.8 L949.0,868.6 L949.2,870.5 L949.5,873.4 L949.8,874.6 L950.0,874.2 L950.2,875.1 L950.5,875.5 L950.8,875.7 L951.0,876.3 L951.2,878.1 L951.5,876.6 L951.8,877.1 L952.0,877.3 L952.2,877.2 L952.5,878.3 L952.8,878.8 L953.0,879.1 L953.2,878.8 L953.5,879.2 L953.8,877.7 L954.0,878.3 L954.2,879.6 L954.5,877.9 L954.8,878.2 L955.0,878.6 L955.2,878.1 L955.5,878.5 L955.8,877.3 L956.0,877.3 L956.2,878.3 L956.5,875.9 L956.8,876.1 L957.0,872.5 L957.2,870.5 L957.5,864.6 L957.8,862.4 L958.0,865.7 L958.2,870.4 L958.5,874.8 L958.8,875.4 L959.0,876.5 L959.2,878.5 L959.5,879.0 L959.8,877.7 L960.0,879.8 L960.2,879.1 L960.5,878.9 L960.8,878.5 L961.0,879.1 L961.2,880.4 L961.5,879.0 L961.8,878.7 L962.0,878.8 L962.2,878.8 L962.5,879.2 L962.8,880.4 L963.0,878.7 L963.2,878.9 L963.5,880.3 L963.8,880.4 L964.0,880.3 L964.2,878.8 L964.5,879.0 L964.8,880.1 L965.0,879.0 L965.2,879.3 L965.5,878.4 L965.8,877.6 L966.0,878.0 L966.2,878.5 L966.5,878.2 L966.8,877.3 L967.0,876.4 L967.2,875.8 L967.5,874.5 L967.8,873.3 L968.0,872.2 L968.2,869.0 L968.5,868.0 L968.8,867.7 L969.0,868.0 L969.2,868.2 L969.5,871.7 L969.8,873.3 L970.0,873.5 L970.2,874.9 L970.5,875.7 L970.8,876.1 L971.0,878.5 L971.2,877.8 L971.5,879.0 L971.8,877.8 L972.0,877.8 L972.2,879.7 L972.5,879.7 L972.8,880.2 L973.0,879.7 L973.2,879.5 L973.5,880.1 L973.8,878.8 L974.0,879.7 L974.2,879.6 L974.5,879.0 L974.8,880.0 L975.0,879.4 L975.2,879.8 L975.5,879.6 L975.8,879.5 L976.0,879.6 L976.2,880.1 L976.5,880.9 L976.8,880.8 L977.0,880.6 L977.2,880.6 L977.5,879.5 L977.8,880.9 L978.0,879.5 L978.2,879.2 L978.5,879.9 L978.8,880.4 L979.0,879.6 L979.2,880.2 L979.5,879.4 L979.8,880.8 L980.0,879.7 L980.2,879.8 L980.5,879.8 L980.8,880.5 L981.0,880.7 L981.2,879.8 L981.5,879.5 L981.8,879.9 L982.0,878.7 L982.2,879.4 L982.5,880.2 L982.8,880.0 L983.0,878.5 L983.2,880.0 L983.5,878.9 L983.8,880.0 L984.0,878.7 L984.2,878.3 L984.5,878.8 L984.8,879.3 L985.0,878.2 L985.2,878.8 L985.5,878.2 L985.8,877.2 L986.0,876.7 L986.2,876.6 L986.5,875.8 L986.8,875.0 L987.0,874.6 L987.2,873.7 L987.5,871.3 L987.8,867.8 L988.0,864.0 L988.2,858.2 L988.5,849.2 L988.8,836.6 L989.0,834.7 L989.2,846.0 L989.5,855.8 L989.8,861.4 L990.0,865.9 L990.2,868.5 L990.5,868.4 L990.8,868.5 L991.0,867.5 L991.2,865.2 L991.5,861.4 L991.8,854.2 L992.0,844.5 L992.2,828.7 L992.5,820.6 L992.8,829.3 L993.0,844.3 L993.2,855.6 L993.5,861.0 L993.8,865.2 L994.0,869.5 L994.2,871.2 L994.5,871.7 L994.8,872.8 L995.0,874.3 L995.2,874.3 L995.5,876.5 L995.8,875.6 L996.0,875.9 L996.2,876.2 L996.5,876.2 L996.8,875.3 L997.0,874.1 L997.2,871.9 L997.5,871.1 L997.8,872.9 L998.0,876.8 L998.2,877.4 L998.5,876.9 L998.8,878.0 L999.0,879.0 L999.2,879.6 L999.5,877.9 L999.8,877.9 L1000.0,879.0 L1000.2,878.9 L1000.5,879.9 L1000.8,879.9 L1001.0,878.9 L1001.2,879.1 L1001.5,879.5 L1001.8,880.1 L1002.0,878.7 L1002.2,879.1 L1002.5,878.5 L1002.8,879.6 L1003.0,878.3 L1003.2,880.1 L1003.5,879.3 L1003.8,879.4 L1004.0,878.4 L1004.2,878.6 L1004.5,879.0 L1004.8,879.8 L1005.0,879.1 L1005.2,878.5 L1005.5,879.8 L1005.8,879.1 L1006.0,878.7 L1006.2,878.0 L1006.5,878.1 L1006.8,879.1 L1007.0,877.5 L1007.2,878.1 L1007.5,878.1 L1007.8,877.3 L1008.0,877.9 L1008.2,877.9 L1008.5,877.4 L1008.8,876.8 L1009.0,875.3 L1009.2,874.5 L1009.5,874.6 L1009.8,873.6 L1010.0,872.4 L1010.2,872.6 L1010.5,869.8 L1010.8,869.2 L1011.0,867.0 L1011.2,862.1 L1011.5,859.2 L1011.8,851.6 L1012.0,841.3 L1012.2,826.0 L1012.5,805.4 L1012.8,797.9 L1013.0,814.2 L1013.2,834.1 L1013.5,846.9 L1013.8,853.6 L1014.0,859.7 L1014.2,863.4 L1014.5,865.6 L1014.8,867.5 L1015.0,868.7 L1015.2,870.2 L1015.5,869.6 L1015.8,868.6 L1016.0,867.4 L1016.2,865.1 L1016.5,860.5 L1016.8,851.9 L1017.0,843.9 L1017.2,844.4 L1017.5,854.9 L1017.8,862.6 L1018.0,866.6 L1018.2,870.8 L1018.5,872.1 L1018.8,873.7 L1019.0,874.8 L1019.2,875.6 L1019.5,875.7 L1019.8,875.3 L1020.0,877.0 L1020.2,877.4 L1020.5,876.7 L1020.8,877.0 L1021.0,876.4 L1021.2,877.6 L1021.5,877.0 L1021.8,875.9 L1022.0,876.9 L1022.2,876.9 L1022.5,875.2 L1022.8,875.9 L1023.0,874.1 L1023.2,872.5 L1023.5,872.2 L1023.8,869.6 L1024.0,867.8 L1024.2,863.6 L1024.5,856.9 L1024.8,848.6 L1025.0,835.7 L1025.2,823.0 L1025.5,829.1 L1025.8,844.3 L1026.0,854.4 L1026.2,861.4 L1026.5,866.1 L1026.8,869.7 L1027.0,870.6 L1027.2,871.9 L1027.5,874.4 L1027.8,874.9 L1028.0,875.0 L1028.2,876.7 L1028.5,877.1 L1028.8,876.8 L1029.0,877.9 L1029.2,877.8 L1029.5,877.7 L1029.8,876.9 L1030.0,876.4 L1030.2,877.8 L1030.5,877.9 L1030.8,877.1 L1031.0,877.3 L1031.2,877.3 L1031.5,876.6 L1031.8,877.3 L1032.0,876.8 L1032.2,876.1 L1032.5,875.2 L1032.8,875.7 L1033.0,874.7 L1033.2,874.9 L1033.5,873.0 L1033.8,872.4 L1034.0,870.8 L1034.2,869.6 L1034.5,867.8 L1034.8,863.9 L1035.0,859.7 L1035.2,854.6 L1035.5,845.0 L1035.8,831.5 L1036.0,812.2 L1036.2,804.4 L1036.5,820.5 L1036.8,838.6 L1037.0,850.3 L1037.2,857.2 L1037.5,862.0 L1037.8,864.8 L1038.0,867.7 L1038.2,869.6 L1038.5,872.2 L1038.8,871.5 L1039.0,873.8 L1039.2,873.3 L1039.5,873.5 L1039.8,873.2 L1040.0,874.4 L1040.2,872.5 L1040.5,872.5 L1040.8,871.3 L1041.0,868.9 L1041.2,866.3 L1041.5,863.8 L1041.8,856.9 L1042.0,846.5 L1042.2,834.2 L1042.5,830.8 L1042.8,844.0 L1043.0,855.3 L1043.2,861.5 L1043.5,866.6 L1043.8,870.7 L1044.0,871.6 L1044.2,874.0 L1044.5,873.9 L1044.8,875.8 L1045.0,875.7 L1045.2,876.7 L1045.5,876.8 L1045.8,878.2 L1046.0,878.2 L1046.2,878.0 L1046.5,878.5 L1046.8,878.2 L1047.0,879.1 L1047.2,878.1 L1047.5,878.8 L1047.8,878.9 L1048.0,878.6 L1048.2,878.0 L1048.5,878.3 L1048.8,879.3 L1049.0,878.4 L1049.2,879.6 L1049.5,879.1 L1049.8,880.0 L1050.0,879.8 L1050.2,879.5 L1050.5,878.8 L1050.8,878.1 L1051.0,879.1 L1051.2,879.5 L1051.5,879.8 L1051.8,878.3 L1052.0,878.2 L1052.2,879.7 L1052.5,879.2 L1052.8,878.6 L1053.0,879.0 L1053.2,877.7 L1053.5,878.4 L1053.8,878.5 L1054.0,878.2 L1054.2,877.2 L1054.5,876.9 L1054.8,877.7 L1055.0,878.0 L1055.2,876.2 L1055.5,875.6 L1055.8,875.4 L1056.0,876.4 L1056.2,875.2 L1056.5,874.8 L1056.8,875.2 L1057.0,873.7 L1057.2,872.1 L1057.5,871.9 L1057.8,869.2 L1058.0,868.1 L1058.2,866.9 L1058.5,863.3 L1058.8,859.7 L1059.0,856.2 L1059.2,849.6 L1059.5,841.8 L1059.8,826.4 L1060.0,806.9 L1060.2,780.9 L1060.5,778.2 L1060.8,801.1 L1061.0,824.0 L1061.2,838.3 L1061.5,847.9 L1061.8,855.0 L1062.0,860.5 L1062.2,863.1 L1062.5,865.6 L1062.8,868.1 L1063.0,869.1 L1063.2,870.9 L1063.5,872.6 L1063.8,873.5 L1064.0,874.4 L1064.2,874.4 L1064.5,874.5 L1064.8,875.0 L1065.0,876.0 L1065.2,876.1 L1065.5,877.2 L1065.8,876.9 L1066.0,878.2 L1066.2,878.1 L1066.5,878.4 L1066.8,878.7 L1067.0,878.5 L1067.2,878.4 L1067.5,878.4 L1067.8,878.0 L1068.0,879.6 L1068.2,879.1 L1068.5,878.4 L1068.8,880.1 L1069.0,879.5 L1069.2,879.7 L1069.5,879.4 L1069.8,878.8 L1070.0,880.6 L1070.2,879.0 L1070.5,879.5 L1070.8,880.8 L1071.0,879.1 L1071.2,879.9 L1071.5,879.9 L1071.8,879.4 L1072.0,880.8 L1072.2,879.8 L1072.5,879.1 L1072.8,880.0 L1073.0,879.1 L1073.2,880.5 L1073.5,880.9 L1073.8,880.9 L1074.0,879.2 L1074.2,880.5 L1074.5,879.8 L1074.8,880.1 L1075.0,879.8 L1075.2,879.8 L1075.5,879.5 L1075.8,880.4 L1076.0,879.3 L1076.2,881.1 L1076.5,879.2 L1076.8,881.0 L1077.0,879.4 L1077.2,879.0 L1077.5,880.1 L1077.8,879.2 L1078.0,878.8 L1078.2,877.0 L1078.5,877.0 L1078.8,877.2 L1079.0,879.3 L1079.2,879.5 L1079.5,880.7 L1079.8,878.9 L1080.0,879.1 L1080.2,880.4 L1080.5,880.9 L1080.8,879.9 L1081.0,880.5 L1081.2,880.2 L1081.5,879.9 L1081.8,880.0 L1082.0,880.2 L1082.2,879.0 L1082.5,879.6 L1082.8,880.4 L1083.0,879.3 L1083.2,879.7 L1083.5,879.2 L1083.8,879.3 L1084.0,879.8 L1084.2,879.8 L1084.5,880.1 L1084.8,879.0 L1085.0,878.2 L1085.2,878.3 L1085.5,877.4 L1085.8,877.4 L1086.0,877.6 L1086.2,877.1 L1086.5,875.6 L1086.8,874.5 L1087.0,873.0 L1087.2,871.3 L1087.5,869.4 L1087.8,865.1 L1088.0,860.4 L1088.2,850.5 L1088.5,837.6 L1088.8,832.7 L1089.0,842.0 L1089.2,855.0 L1089.5,862.8 L1089.8,867.0 L1090.0,870.9 L1090.2,872.2 L1090.5,873.7 L1090.8,874.9 L1091.0,875.6 L1091.2,877.1 L1091.5,877.7 L1091.8,878.2 L1092.0,877.3 L1092.2,878.8 L1092.5,878.4 L1092.8,878.3 L1093.0,878.6 L1093.2,878.5 L1093.5,878.0 L1093.8,878.3 L1094.0,878.7 L1094.2,878.6 L1094.5,878.7 L1094.8,876.9 L1095.0,877.7 L1095.2,876.7 L1095.5,875.4 L1095.8,874.1 L1096.0,869.7 L1096.2,866.6 L1096.5,859.8 L1096.8,849.6 L1097.0,849.3 L1097.2,858.2 L1097.5,864.5 L1097.8,870.5 L1098.0,873.6 L1098.2,874.7 L1098.5,875.4 L1098.8,876.5 L1099.0,878.4 L1099.2,878.1 L1099.5,878.2 L1099.8,878.8 L1100.0,880.0 L1100.2,878.8 L1100.5,878.5 L1100.8,880.4 L1101.0,879.3 L1101.2,879.5 L1101.5,880.7 L1101.8,879.4 L1102.0,879.0 L1102.2,880.6 L1102.5,879.4 L1102.8,879.3 L1103.0,880.7 L1103.2,879.3 L1103.5,880.6 L1103.8,879.4 L1104.0,879.3 L1104.2,879.0 L1104.5,879.5 L1104.8,879.4 L1105.0,878.9 L1105.2,878.9 L1105.5,878.1 L1105.8,878.8 L1106.0,878.4 L1106.2,877.3 L1106.5,876.3 L1106.8,873.1 L1107.0,870.9 L1107.2,866.7 L1107.5,860.1 L1107.8,853.5 L1108.0,852.2 L1108.2,859.9 L1108.5,866.3 L1108.8,869.9 L1109.0,873.3 L1109.2,874.4 L1109.5,877.3 L1109.8,876.8 L1110.0,877.4 L1110.2,879.1 L1110.5,877.9 L1110.8,879.6 L1111.0,878.5 L1111.2,879.4 L1111.5,878.3 L1111.8,879.9 L1112.0,878.9 L1112.2,878.8 L1112.5,879.4 L1112.8,879.2 L1113.0,878.4 L1113.2,878.1 L1113.5,878.8 L1113.8,877.5 L1114.0,879.0 L1114.2,877.7 L1114.5,877.0 L1114.8,876.9 L1115.0,876.0 L1115.2,875.7 L1115.5,875.4 L1115.8,874.1 L1116.0,872.6 L1116.2,870.7 L1116.5,868.6 L1116.8,865.7 L1117.0,859.9 L1117.2,852.6 L1117.5,839.8 L1117.8,824.2 L1118.0,822.2 L1118.2,837.5 L1118.5,850.0 L1118.8,858.5 L1119.0,864.3 L1119.2,868.7 L1119.5,870.4 L1119.8,872.2 L1120.0,873.6 L1120.2,873.9 L1120.5,875.8 L1120.8,876.2 L1121.0,876.7 L1121.2,876.9 L1121.5,877.1 L1121.8,877.7 L1122.0,876.6 L1122.2,877.9 L1122.5,875.8 L1122.8,876.4 L1123.0,873.7 L1123.2,872.5 L1123.5,867.4 L1123.8,861.8 L1124.0,861.8 L1124.2,867.0 L1124.5,870.9 L1124.8,873.0 L1125.0,874.5 L1125.2,873.7 L1125.5,875.4 L1125.8,875.8 L1126.0,877.9 L1126.2,877.9 L1126.5,879.0 L1126.8,879.5 L1127.0,880.1 L1127.2,879.7 L1127.5,880.3 L1127.8,879.7 L1128.0,878.9 L1128.2,880.5 L1128.5,879.0 L1128.8,879.0 L1129.0,880.4 L1129.2,879.3 L1129.5,879.9 L1129.8,878.4 L1130.0,878.5 L1130.2,879.0 L1130.5,876.9 L1130.8,876.6 L1131.0,875.2 L1131.2,870.1 L1131.5,867.0 L1131.8,867.7 L1132.0,871.8 L1132.2,875.5 L1132.5,877.4 L1132.8,877.2 L1133.0,878.3 L1133.2,879.5 L1133.5,880.7 L1133.8,879.4 L1134.0,880.4 L1134.2,879.6 L1134.5,881.1 L1134.8,880.4 L1135.0,880.6 L1135.2,881.0 L1135.5,880.0 L1135.8,881.2 L1136.0,881.4 L1136.2,881.5 L1136.5,880.4 L1136.8,880.3 L1137.0,880.2 L1137.2,881.7 L1137.5,880.8 L1137.8,880.7 L1138.0,881.0 L1138.2,881.3 L1138.5,880.6 L1138.8,880.6 L1139.0,881.5 L1139.2,881.5 L1139.5,880.6 L1139.8,880.1 L1140.0,881.9 L1140.2,881.5 L1140.5,881.2 L1140.8,880.8 L1141.0,881.9 L1141.2,880.9 L1141.5,880.5 L1141.8,880.2 L1142.0,880.7 L1142.2,881.2 L1142.5,880.7 L1142.8,881.9 L1143.0,881.3 L1143.2,880.9 L1143.5,881.3 L1143.8,881.2 L1144.0,881.2 L1144.2,880.9 L1144.5,881.0 L1144.8,880.9 L1145.0,881.5 L1145.2,880.2 L1145.5,881.3 L1145.8,880.2 L1146.0,881.2 L1146.2,879.4 L1146.5,879.9 L1146.8,879.4 L1147.0,879.3 L1147.2,877.0 L1147.5,875.1 L1147.8,871.5 L1148.0,870.1 L1148.2,872.4 L1148.5,874.6 L1148.8,877.0 L1149.0,878.3 L1149.2,880.5 L1149.5,879.9 L1149.8,880.4 L1150.0,880.1 L1150.2,881.0 L1150.5,881.4 L1150.8,881.2 L1151.0,879.9 L1151.2,880.8 L1151.5,880.9 L1151.8,880.1 L1152.0,881.6 L1152.2,880.7 L1152.5,880.7 L1152.8,881.3 L1153.0,881.3 L1153.2,881.1 L1153.5,881.8 L1153.8,881.2 L1154.0,880.8 L1154.2,880.3 L1154.5,881.3 L1154.8,880.9 L1155.0,881.2 L1155.2,880.9 L1155.5,880.2 L1155.8,880.3 L1156.0,880.5 L1156.2,880.4 L1156.5,881.9 L1156.8,881.3 L1157.0,880.7 L1157.2,881.6 L1157.5,881.5 L1157.8,880.3 L1158.0,881.7 L1158.2,880.7 L1158.5,882.2 L1158.8,880.5 L1159.0,880.8 L1159.2,880.7 L1159.5,881.9 L1159.8,881.8 L1160.0,881.4 L1160.2,880.5 L1160.5,881.1 L1160.8,881.6 L1161.0,880.3 L1161.2,882.0 L1161.5,881.9 L1161.8,882.0 L1162.0,881.6 L1162.2,881.4 L1162.5,882.1 L1162.8,880.7 L1163.0,880.8 L1163.2,880.4 L1163.5,880.5 L1163.8,881.7 L1164.0,880.3 L1164.2,881.6 L1164.5,880.9 L1164.8,881.9 L1165.0,881.6 L1165.2,881.4 L1165.5,881.7 L1165.8,880.1 L1166.0,880.5 L1166.2,880.7 L1166.5,880.8 L1166.8,881.3 L1167.0,881.6 L1167.2,881.3 L1167.5,881.6 L1167.8,881.1 L1168.0,880.3 L1168.2,880.5 L1168.5,880.8 L1168.8,880.7 L1169.0,879.5 L1169.2,879.1 L1169.5,879.0 L1169.8,877.3 L1170.0,877.2 L1170.2,873.0 L1170.5,870.3 L1170.8,864.9 L1171.0,863.5 L1171.2,869.1 L1171.5,873.3 L1171.8,876.9 L1172.0,878.4 L1172.2,878.8 L1172.5,880.0 L1172.8,880.4 L1173.0,879.3 L1173.2,880.8 L1173.5,881.0 L1173.8,881.5 L1174.0,881.1 L1174.2,880.4 L1174.5,880.1 L1174.8,881.1 L1175.0,880.2 L1175.2,881.3 L1175.5,881.0 L1175.8,881.5 L1176.0,880.6 L1176.2,880.5 L1176.5,881.7 L1176.8,881.2 L1177.0,880.6 L1177.2,881.0 L1177.5,880.7 L1177.8,881.1 L1178.0,880.9 L1178.2,880.4 L1178.5,881.7 L1178.8,881.5 L1179.0,881.2 L1179.2,880.3 L1179.5,880.1 L1179.8,881.1 L1180.0,881.2 L1180.2,880.8 L1180.5,879.9 L1180.8,880.9 L1181.0,880.4 L1181.2,880.0 L1181.5,880.4 L1181.8,880.0 L1182.0,880.3 L1182.2,880.3 L1182.5,880.6 L1182.8,878.7 L1183.0,879.4 L1183.2,879.9 L1183.5,879.0 L1183.8,878.5 L1184.0,878.6 L1184.2,876.4 L1184.5,877.2 L1184.8,875.9 L1185.0,874.7 L1185.2,872.6 L1185.5,871.0 L1185.8,866.9 L1186.0,863.2 L1186.2,855.6 L1186.5,846.0 L1186.8,832.5 L1187.0,829.9 L1187.2,843.0 L1187.5,854.0 L1187.8,862.0 L1188.0,866.2 L1188.2,870.9 L1188.5,873.0 L1188.8,874.7 L1189.0,874.5 L1189.2,876.9 L1189.5,876.0 L1189.8,877.7 L1190.0,878.0 L1190.2,877.5 L1190.5,878.4 L1190.8,879.6 L1191.0,879.2 L1191.2,878.7 L1191.5,879.8 L1191.8,878.9 L1192.0,880.0 L1192.2,879.0 L1192.5,878.3 L1192.8,880.0 L1193.0,878.0 L1193.2,878.1 L1193.5,878.8 L1193.8,877.0 L1194.0,877.2 L1194.2,876.9 L1194.5,875.1 L1194.8,872.7 L1195.0,870.6 L1195.2,866.0 L1195.5,858.1 L1195.8,849.0 L1196.0,847.1 L1196.2,855.9 L1196.5,865.1 L1196.8,870.3 L1197.0,871.6 L1197.2,874.2 L1197.5,875.7 L1197.8,877.8 L1198.0,877.4 L1198.2,877.9 L1198.5,879.5 L1198.8,878.7 L1199.0,880.5 L1199.2,879.7 L1199.5,880.8 L1199.8,880.8 L1200.0,879.7 L1200.2,880.9 L1200.5,880.3 L1200.8,879.9 L1201.0,879.6 L1201.2,881.0 L1201.5,880.7 L1201.8,880.2 L1202.0,881.3 L1202.2,880.0 L1202.5,880.4 L1202.8,879.6 L1203.0,879.9 L1203.2,880.6 L1203.5,879.1 L1203.8,877.0 L1204.0,875.5 L1204.2,876.6 L1204.5,877.6 L1204.8,880.1 L1205.0,879.1 L1205.2,881.1 L1205.5,880.9 L1205.8,881.4 L1206.0,880.6 L1206.2,880.1 L1206.5,880.4 L1206.8,881.3 L1207.0,880.1 L1207.2,880.3 L1207.5,881.7 L1207.8,881.9 L1208.0,881.9 L1208.2,881.8 L1208.5,881.3 L1208.8,881.9 L1209.0,881.5 L1209.2,881.3 L1209.5,881.0 L1209.8,880.1 L1210.0,880.2 L1210.2,880.5 L1210.5,880.8 L1210.8,880.0 L1211.0,881.5 L1211.2,880.4 L1211.5,880.2 L1211.8,879.4 L1212.0,876.3 L1212.2,875.8 L1212.5,876.9 L1212.8,877.6 L1213.0,878.6 L1213.2,880.7 L1213.5,881.3 L1213.8,881.3 L1214.0,880.7 L1214.2,881.2 L1214.5,880.3 L1214.8,880.6 L1215.0,881.0 L1215.2,881.7 L1215.5,880.4 L1215.8,882.1 L1216.0,880.4 L1216.2,882.2 L1216.5,880.8 L1216.8,882.0 L1217.0,882.0 L1217.2,882.3 L1217.5,881.3 L1217.8,881.8 L1218.0,880.9 L1218.2,882.0 L1218.5,880.6 L1218.8,882.1 L1219.0,881.6 L1219.2,880.5 L1219.5,882.3 L1219.8,881.0 L1220.0,880.5 L1220.2,880.9 L1220.5,880.4 L1220.8,880.9 L1221.0,881.8 L1221.2,882.3 L1221.5,881.6 L1221.8,882.1 L1222.0,882.0 L1222.2,881.8 L1222.5,881.1 L1222.8,880.8 L1223.0,880.6 L1223.2,881.4 L1223.5,880.7 L1223.8,881.7 L1224.0,880.8 L1224.2,881.3 L1224.5,881.1 L1224.8,881.2 L1225.0,880.1 L1225.2,880.0 L1225.5,880.3 L1225.8,878.3 L1226.0,877.7 L1226.2,877.6 L1226.5,877.8 L1226.8,880.3 L1227.0,880.3 L1227.2,881.4 L1227.5,880.8 L1227.8,881.4 L1228.0,881.3 L1228.2,880.4 L1228.5,881.1 L1228.8,881.2 L1229.0,881.0 L1229.2,881.4 L1229.5,881.9 L1229.8,881.7 L1230.0,881.7 L1230.2,880.3 L1230.5,881.4 L1230.8,881.2 L1231.0,881.8 L1231.2,879.9 L1231.5,880.2 L1231.8,881.8 L1232.0,880.5 L1232.2,881.1 L1232.5,880.8 L1232.8,880.3 L1233.0,880.3 L1233.2,880.4 L1233.5,881.1 L1233.8,880.1 L1234.0,880.4 L1234.2,879.2 L1234.5,879.7 L1234.8,879.1 L1235.0,878.8 L1235.2,878.5 L1235.5,876.0 L1235.8,876.6 L1236.0,874.2 L1236.2,871.1 L1236.5,867.7 L1236.8,861.1 L1237.0,852.4 L1237.2,845.7 L1237.5,849.4 L1237.8,859.3 L1238.0,864.9 L1238.2,869.1 L1238.5,872.3 L1238.8,874.2 L1239.0,875.5 L1239.2,875.1 L1239.5,875.9 L1239.8,874.9 L1240.0,872.9 L1240.2,871.1 L1240.5,864.8 L1240.8,859.7 L1241.0,858.0 L1241.2,863.7 L1241.5,870.1 L1241.8,873.7 L1242.0,876.0 L1242.2,876.9 L1242.5,878.9 L1242.8,879.2 L1243.0,878.4 L1243.2,878.4 L1243.5,880.6 L1243.8,879.7 L1244.0,879.2 L1244.2,879.5 L1244.5,880.6 L1244.8,879.6 L1245.0,880.1 L1245.2,880.7 L1245.5,880.0 L1245.8,880.6 L1246.0,881.2 L1246.2,880.8 L1246.5,880.4 L1246.8,880.3 L1247.0,879.5 L1247.2,880.0 L1247.5,879.7 L1247.8,879.3 L1248.0,878.7 L1248.2,878.6 L1248.5,876.8 L1248.8,876.9 L1249.0,876.2 L1249.2,872.8 L1249.5,871.7 L1249.8,872.1 L1250.0,870.2 L1250.2,872.6 L1250.5,873.6 L1250.8,874.1 L1251.0,876.5 L1251.2,876.3 L1251.5,878.8 L1251.8,878.3 L1252.0,880.0 L1252.2,880.3 L1252.5,879.1 L1252.8,879.8 L1253.0,879.5 L1253.2,880.8 L1253.5,879.6 L1253.8,879.7 L1254.0,879.8 L1254.2,881.4 L1254.5,880.2 L1254.8,880.3 L1255.0,880.6 L1255.2,880.8 L1255.5,880.5 L1255.8,881.5 L1256.0,880.2 L1256.2,880.4 L1256.5,881.0 L1256.8,879.6 L1257.0,879.1 L1257.2,880.0 L1257.5,878.4 L1257.8,878.6 L1258.0,876.9 L1258.2,873.4 L1258.5,869.2 L1258.8,863.4 L1259.0,864.1 L1259.2,868.3 L1259.5,872.7 L1259.8,875.2 L1260.0,877.1 L1260.2,879.4 L1260.5,878.6 L1260.8,880.0 L1261.0,880.5 L1261.2,880.5 L1261.5,880.7 L1261.8,880.6 L1262.0,880.3 L1262.2,881.7 L1262.5,881.9 L1262.8,881.3 L1263.0,880.7 L1263.2,882.1 L1263.5,880.7 L1263.8,880.7 L1264.0,881.6 L1264.2,882.1 L1264.5,881.6 L1264.8,880.7 L1265.0,882.4 L1265.2,880.8 L1265.5,881.2 L1265.8,882.5 L1266.0,882.1 L1266.2,882.0 L1266.5,880.7 L1266.8,882.3 L1267.0,881.4 L1267.2,880.6 L1267.5,882.2 L1267.8,882.4 L1268.0,880.7 L1268.2,881.5 L1268.5,882.4 L1268.8,881.3 L1269.0,881.2 L1269.2,882.2 L1269.5,881.5 L1269.8,882.6 L1270.0,882.4 L1270.2,882.4 L1270.5,882.1 L1270.8,881.0 L1271.0,882.0 L1271.2,881.8 L1271.5,881.6 L1271.8,881.8 L1272.0,881.3 L1272.2,881.1 L1272.5,882.5 L1272.8,881.4 L1273.0,880.9 L1273.2,882.6 L1273.5,881.7 L1273.8,882.0 L1274.0,881.4 L1274.2,881.0 L1274.5,881.4 L1274.8,882.4 L1275.0,881.3" fill="none" stroke="#1a1a2c" stroke-width="1.3" stroke-linejoin="round"/>
<g font-family='"Liberation Sans", sans-serif' font-size="21.5" fill="#1c1c1c">
<text x="711.3" y="630.5" text-anchor="end">10000</text>
<text x="711.3" y="769.3" text-anchor="end">2500</text>
<text x="711.3" y="902.5" text-anchor="end">0</text>
<text x="809.4" y="913.5" text-anchor="middle">20</text>
<text x="903.4" y="913.5" text-anchor="middle">30</text>
<text x="997.4" y="913.5" text-anchor="middle">40</text>
<text x="1091.4" y="913.5" text-anchor="middle">50</text>
<text x="1185.4" y="913.5" text-anchor="middle">60</text>
<text x="974.5" y="939.6" font-size="22.5" textLength="53" lengthAdjust="spacingAndGlyphs">2<tspan font-style="italic">θ</tspan>/(°)</text>
<text transform="translate(646,694.4) rotate(-90)" text-anchor="middle" font-size="21.5">Counts</text>
</g>
<text x="788.4" y="554" font-family='"Liberation Serif", serif' font-size="31" fill="#000">(d)</text>
<rect x="1026.6" y="584.5" width="7.4" height="11.1" fill="#18f018"/>
<rect x="1026.6" y="608.5" width="7.4" height="11.2" fill="#f018f0"/>
<rect x="1026.6" y="633.4" width="7.4" height="10.4" fill="#78780c"/>
<g font-family='"Liberation Serif", serif' font-size="24.5" fill="#000">
<text x="1044" y="595.6"><tspan textLength="49" lengthAdjust="spacingAndGlyphs">MoS</tspan><tspan font-size="16" dy="2">2</tspan></text><text x="1117" y="595.6" textLength="104" lengthAdjust="spacingAndGlyphs">18.15 wt%</text>
<text x="1044" y="624"><tspan textLength="52" lengthAdjust="spacingAndGlyphs">MoO</tspan><tspan font-size="16" dy="2">2</tspan></text><text x="1119.6" y="624" textLength="93.4" lengthAdjust="spacingAndGlyphs">4.66 wt%</text>
<text x="1044" y="651.5"><tspan textLength="35.3" lengthAdjust="spacingAndGlyphs">Mo</tspan><tspan font-size="16" dy="1.5">6</tspan><tspan dy="-1.5" x="1087.9">S</tspan><tspan font-size="16" dy="1.5">8</tspan></text><text x="1116" y="651.5" textLength="106" lengthAdjust="spacingAndGlyphs">77.19 wt%</text>
</g>
</g>
</svg></body></html>
